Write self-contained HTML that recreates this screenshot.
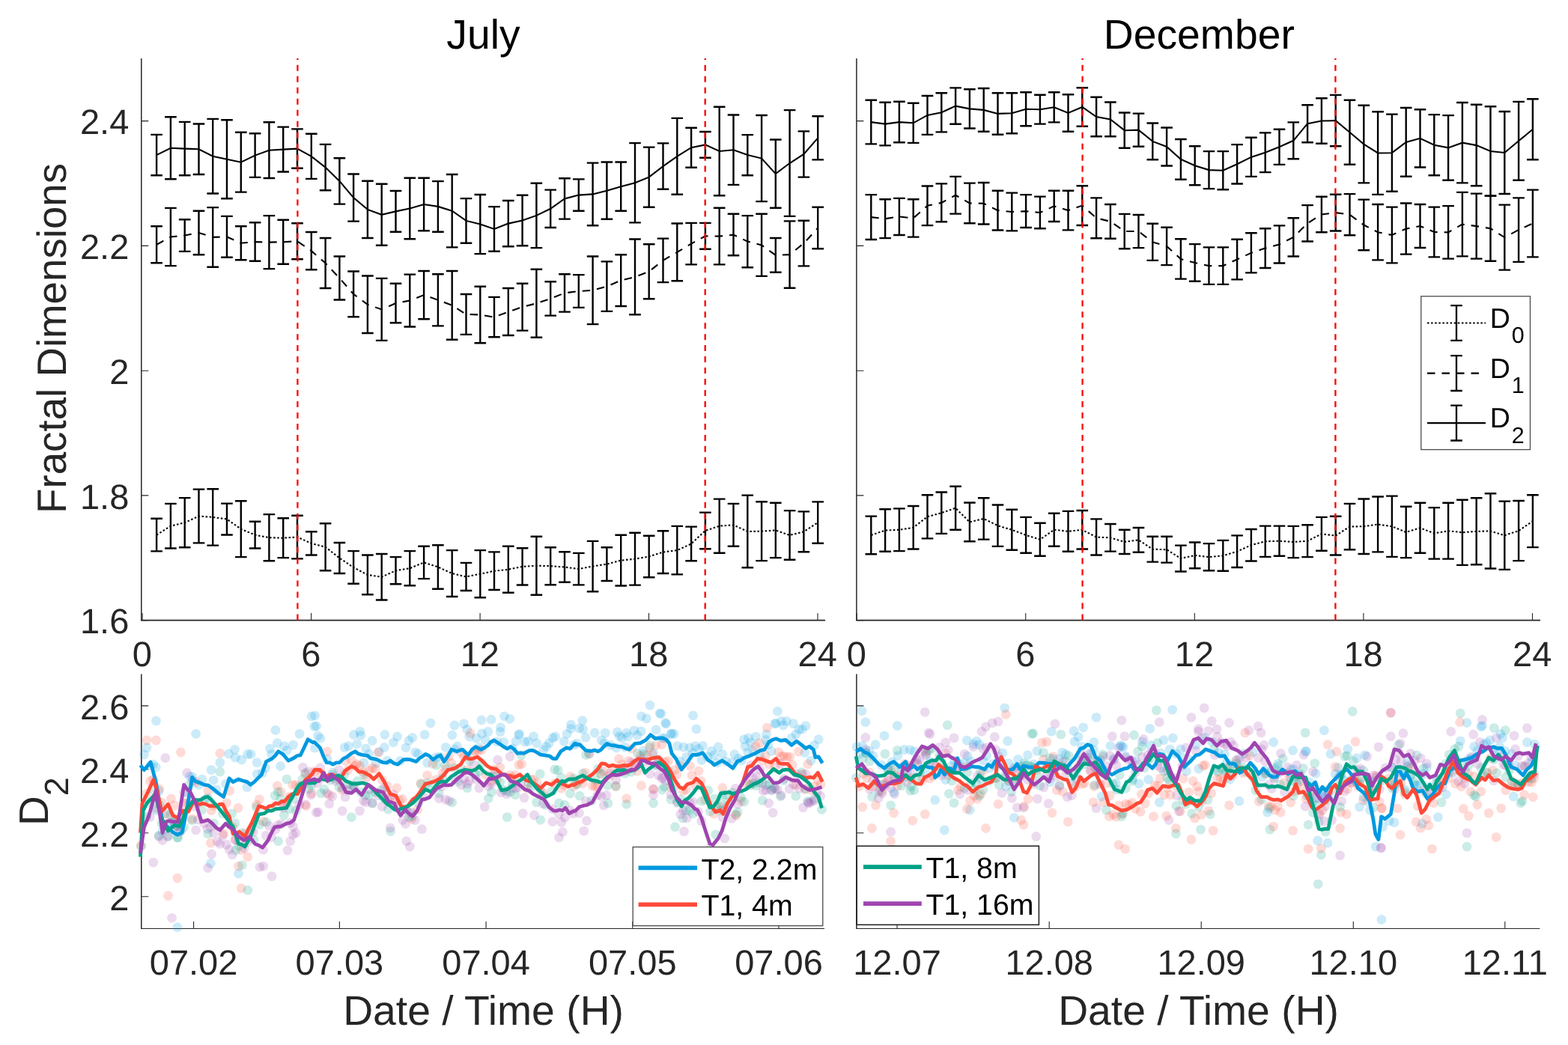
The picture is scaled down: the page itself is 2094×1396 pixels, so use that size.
<!DOCTYPE html>
<html><head><meta charset="utf-8"><title>Fractal Dimensions</title>
<style>html,body{margin:0;padding:0;background:#fff;}svg{display:block;}</style>
</head><body>
<svg width="2094" height="1396" viewBox="0 0 2094 1396" font-family="'Liberation Sans', Arial, Helvetica, sans-serif" text-rendering="geometricPrecision">
<rect width="2094" height="1396" fill="#fff"/>
<path d="M188.8 78V828.6" fill="none" stroke="#262626" stroke-width="1.5"/>
<path d="M188 828.6H1102" fill="none" stroke="#262626" stroke-width="1.6"/>
<path d="M188.8 828.6H198.3M188.8 661.9H198.3M188.8 495.2H198.3M188.8 328.4H198.3M188.8 161.6H198.3M190.1 828.6V819.1M415.6 828.6V819.1M641.1 828.6V819.1M866.5 828.6V819.1M1092 828.6V819.1" fill="none" stroke="#262626" stroke-width="1.1"/>
<path d="M1143.9 78V828.6" fill="none" stroke="#262626" stroke-width="1.5"/>
<path d="M1143.1 828.6H2057" fill="none" stroke="#262626" stroke-width="1.6"/>
<path d="M1143.9 828.6H1153.4M1143.9 661.9H1153.4M1143.9 495.2H1153.4M1143.9 328.4H1153.4M1143.9 161.6H1153.4M1144.1 828.6V819.1M1369.7 828.6V819.1M1595.3 828.6V819.1M1820.9 828.6V819.1M2046.5 828.6V819.1" fill="none" stroke="#262626" stroke-width="1.1"/>
<path d="M188.8 900.5V1240.5" fill="none" stroke="#262626" stroke-width="1.5"/>
<path d="M188 1240.5H1101" fill="none" stroke="#262626" stroke-width="1.15"/>
<path d="M188.8 1197.8H198.3M188.8 1112.8H198.3M188.8 1027.8H198.3M188.8 942.9H198.3M258.6 1240.5V1231M453.4 1240.5V1231M649.1 1240.5V1231M844.8 1240.5V1231M1040 1240.5V1231" fill="none" stroke="#262626" stroke-width="1.1"/>
<path d="M1143.9 900.5V1240.5" fill="none" stroke="#262626" stroke-width="1.5"/>
<path d="M1143.1 1240.5H2056.3" fill="none" stroke="#262626" stroke-width="1.15"/>
<path d="M1143.9 1197.8H1153.4M1143.9 1112.8H1153.4M1143.9 1027.8H1153.4M1143.9 942.9H1153.4M1198 1240.5V1231M1401.2 1240.5V1231M1604.2 1240.5V1231M1807.3 1240.5V1231M2009.8 1240.5V1231" fill="none" stroke="#262626" stroke-width="1.1"/>
<polyline points="209.1,714.6 227.9,702.7 246.7,698.2 265.5,689.5 284.2,690.9 303,693.5 321.8,706.7 340.6,714.6 359.4,718.2 378.2,718.7 397,717.5 415.8,725.9 434.6,730.7 453.4,745.5 472.1,758 490.9,767.9 509.7,770.8 528.5,762.2 547.3,759.2 566.1,751.4 584.9,757.5 603.7,766 622.5,770.5 641.3,766.7 660,762.7 678.8,760.8 697.6,756.9 716.4,755.7 735.2,756.2 754,757.5 772.8,760.1 791.6,756.5 810.4,753.6 829.2,748.6 848,746.7 866.7,743.5 885.5,737.6 904.3,735.1 923.1,726.5 941.9,708.9 960.7,702.7 979.5,701.3 998.3,710 1017.1,709.7 1035.8,708.4 1054.6,715 1073.4,710.3 1092.2,698" fill="none" stroke="#000" stroke-width="2.1" stroke-dasharray="2.5 2.6"/>
<path d="M209.1 692.8V736.4M201.3 692.8H216.9M201.3 736.4H216.9M227.9 672.9V732.5M220.1 672.9H235.7M220.1 732.5H235.7M246.7 665.1V731.2M238.9 665.1H254.5M238.9 731.2H254.5M265.5 653.6V725.4M257.7 653.6H273.3M257.7 725.4H273.3M284.2 653.2V728.6M276.4 653.2H292.1M276.4 728.6H292.1M303 672.6V714.5M295.2 672.6H310.8M295.2 714.5H310.8M321.8 669.3V744.1M314 669.3H329.6M314 744.1H329.6M340.6 696.7V732.5M332.8 696.7H348.4M332.8 732.5H348.4M359.4 687.1V749.3M351.6 687.1H367.2M351.6 749.3H367.2M378.2 692.3V745.1M370.4 692.3H386M370.4 745.1H386M397 688.7V746.4M389.2 688.7H404.8M389.2 746.4H404.8M415.8 710.2V741.5M408 710.2H423.6M408 741.5H423.6M434.6 699.2V762.2M426.8 699.2H442.4M426.8 762.2H442.4M453.4 725V766M445.6 725H461.2M445.6 766H461.2M472.1 736.1V779.8M464.3 736.1H479.9M464.3 779.8H479.9M490.9 741.5V794.2M483.1 741.5H498.7M483.1 794.2H498.7M509.7 740V801.5M501.9 740H517.5M501.9 801.5H517.5M528.5 744.1V780.2M520.7 744.1H536.3M520.7 780.2H536.3M547.3 736.1V782.2M539.5 736.1H555.1M539.5 782.2H555.1M566.1 729.7V773.1M558.3 729.7H573.9M558.3 773.1H573.9M584.9 728.3V786.7M577.1 728.3H592.7M577.1 786.7H592.7M603.7 735.1V797M595.9 735.1H611.5M595.9 797H611.5M622.5 751.9V789M614.7 751.9H630.3M614.7 789H630.3M641.3 735.1V798.3M633.5 735.1H649.1M633.5 798.3H649.1M660 737.4V788M652.2 737.4H667.8M652.2 788H667.8M678.8 729.7V791.8M671 729.7H686.6M671 791.8H686.6M697.6 732.3V781.5M689.8 732.3H705.4M689.8 781.5H705.4M716.4 716.7V794.7M708.6 716.7H724.2M708.6 794.7H724.2M735.2 731.2V781.2M727.4 731.2H743M727.4 781.2H743M754 737.3V777.7M746.2 737.3H761.8M746.2 777.7H761.8M772.8 738.9V781.4M765 738.9H780.6M765 781.4H780.6M791.6 722.9V790.2M783.8 722.9H799.4M783.8 790.2H799.4M810.4 731.2V776M802.6 731.2H818.2M802.6 776H818.2M829.2 714.8V782.5M821.4 714.8H837M821.4 782.5H837M848 711.8V781.6M840.2 711.8H855.8M840.2 781.6H855.8M866.7 715.8V771.3M858.9 715.8H874.5M858.9 771.3H874.5M885.5 709.2V766M877.7 709.2H893.3M877.7 766H893.3M904.3 702.9V767.4M896.5 702.9H912.1M896.5 767.4H912.1M923.1 703.6V749.3M915.3 703.6H930.9M915.3 749.3H930.9M941.9 684.6V733.2M934.1 684.6H949.7M934.1 733.2H949.7M960.7 666.6V738.8M952.9 666.6H968.5M952.9 738.8H968.5M979.5 672.9V729.7M971.7 672.9H987.3M971.7 729.7H987.3M998.3 661.6V758.3M990.5 661.6H1006.1M990.5 758.3H1006.1M1017.1 670.3V749.1M1009.3 670.3H1024.9M1009.3 749.1H1024.9M1035.8 671.7V745.1M1028 671.7H1043.6M1028 745.1H1043.6M1054.6 682.1V747.8M1046.8 682.1H1062.4M1046.8 747.8H1062.4M1073.4 683.4V737.3M1065.6 683.4H1081.2M1065.6 737.3H1081.2M1092.2 670.4V725.7M1084.4 670.4H1100M1084.4 725.7H1100" fill="none" stroke="#000" stroke-width="2.4"/>
<polyline points="209.1,326.8 227.9,316.5 246.7,314.5 265.5,311 284.2,316.9 303,316.4 321.8,324.8 340.6,323.1 359.4,323.6 378.2,323.2 397,322.3 415.8,335.1 434.6,351.5 453.4,371.5 472.1,392.9 490.9,406.8 509.7,413.4 528.5,405.1 547.3,401.6 566.1,394.1 584.9,400.8 603.7,407.9 622.5,419.9 641.3,420.5 660,423.6 678.8,416.5 697.6,410.2 716.4,405.2 735.2,398.9 754,391.4 772.8,389 791.6,387.8 810.4,382.6 829.2,374.6 848,369.9 866.7,362.8 885.5,347.9 904.3,336.9 923.1,325.6 941.9,315.4 960.7,315.6 979.5,313.6 998.3,322.6 1017.1,327.4 1035.8,340.9 1054.6,340.1 1073.4,325.1 1092.2,304.5" fill="none" stroke="#000" stroke-width="2.1" stroke-dasharray="10.5 9"/>
<path d="M209.1 302.3V351.2M201.3 302.3H216.9M201.3 351.2H216.9M227.9 277.9V355.1M220.1 277.9H235.7M220.1 355.1H235.7M246.7 293.2V335.9M238.9 293.2H254.5M238.9 335.9H254.5M265.5 281.8V340.2M257.7 281.8H273.3M257.7 340.2H273.3M284.2 277.1V356.7M276.4 277.1H292.1M276.4 356.7H292.1M303 288.9V343.8M295.2 288.9H310.8M295.2 343.8H310.8M321.8 302.3V347.2M314 302.3H329.6M314 347.2H329.6M340.6 297.3V348.8M332.8 297.3H348.4M332.8 348.8H348.4M359.4 288.1V359.1M351.6 288.1H367.2M351.6 359.1H367.2M378.2 293.7V352.8M370.4 293.7H386M370.4 352.8H386M397 298.3V346.3M389.2 298.3H404.8M389.2 346.3H404.8M415.8 310V360.2M408 310H423.6M408 360.2H423.6M434.6 318V385M426.8 318H442.4M426.8 385H442.4M453.4 342.5V400.5M445.6 342.5H461.2M445.6 400.5H461.2M472.1 362.5V423.2M464.3 362.5H479.9M464.3 423.2H479.9M490.9 368.5V445M483.1 368.5H498.7M483.1 445H498.7M509.7 371.9V454.9M501.9 371.9H517.5M501.9 454.9H517.5M528.5 378.8V431.3M520.7 378.8H536.3M520.7 431.3H536.3M547.3 366.6V436.5M539.5 366.6H555.1M539.5 436.5H555.1M566.1 362V426.2M558.3 362H573.9M558.3 426.2H573.9M584.9 366.2V435.4M577.1 366.2H592.7M577.1 435.4H592.7M603.7 362V453.7M595.9 362H611.5M595.9 453.7H611.5M622.5 393V446.9M614.7 393H630.3M614.7 446.9H630.3M641.3 382.7V458.3M633.5 382.7H649.1M633.5 458.3H649.1M660 396.9V450.3M652.2 396.9H667.8M652.2 450.3H667.8M678.8 385V448M671 385H686.6M671 448H686.6M697.6 378.8V441.6M689.8 378.8H705.4M689.8 441.6H705.4M716.4 359.7V450.7M708.6 359.7H724.2M708.6 450.7H724.2M735.2 376.2V421.6M727.4 376.2H743M727.4 421.6H743M754 366.2V416.6M746.2 366.2H761.8M746.2 416.6H761.8M772.8 367.1V410.9M765 367.1H780.6M765 410.9H780.6M791.6 342.5V433.1M783.8 342.5H799.4M783.8 433.1H799.4M810.4 349.4V415.9M802.6 349.4H818.2M802.6 415.9H818.2M829.2 340.3V409M821.4 340.3H837M821.4 409H837M848 319.5V420.2M840.2 319.5H855.8M840.2 420.2H855.8M866.7 326.3V399.3M858.9 326.3H874.5M858.9 399.3H874.5M885.5 318.6V377.1M877.7 318.6H893.3M877.7 377.1H893.3M904.3 298.5V375.3M896.5 298.5H912.1M896.5 375.3H912.1M923.1 297.9V353.4M915.3 297.9H930.9M915.3 353.4H930.9M941.9 297.9V332.8M934.1 297.9H949.7M934.1 332.8H949.7M960.7 277.8V353.4M952.9 277.8H968.5M952.9 353.4H968.5M979.5 285.8V341.3M971.7 285.8H987.3M971.7 341.3H987.3M998.3 288.1V357.2M990.5 288.1H1006.1M990.5 357.2H1006.1M1017.1 285.8V368.9M1009.3 285.8H1024.9M1009.3 368.9H1024.9M1035.8 318V363.7M1028 318H1043.6M1028 363.7H1043.6M1054.6 295.4V384.8M1046.8 295.4H1062.4M1046.8 384.8H1062.4M1073.4 294.8V355.4M1065.6 294.8H1081.2M1065.6 355.4H1081.2M1092.2 276.8V332.2M1084.4 276.8H1100M1084.4 332.2H1100" fill="none" stroke="#000" stroke-width="2.4"/>
<polyline points="209.1,207.1 227.9,197.8 246.7,198.6 265.5,199.2 284.2,208.7 303,212.8 321.8,216.7 340.6,207.6 359.4,200.7 378.2,199.6 397,198.6 415.8,208.8 434.6,223.6 453.4,241.9 472.1,264.1 490.9,279.9 509.7,286.8 528.5,282.4 547.3,278.5 566.1,273 584.9,275.9 603.7,281.7 622.5,294.9 641.3,299.6 660,305.9 678.8,298.6 697.6,294.5 716.4,287.9 735.2,278.8 754,265.5 772.8,260.6 791.6,259.4 810.4,254.7 829.2,249.2 848,244.2 866.7,236.7 885.5,222.1 904.3,208.9 923.1,197.2 941.9,193.4 960.7,202 979.5,200.2 998.3,207.1 1017.1,211.6 1035.8,232.2 1054.6,218 1073.4,206 1092.2,184.4" fill="none" stroke="#000" stroke-width="2.1"/>
<path d="M209.1 179.9V234.2M201.3 179.9H216.9M201.3 234.2H216.9M227.9 156.2V239.3M220.1 156.2H235.7M220.1 239.3H235.7M246.7 162.9V234.2M238.9 162.9H254.5M238.9 234.2H254.5M265.5 165.5V233M257.7 165.5H273.3M257.7 233H273.3M284.2 158.9V258.5M276.4 158.9H292.1M276.4 258.5H292.1M303 160.2V265.3M295.2 160.2H310.8M295.2 265.3H310.8M321.8 176.7V256.6M314 176.7H329.6M314 256.6H329.6M340.6 178.3V236.9M332.8 178.3H348.4M332.8 236.9H348.4M359.4 163.3V238M351.6 163.3H367.2M351.6 238H367.2M378.2 169.6V229.5M370.4 169.6H386M370.4 229.5H386M397 172.4V224.8M389.2 172.4H404.8M389.2 224.8H404.8M415.8 178.7V238.9M408 178.7H423.6M408 238.9H423.6M434.6 192.9V254.3M426.8 192.9H442.4M426.8 254.3H442.4M453.4 211.2V272.6M445.6 211.2H461.2M445.6 272.6H461.2M472.1 232.5V295.6M464.3 232.5H479.9M464.3 295.6H479.9M490.9 241.7V318M483.1 241.7H498.7M483.1 318H498.7M509.7 245.8V327.7M501.9 245.8H517.5M501.9 327.7H517.5M528.5 255V309.8M520.7 255H536.3M520.7 309.8H536.3M547.3 237.8V319.2M539.5 237.8H555.1M539.5 319.2H555.1M566.1 237.8V308.2M558.3 237.8H573.9M558.3 308.2H573.9M584.9 242.1V309.8M577.1 242.1H592.7M577.1 309.8H592.7M603.7 233V330.4M595.9 233H611.5M595.9 330.4H611.5M622.5 265.1V324.7M614.7 265.1H630.3M614.7 324.7H630.3M641.3 260V339.1M633.5 260H649.1M633.5 339.1H649.1M660 276.1V335.7M652.2 276.1H667.8M652.2 335.7H667.8M678.8 268V329.3M671 268H686.6M671 329.3H686.6M697.6 260.7V328.3M689.8 260.7H705.4M689.8 328.3H705.4M716.4 244.7V331.1M708.6 244.7H724.2M708.6 331.1H724.2M735.2 253.6V304M727.4 253.6H743M727.4 304H743M754 238.3V292.6M746.2 238.3H761.8M746.2 292.6H761.8M772.8 239.4V281.8M765 239.4H780.6M765 281.8H780.6M791.6 217.6V301.3M783.8 217.6H799.4M783.8 301.3H799.4M810.4 216.5V292.8M802.6 216.5H818.2M802.6 292.8H818.2M829.2 216.5V281.8M821.4 216.5H837M821.4 281.8H837M848 191.1V297.4M840.2 191.1H855.8M840.2 297.4H855.8M866.7 196.6V276.8M858.9 196.6H874.5M858.9 276.8H874.5M885.5 191.4V252.8M877.7 191.4H893.3M877.7 252.8H893.3M904.3 157.9V259.8M896.5 157.9H912.1M896.5 259.8H912.1M923.1 170.8V223.7M915.3 170.8H930.9M915.3 223.7H930.9M941.9 176V210.8M934.1 176H949.7M934.1 210.8H949.7M960.7 142.7V261.3M952.9 142.7H968.5M952.9 261.3H968.5M979.5 153.5V246.9M971.7 153.5H987.3M971.7 246.9H987.3M998.3 180.1V234.2M990.5 180.1H1006.1M990.5 234.2H1006.1M1017.1 154V269.1M1009.3 154H1024.9M1009.3 269.1H1024.9M1035.8 186.5V277.8M1028 186.5H1043.6M1028 277.8H1043.6M1054.6 147.1V288.9M1046.8 147.1H1062.4M1046.8 288.9H1062.4M1073.4 175.4V236.6M1065.6 175.4H1081.2M1065.6 236.6H1081.2M1092.2 155.3V213.4M1084.4 155.3H1100M1084.4 213.4H1100" fill="none" stroke="#000" stroke-width="2.4"/>
<polyline points="1163.3,714.9 1182.1,708.5 1200.9,707.8 1219.7,704.8 1238.5,690.3 1257.3,685.2 1276.1,678.7 1294.9,697.4 1313.7,692.9 1332.5,702.2 1351.3,707.8 1370.1,714.8 1388.9,720.8 1407.7,707.7 1426.5,709.8 1445.3,707.8 1464.1,717.5 1482.9,718.3 1501.7,723.9 1520.5,721.4 1539.3,733.7 1558.1,734.2 1576.9,746 1595.7,741.9 1614.5,744.2 1633.3,742.3 1652.1,736.7 1670.9,728.2 1689.7,723.2 1708.5,722.7 1727.3,724 1746.1,722.7 1764.9,713.3 1783.7,715.6 1802.5,703.5 1821.3,703.2 1840.1,700.5 1858.9,703.2 1877.7,711 1896.5,705.3 1915.3,712.4 1934.1,709.2 1952.9,711.3 1971.7,709.8 1990.5,709.4 2009.3,715.2 2028.1,709 2046.9,696.2" fill="none" stroke="#000" stroke-width="2.1" stroke-dasharray="2.5 2.6"/>
<path d="M1163.3 689.6V740.2M1155.5 689.6H1171.1M1155.5 740.2H1171.1M1182.1 680.3V736.8M1174.3 680.3H1189.9M1174.3 736.8H1189.9M1200.9 679.4V736.1M1193.1 679.4H1208.7M1193.1 736.1H1208.7M1219.7 676V733.5M1211.9 676H1227.5M1211.9 733.5H1227.5M1238.5 661.2V719.4M1230.7 661.2H1246.3M1230.7 719.4H1246.3M1257.3 657.5V712.9M1249.5 657.5H1265.1M1249.5 712.9H1265.1M1276.1 649.7V707.7M1268.3 649.7H1283.9M1268.3 707.7H1283.9M1294.9 671.5V723.2M1287.1 671.5H1302.7M1287.1 723.2H1302.7M1313.7 665.2V720.6M1305.9 665.2H1321.5M1305.9 720.6H1321.5M1332.5 674.5V729.9M1324.7 674.5H1340.3M1324.7 729.9H1340.3M1351.3 680.7V734.8M1343.5 680.7H1359.1M1343.5 734.8H1359.1M1370.1 690.9V738.7M1362.3 690.9H1377.9M1362.3 738.7H1377.9M1388.9 698.7V742.8M1381.1 698.7H1396.7M1381.1 742.8H1396.7M1407.7 685.7V729.7M1399.9 685.7H1415.5M1399.9 729.7H1415.5M1426.5 682.9V736.8M1418.7 682.9H1434.3M1418.7 736.8H1434.3M1445.3 682V733.5M1437.5 682H1453.1M1437.5 733.5H1453.1M1464.1 693.4V741.5M1456.3 693.4H1471.9M1456.3 741.5H1471.9M1482.9 700V736.6M1475.1 700H1490.7M1475.1 736.6H1490.7M1501.7 707.8V740M1493.9 707.8H1509.5M1493.9 740H1509.5M1520.5 705V737.7M1512.7 705H1528.3M1512.7 737.7H1528.3M1539.3 716.8V750.6M1531.5 716.8H1547.1M1531.5 750.6H1547.1M1558.1 716.8V751.6M1550.3 716.8H1565.9M1550.3 751.6H1565.9M1576.9 728.6V763.5M1569.1 728.6H1584.7M1569.1 763.5H1584.7M1595.7 724.5V759.3M1587.9 724.5H1603.5M1587.9 759.3H1603.5M1614.5 726.1V762.2M1606.7 726.1H1622.3M1606.7 762.2H1622.3M1633.3 721.9V762.8M1625.5 721.9H1641.1M1625.5 762.8H1641.1M1652.1 715.4V758M1644.3 715.4H1659.9M1644.3 758H1659.9M1670.9 707V749.5M1663.1 707H1678.7M1663.1 749.5H1678.7M1689.7 702.6V743.9M1681.9 702.6H1697.5M1681.9 743.9H1697.5M1708.5 702.6V742.8M1700.7 702.6H1716.3M1700.7 742.8H1716.3M1727.3 702.9V745.1M1719.5 702.9H1735.1M1719.5 745.1H1735.1M1746.1 701.3V744.1M1738.3 701.3H1753.9M1738.3 744.1H1753.9M1764.9 690.9V735.7M1757.1 690.9H1772.7M1757.1 735.7H1772.7M1783.7 689.7V741.5M1775.9 689.7H1791.5M1775.9 741.5H1791.5M1802.5 672.9V734.2M1794.7 672.9H1810.3M1794.7 734.2H1810.3M1821.3 666.5V740M1813.5 666.5H1829.1M1813.5 740H1829.1M1840.1 663.5V737.4M1832.3 663.5H1847.9M1832.3 737.4H1847.9M1858.9 662.6V743.9M1851.1 662.6H1866.7M1851.1 743.9H1866.7M1877.7 676.8V745.1M1869.9 676.8H1885.5M1869.9 745.1H1885.5M1896.5 671.8V738.8M1888.7 671.8H1904.3M1888.7 738.8H1904.3M1915.3 678.1V746.6M1907.5 678.1H1923.1M1907.5 746.6H1923.1M1934.1 671.8V746.6M1926.3 671.8H1941.9M1926.3 746.6H1941.9M1952.9 667.8V754.9M1945.1 667.8H1960.7M1945.1 754.9H1960.7M1971.7 665.3V754.2M1963.9 665.3H1979.5M1963.9 754.2H1979.5M1990.5 659.2V759.5M1982.7 659.2H1998.3M1982.7 759.5H1998.3M2009.3 669.6V760.9M2001.5 669.6H2017.1M2001.5 760.9H2017.1M2028.1 669V749.1M2020.3 669H2035.9M2020.3 749.1H2035.9M2046.9 661.3V731.1M2039.1 661.3H2054.7M2039.1 731.1H2054.7" fill="none" stroke="#000" stroke-width="2.4"/>
<polyline points="1163.3,290.1 1182.1,292.2 1200.9,289.4 1219.7,291.5 1238.5,274.8 1257.3,270.9 1276.1,260.8 1294.9,271.4 1313.7,271.8 1332.5,281.1 1351.3,283 1370.1,282.1 1388.9,284 1407.7,275.4 1426.5,281.1 1445.3,274.6 1464.1,291.3 1482.9,295.9 1501.7,309 1520.5,309.1 1539.3,323.4 1558.1,329 1576.9,346 1595.7,351 1614.5,355.1 1633.3,355.1 1652.1,346.5 1670.9,337.9 1689.7,331.6 1708.5,326.4 1727.3,316.9 1746.1,298.3 1764.9,286.4 1783.7,284.1 1802.5,286.7 1821.3,300.5 1840.1,310.2 1858.9,314 1877.7,305.6 1896.5,302 1915.3,310 1934.1,310.4 1952.9,299.6 1971.7,302.1 1990.5,305.2 2009.3,317.1 2028.1,307.1 2046.9,298.5" fill="none" stroke="#000" stroke-width="2.1" stroke-dasharray="10.5 9"/>
<path d="M1163.3 260.1V320M1155.5 260.1H1171.1M1155.5 320H1171.1M1182.1 266.3V318.1M1174.3 266.3H1189.9M1174.3 318.1H1189.9M1200.9 264.9V314M1193.1 264.9H1208.7M1193.1 314H1208.7M1219.7 266.3V316.6M1211.9 266.3H1227.5M1211.9 316.6H1227.5M1238.5 248.5V301.1M1230.7 248.5H1246.3M1230.7 301.1H1246.3M1257.3 245.4V296.3M1249.5 245.4H1265.1M1249.5 296.3H1265.1M1276.1 235.9V285.6M1268.3 235.9H1283.9M1268.3 285.6H1283.9M1294.9 244.6V298.2M1287.1 244.6H1302.7M1287.1 298.2H1302.7M1313.7 244V299.5M1305.9 244H1321.5M1305.9 299.5H1321.5M1332.5 254.7V307.5M1324.7 254.7H1340.3M1324.7 307.5H1340.3M1351.3 257.6V308.4M1343.5 257.6H1359.1M1343.5 308.4H1359.1M1370.1 260.1V304M1362.3 260.1H1377.9M1362.3 304H1377.9M1388.9 262.6V305.3M1381.1 262.6H1396.7M1381.1 305.3H1396.7M1407.7 254.8V296M1399.9 254.8H1415.5M1399.9 296H1415.5M1426.5 254.8V307.4M1418.7 254.8H1434.3M1418.7 307.4H1434.3M1445.3 248.3V301M1437.5 248.3H1453.1M1437.5 301H1453.1M1464.1 264.4V318.2M1456.3 264.4H1471.9M1456.3 318.2H1471.9M1482.9 273V318.8M1475.1 273H1490.7M1475.1 318.8H1490.7M1501.7 285.9V332.2M1493.9 285.9H1509.5M1493.9 332.2H1509.5M1520.5 287V331.1M1512.7 287H1528.3M1512.7 331.1H1528.3M1539.3 298.8V347.9M1531.5 298.8H1547.1M1531.5 347.9H1547.1M1558.1 303.8V354.1M1550.3 303.8H1565.9M1550.3 354.1H1565.9M1576.9 319.3V372.6M1569.1 319.3H1584.7M1569.1 372.6H1584.7M1595.7 326.1V375.8M1587.9 326.1H1603.5M1587.9 375.8H1603.5M1614.5 330.4V379.9M1606.7 330.4H1622.3M1606.7 379.9H1622.3M1633.3 330.4V379.9M1625.5 330.4H1641.1M1625.5 379.9H1641.1M1652.1 319.7V373.4M1644.3 319.7H1659.9M1644.3 373.4H1659.9M1670.9 311.3V364.4M1663.1 311.3H1678.7M1663.1 364.4H1678.7M1689.7 305.3V358M1681.9 305.3H1697.5M1681.9 358H1697.5M1708.5 301.4V351.5M1700.7 301.4H1716.3M1700.7 351.5H1716.3M1727.3 291.3V342.5M1719.5 291.3H1735.1M1719.5 342.5H1735.1M1746.1 274.1V322.5M1738.3 274.1H1753.9M1738.3 322.5H1753.9M1764.9 262.7V310.2M1757.1 262.7H1772.7M1757.1 310.2H1772.7M1783.7 259.7V308.5M1775.9 259.7H1791.5M1775.9 308.5H1791.5M1802.5 259.1V314.3M1794.7 259.1H1810.3M1794.7 314.3H1810.3M1821.3 266.6V334.3M1813.5 266.6H1829.1M1813.5 334.3H1829.1M1840.1 273V347.4M1832.3 273H1847.9M1832.3 347.4H1847.9M1858.9 276.6V351.4M1851.1 276.6H1866.7M1851.1 351.4H1866.7M1877.7 271.5V339.6M1869.9 271.5H1885.5M1869.9 339.6H1885.5M1896.5 273V331M1888.7 273H1904.3M1888.7 331H1904.3M1915.3 276.6V343.4M1907.5 276.6H1923.1M1907.5 343.4H1923.1M1934.1 275.1V345.6M1926.3 275.1H1941.9M1926.3 345.6H1941.9M1952.9 256.9V342.4M1945.1 256.9H1960.7M1945.1 342.4H1960.7M1971.7 258.6V345.6M1963.9 258.6H1979.5M1963.9 345.6H1979.5M1990.5 261.6V348.8M1982.7 261.6H1998.3M1982.7 348.8H1998.3M2009.3 273.6V360.6M2001.5 273.6H2017.1M2001.5 360.6H2017.1M2028.1 264.4V349.9M2020.3 264.4H2035.9M2020.3 349.9H2035.9M2046.9 253.6V343.4M2039.1 253.6H2054.7M2039.1 343.4H2054.7" fill="none" stroke="#000" stroke-width="2.4"/>
<polyline points="1163.3,163.1 1182.1,165.6 1200.9,163.1 1219.7,164.3 1238.5,153.9 1257.3,150.3 1276.1,141.6 1294.9,145.4 1313.7,146.9 1332.5,151.9 1351.3,151.2 1370.1,145.8 1388.9,146.2 1407.7,143.3 1426.5,150.9 1445.3,143 1464.1,156 1482.9,159.4 1501.7,174.2 1520.5,173.6 1539.3,188.9 1558.1,196 1576.9,212.8 1595.7,221.2 1614.5,227.1 1633.3,227.7 1652.1,219.3 1670.9,209.9 1689.7,203.8 1708.5,196.3 1727.3,187.8 1746.1,165.2 1764.9,161.5 1783.7,161.1 1802.5,176.7 1821.3,192.6 1840.1,204.5 1858.9,204.2 1877.7,189.9 1896.5,184.8 1915.3,193.7 1934.1,197.4 1952.9,190.7 1971.7,194.1 1990.5,202 2009.3,204 2028.1,188.3 2046.9,172.7" fill="none" stroke="#000" stroke-width="2.1"/>
<path d="M1163.3 133.8V192.4M1155.5 133.8H1171.1M1155.5 192.4H1171.1M1182.1 136.7V194.4M1174.3 136.7H1189.9M1174.3 194.4H1189.9M1200.9 135.8V190.3M1193.1 135.8H1208.7M1193.1 190.3H1208.7M1219.7 137.7V190.9M1211.9 137.7H1227.5M1211.9 190.9H1227.5M1238.5 128V179.9M1230.7 128H1246.3M1230.7 179.9H1246.3M1257.3 124.2V176.4M1249.5 124.2H1265.1M1249.5 176.4H1265.1M1276.1 117.4V165.7M1268.3 117.4H1283.9M1268.3 165.7H1283.9M1294.9 119.3V171.5M1287.1 119.3H1302.7M1287.1 171.5H1302.7M1313.7 118V175.8M1305.9 118H1321.5M1305.9 175.8H1321.5M1332.5 124.2V179.7M1324.7 124.2H1340.3M1324.7 179.7H1340.3M1351.3 124.2V178.3M1343.5 124.2H1359.1M1343.5 178.3H1359.1M1370.1 123.2V168.3M1362.3 123.2H1377.9M1362.3 168.3H1377.9M1388.9 126.8V165.6M1381.1 126.8H1396.7M1381.1 165.6H1396.7M1407.7 123.2V163.4M1399.9 123.2H1415.5M1399.9 163.4H1415.5M1426.5 126.2V175.7M1418.7 126.2H1434.3M1418.7 175.7H1434.3M1445.3 117.2V168.8M1437.5 117.2H1453.1M1437.5 168.8H1453.1M1464.1 129.7V182.3M1456.3 129.7H1471.9M1456.3 182.3H1471.9M1482.9 136.5V182.3M1475.1 136.5H1490.7M1475.1 182.3H1490.7M1501.7 150.5V197.8M1493.9 150.5H1509.5M1493.9 197.8H1509.5M1520.5 151.6V195.7M1512.7 151.6H1528.3M1512.7 195.7H1528.3M1539.3 164.5V213.3M1531.5 164.5H1547.1M1531.5 213.3H1547.1M1558.1 170.5V221.5M1550.3 170.5H1565.9M1550.3 221.5H1565.9M1576.9 186V239.7M1569.1 186H1584.7M1569.1 239.7H1584.7M1595.7 195.2V247.2M1587.9 195.2H1603.5M1587.9 247.2H1603.5M1614.5 202.1V252.1M1606.7 202.1H1622.3M1606.7 252.1H1622.3M1633.3 202.1V253.3M1625.5 202.1H1641.1M1625.5 253.3H1641.1M1652.1 193.1V245.5M1644.3 193.1H1659.9M1644.3 245.5H1659.9M1670.9 183.8V235.9M1663.1 183.8H1678.7M1663.1 235.9H1678.7M1689.7 177.4V230.1M1681.9 177.4H1697.5M1681.9 230.1H1697.5M1708.5 172.7V219.9M1700.7 172.7H1716.3M1700.7 219.9H1716.3M1727.3 163.4V212.2M1719.5 163.4H1735.1M1719.5 212.2H1735.1M1746.1 140.2V190.3M1738.3 140.2H1753.9M1738.3 190.3H1753.9M1764.9 131.2V191.8M1757.1 131.2H1772.7M1757.1 191.8H1772.7M1783.7 126.9V195.2M1775.9 126.9H1791.5M1775.9 195.2H1791.5M1802.5 133.7V219.7M1794.7 133.7H1810.3M1794.7 219.7H1810.3M1821.3 140.8V244.4M1813.5 140.8H1829.1M1813.5 244.4H1829.1M1840.1 149.2V259.9M1832.3 149.2H1847.9M1832.3 259.9H1847.9M1858.9 152.6V255.8M1851.1 152.6H1866.7M1851.1 255.8H1866.7M1877.7 144V235.8M1869.9 144H1885.5M1869.9 235.8H1885.5M1896.5 146.2V223.5M1888.7 146.2H1904.3M1888.7 223.5H1904.3M1915.3 153.1V234.3M1907.5 153.1H1923.1M1907.5 234.3H1923.1M1934.1 154.1V240.7M1926.3 154.1H1941.9M1926.3 240.7H1941.9M1952.9 137V244.4M1945.1 137H1960.7M1945.1 244.4H1960.7M1971.7 139.8V248.3M1963.9 139.8H1979.5M1963.9 248.3H1979.5M1990.5 142.3V261.6M1982.7 142.3H1998.3M1982.7 261.6H1998.3M2009.3 149V259M2001.5 149H2017.1M2001.5 259H2017.1M2028.1 135.9V240.7M2020.3 135.9H2035.9M2020.3 240.7H2035.9M2046.9 132.2V213.2M2039.1 132.2H2054.7M2039.1 213.2H2054.7" fill="none" stroke="#000" stroke-width="2.4"/>
<line x1="397.4" y1="828.4" x2="397.4" y2="78" stroke="#ff0000" stroke-width="2.3" stroke-dasharray="8 6.97"/>
<line x1="941.7" y1="828.4" x2="941.7" y2="78" stroke="#ff0000" stroke-width="2.3" stroke-dasharray="8 6.97"/>
<line x1="1445.6" y1="828.4" x2="1445.6" y2="78" stroke="#ff0000" stroke-width="2.3" stroke-dasharray="8 6.97"/>
<line x1="1783.4" y1="828.4" x2="1783.4" y2="78" stroke="#ff0000" stroke-width="2.3" stroke-dasharray="8 6.97"/>
<text x="172.3" y="846.4" font-size="47" text-anchor="end" fill="#262626">1.6</text>
<text x="172.3" y="679.7" font-size="47" text-anchor="end" fill="#262626">1.8</text>
<text x="172.3" y="513" font-size="47" text-anchor="end" fill="#262626">2</text>
<text x="172.3" y="346.2" font-size="47" text-anchor="end" fill="#262626">2.2</text>
<text x="172.3" y="179.4" font-size="47" text-anchor="end" fill="#262626">2.4</text>
<text x="189.8" y="889.6" font-size="47" text-anchor="middle" fill="#262626">0</text>
<text x="415.3" y="889.6" font-size="47" text-anchor="middle" fill="#262626">6</text>
<text x="640.8" y="889.6" font-size="47" text-anchor="middle" fill="#262626">12</text>
<text x="866.2" y="889.6" font-size="47" text-anchor="middle" fill="#262626">18</text>
<text x="1091.7" y="889.6" font-size="47" text-anchor="middle" fill="#262626">24</text>
<text x="1143.8" y="889.6" font-size="47" text-anchor="middle" fill="#262626">0</text>
<text x="1369.4" y="889.6" font-size="47" text-anchor="middle" fill="#262626">6</text>
<text x="1595" y="889.6" font-size="47" text-anchor="middle" fill="#262626">12</text>
<text x="1820.6" y="889.6" font-size="47" text-anchor="middle" fill="#262626">18</text>
<text x="2046.2" y="889.6" font-size="47" text-anchor="middle" fill="#262626">24</text>
<text x="645.5" y="64.8" font-size="55.3" text-anchor="middle" fill="#000">July</text>
<text x="1601.3" y="64.8" font-size="55.3" text-anchor="middle" fill="#000">December</text>
<text transform="translate(88.4 451.9) rotate(-90)" font-size="54.7" text-anchor="middle" fill="#262626">Fractal Dimensions</text>
<rect x="1897.8" y="395.8" width="145.7" height="204.8" fill="#fff" stroke="#4a4a4a" stroke-width="1.3"/>
<line x1="1906" y1="431.5" x2="1984" y2="431.5" stroke="#000" stroke-width="2.2" stroke-dasharray="2.5 2.6"/>
<path d="M1945 408.1V454.9M1937.2 408.1H1952.8M1937.2 454.9H1952.8" stroke="#000" stroke-width="2.3" fill="none"/>
<text x="1989.8" y="437.8" font-size="37.5" fill="#000">D</text>
<text x="2018.8" y="458.2" font-size="30.5" fill="#000">0</text>
<line x1="1906" y1="498.6" x2="1984" y2="498.6" stroke="#000" stroke-width="2.2" stroke-dasharray="10.5 9"/>
<path d="M1945 475.2V522M1937.2 475.2H1952.8M1937.2 522H1952.8" stroke="#000" stroke-width="2.3" fill="none"/>
<text x="1989.8" y="504.9" font-size="37.5" fill="#000">D</text>
<text x="2018.8" y="525.3" font-size="30.5" fill="#000">1</text>
<line x1="1906" y1="565.1" x2="1984" y2="565.1" stroke="#000" stroke-width="2.2"/>
<path d="M1945 541.7V588.5M1937.2 541.7H1952.8M1937.2 588.5H1952.8" stroke="#000" stroke-width="2.3" fill="none"/>
<text x="1989.8" y="571.4" font-size="37.5" fill="#000">D</text>
<text x="2018.8" y="591.8" font-size="30.5" fill="#000">2</text>
<circle cx="192.4" cy="1008" r="6.4" fill="#0099df" fill-opacity="0.2"/>
<circle cx="200.9" cy="1022.8" r="6.4" fill="#0099df" fill-opacity="0.2"/>
<circle cx="204.7" cy="1021.1" r="6.4" fill="#0099df" fill-opacity="0.2"/>
<circle cx="208.3" cy="1025" r="6.4" fill="#0099df" fill-opacity="0.2"/>
<circle cx="212.1" cy="1056.6" r="6.4" fill="#0099df" fill-opacity="0.2"/>
<circle cx="216.8" cy="1110.5" r="6.4" fill="#0099df" fill-opacity="0.2"/>
<circle cx="220.6" cy="1086.3" r="6.4" fill="#0099df" fill-opacity="0.2"/>
<circle cx="229.4" cy="1098.5" r="6.4" fill="#0099df" fill-opacity="0.2"/>
<circle cx="232.5" cy="1104" r="6.4" fill="#0099df" fill-opacity="0.2"/>
<circle cx="236.6" cy="1103.9" r="6.4" fill="#0099df" fill-opacity="0.2"/>
<circle cx="248.5" cy="1058.4" r="6.4" fill="#0099df" fill-opacity="0.2"/>
<circle cx="253.3" cy="1037.2" r="6.4" fill="#0099df" fill-opacity="0.2"/>
<circle cx="257.1" cy="1038" r="6.4" fill="#0099df" fill-opacity="0.2"/>
<circle cx="265.4" cy="1048.5" r="6.4" fill="#0099df" fill-opacity="0.2"/>
<circle cx="269.9" cy="1041.2" r="6.4" fill="#0099df" fill-opacity="0.2"/>
<circle cx="277.8" cy="1065.9" r="6.4" fill="#0099df" fill-opacity="0.2"/>
<circle cx="282.1" cy="1028.5" r="6.4" fill="#0099df" fill-opacity="0.2"/>
<circle cx="285.1" cy="1042.3" r="6.4" fill="#0099df" fill-opacity="0.2"/>
<circle cx="289" cy="1054.8" r="6.4" fill="#0099df" fill-opacity="0.2"/>
<circle cx="301.5" cy="1047" r="6.4" fill="#0099df" fill-opacity="0.2"/>
<circle cx="305.5" cy="1007" r="6.4" fill="#0099df" fill-opacity="0.2"/>
<circle cx="314.2" cy="1012.1" r="6.4" fill="#0099df" fill-opacity="0.2"/>
<circle cx="322.6" cy="1015" r="6.4" fill="#0099df" fill-opacity="0.2"/>
<circle cx="330" cy="1051.6" r="6.4" fill="#0099df" fill-opacity="0.2"/>
<circle cx="335" cy="1007.5" r="6.4" fill="#0099df" fill-opacity="0.2"/>
<circle cx="343.2" cy="1034.1" r="6.4" fill="#0099df" fill-opacity="0.2"/>
<circle cx="350.5" cy="1032.6" r="6.4" fill="#0099df" fill-opacity="0.2"/>
<circle cx="354.6" cy="1025.6" r="6.4" fill="#0099df" fill-opacity="0.2"/>
<circle cx="362.6" cy="1007.6" r="6.4" fill="#0099df" fill-opacity="0.2"/>
<circle cx="370.4" cy="992.7" r="6.4" fill="#0099df" fill-opacity="0.2"/>
<circle cx="374.6" cy="1023.5" r="6.4" fill="#0099df" fill-opacity="0.2"/>
<circle cx="379.7" cy="996.6" r="6.4" fill="#0099df" fill-opacity="0.2"/>
<circle cx="383.2" cy="1002.3" r="6.4" fill="#0099df" fill-opacity="0.2"/>
<circle cx="391.5" cy="995.1" r="6.4" fill="#0099df" fill-opacity="0.2"/>
<circle cx="420.5" cy="999.2" r="6.4" fill="#0099df" fill-opacity="0.2"/>
<circle cx="424.6" cy="982.8" r="6.4" fill="#0099df" fill-opacity="0.2"/>
<circle cx="427.9" cy="986.3" r="6.4" fill="#0099df" fill-opacity="0.2"/>
<circle cx="437" cy="1014.1" r="6.4" fill="#0099df" fill-opacity="0.2"/>
<circle cx="444" cy="1035.1" r="6.4" fill="#0099df" fill-opacity="0.2"/>
<circle cx="460.1" cy="998.6" r="6.4" fill="#0099df" fill-opacity="0.2"/>
<circle cx="465.5" cy="996.7" r="6.4" fill="#0099df" fill-opacity="0.2"/>
<circle cx="472.5" cy="981.5" r="6.4" fill="#0099df" fill-opacity="0.2"/>
<circle cx="476.8" cy="993.8" r="6.4" fill="#0099df" fill-opacity="0.2"/>
<circle cx="480.9" cy="977.1" r="6.4" fill="#0099df" fill-opacity="0.2"/>
<circle cx="485.9" cy="1019" r="6.4" fill="#0099df" fill-opacity="0.2"/>
<circle cx="488.5" cy="999.8" r="6.4" fill="#0099df" fill-opacity="0.2"/>
<circle cx="492.7" cy="1007.1" r="6.4" fill="#0099df" fill-opacity="0.2"/>
<circle cx="497.1" cy="989.5" r="6.4" fill="#0099df" fill-opacity="0.2"/>
<circle cx="501.9" cy="1019.7" r="6.4" fill="#0099df" fill-opacity="0.2"/>
<circle cx="506.2" cy="1004.3" r="6.4" fill="#0099df" fill-opacity="0.2"/>
<circle cx="513.3" cy="998.5" r="6.4" fill="#0099df" fill-opacity="0.2"/>
<circle cx="517.1" cy="1016.2" r="6.4" fill="#0099df" fill-opacity="0.2"/>
<circle cx="525.4" cy="991.8" r="6.4" fill="#0099df" fill-opacity="0.2"/>
<circle cx="534.6" cy="1016.3" r="6.4" fill="#0099df" fill-opacity="0.2"/>
<circle cx="542" cy="998.8" r="6.4" fill="#0099df" fill-opacity="0.2"/>
<circle cx="546" cy="989.4" r="6.4" fill="#0099df" fill-opacity="0.2"/>
<circle cx="550.7" cy="985.4" r="6.4" fill="#0099df" fill-opacity="0.2"/>
<circle cx="554.7" cy="1004.9" r="6.4" fill="#0099df" fill-opacity="0.2"/>
<circle cx="558.3" cy="1007.2" r="6.4" fill="#0099df" fill-opacity="0.2"/>
<circle cx="567.2" cy="981.4" r="6.4" fill="#0099df" fill-opacity="0.2"/>
<circle cx="570.6" cy="1019.1" r="6.4" fill="#0099df" fill-opacity="0.2"/>
<circle cx="582.1" cy="1011.9" r="6.4" fill="#0099df" fill-opacity="0.2"/>
<circle cx="587.1" cy="1010.9" r="6.4" fill="#0099df" fill-opacity="0.2"/>
<circle cx="595.3" cy="998.3" r="6.4" fill="#0099df" fill-opacity="0.2"/>
<circle cx="603.9" cy="982" r="6.4" fill="#0099df" fill-opacity="0.2"/>
<circle cx="607.3" cy="1001" r="6.4" fill="#0099df" fill-opacity="0.2"/>
<circle cx="610.6" cy="997" r="6.4" fill="#0099df" fill-opacity="0.2"/>
<circle cx="619.4" cy="966.9" r="6.4" fill="#0099df" fill-opacity="0.2"/>
<circle cx="623.7" cy="974.5" r="6.4" fill="#0099df" fill-opacity="0.2"/>
<circle cx="626.8" cy="984" r="6.4" fill="#0099df" fill-opacity="0.2"/>
<circle cx="636.3" cy="986.1" r="6.4" fill="#0099df" fill-opacity="0.2"/>
<circle cx="639.5" cy="998.7" r="6.4" fill="#0099df" fill-opacity="0.2"/>
<circle cx="643.6" cy="979.9" r="6.4" fill="#0099df" fill-opacity="0.2"/>
<circle cx="648.2" cy="988.7" r="6.4" fill="#0099df" fill-opacity="0.2"/>
<circle cx="651.8" cy="977.4" r="6.4" fill="#0099df" fill-opacity="0.2"/>
<circle cx="656.1" cy="961.2" r="6.4" fill="#0099df" fill-opacity="0.2"/>
<circle cx="663.7" cy="990.8" r="6.4" fill="#0099df" fill-opacity="0.2"/>
<circle cx="668.1" cy="977.6" r="6.4" fill="#0099df" fill-opacity="0.2"/>
<circle cx="672.8" cy="991.3" r="6.4" fill="#0099df" fill-opacity="0.2"/>
<circle cx="680.8" cy="960.3" r="6.4" fill="#0099df" fill-opacity="0.2"/>
<circle cx="684.4" cy="999.8" r="6.4" fill="#0099df" fill-opacity="0.2"/>
<circle cx="689" cy="990.2" r="6.4" fill="#0099df" fill-opacity="0.2"/>
<circle cx="693" cy="981.9" r="6.4" fill="#0099df" fill-opacity="0.2"/>
<circle cx="701" cy="991" r="6.4" fill="#0099df" fill-opacity="0.2"/>
<circle cx="705.3" cy="990.4" r="6.4" fill="#0099df" fill-opacity="0.2"/>
<circle cx="712.6" cy="983.6" r="6.4" fill="#0099df" fill-opacity="0.2"/>
<circle cx="716.8" cy="992.8" r="6.4" fill="#0099df" fill-opacity="0.2"/>
<circle cx="725.7" cy="1001.9" r="6.4" fill="#0099df" fill-opacity="0.2"/>
<circle cx="729.4" cy="997.3" r="6.4" fill="#0099df" fill-opacity="0.2"/>
<circle cx="733.3" cy="992.6" r="6.4" fill="#0099df" fill-opacity="0.2"/>
<circle cx="738.2" cy="985.7" r="6.4" fill="#0099df" fill-opacity="0.2"/>
<circle cx="753.3" cy="990.4" r="6.4" fill="#0099df" fill-opacity="0.2"/>
<circle cx="757.2" cy="980.3" r="6.4" fill="#0099df" fill-opacity="0.2"/>
<circle cx="762.3" cy="973.3" r="6.4" fill="#0099df" fill-opacity="0.2"/>
<circle cx="766.5" cy="995" r="6.4" fill="#0099df" fill-opacity="0.2"/>
<circle cx="770.5" cy="993.3" r="6.4" fill="#0099df" fill-opacity="0.2"/>
<circle cx="773.6" cy="972.9" r="6.4" fill="#0099df" fill-opacity="0.2"/>
<circle cx="777.8" cy="962.6" r="6.4" fill="#0099df" fill-opacity="0.2"/>
<circle cx="782.1" cy="985.2" r="6.4" fill="#0099df" fill-opacity="0.2"/>
<circle cx="786.6" cy="1006.7" r="6.4" fill="#0099df" fill-opacity="0.2"/>
<circle cx="794.2" cy="979" r="6.4" fill="#0099df" fill-opacity="0.2"/>
<circle cx="803.2" cy="988.8" r="6.4" fill="#0099df" fill-opacity="0.2"/>
<circle cx="807" cy="992.6" r="6.4" fill="#0099df" fill-opacity="0.2"/>
<circle cx="815.2" cy="995.4" r="6.4" fill="#0099df" fill-opacity="0.2"/>
<circle cx="823.1" cy="999" r="6.4" fill="#0099df" fill-opacity="0.2"/>
<circle cx="827.3" cy="983.3" r="6.4" fill="#0099df" fill-opacity="0.2"/>
<circle cx="830.4" cy="985.9" r="6.4" fill="#0099df" fill-opacity="0.2"/>
<circle cx="834.5" cy="998.1" r="6.4" fill="#0099df" fill-opacity="0.2"/>
<circle cx="838.6" cy="983.9" r="6.4" fill="#0099df" fill-opacity="0.2"/>
<circle cx="846.9" cy="975.9" r="6.4" fill="#0099df" fill-opacity="0.2"/>
<circle cx="850.9" cy="982.2" r="6.4" fill="#0099df" fill-opacity="0.2"/>
<circle cx="856.1" cy="976.9" r="6.4" fill="#0099df" fill-opacity="0.2"/>
<circle cx="859" cy="1003.1" r="6.4" fill="#0099df" fill-opacity="0.2"/>
<circle cx="863.4" cy="959.9" r="6.4" fill="#0099df" fill-opacity="0.2"/>
<circle cx="868" cy="942.1" r="6.4" fill="#0099df" fill-opacity="0.2"/>
<circle cx="872.2" cy="1006" r="6.4" fill="#0099df" fill-opacity="0.2"/>
<circle cx="876.1" cy="974.8" r="6.4" fill="#0099df" fill-opacity="0.2"/>
<circle cx="884.2" cy="985.9" r="6.4" fill="#0099df" fill-opacity="0.2"/>
<circle cx="887.8" cy="986.5" r="6.4" fill="#0099df" fill-opacity="0.2"/>
<circle cx="895.7" cy="980.5" r="6.4" fill="#0099df" fill-opacity="0.2"/>
<circle cx="900" cy="980.4" r="6.4" fill="#0099df" fill-opacity="0.2"/>
<circle cx="904.8" cy="996.6" r="6.4" fill="#0099df" fill-opacity="0.2"/>
<circle cx="908.1" cy="1017.3" r="6.4" fill="#0099df" fill-opacity="0.2"/>
<circle cx="912.9" cy="998.1" r="6.4" fill="#0099df" fill-opacity="0.2"/>
<circle cx="916.6" cy="1011.4" r="6.4" fill="#0099df" fill-opacity="0.2"/>
<circle cx="921" cy="998.9" r="6.4" fill="#0099df" fill-opacity="0.2"/>
<circle cx="924.9" cy="1006.2" r="6.4" fill="#0099df" fill-opacity="0.2"/>
<circle cx="928.6" cy="996.6" r="6.4" fill="#0099df" fill-opacity="0.2"/>
<circle cx="933.1" cy="1000.3" r="6.4" fill="#0099df" fill-opacity="0.2"/>
<circle cx="936.9" cy="1015.5" r="6.4" fill="#0099df" fill-opacity="0.2"/>
<circle cx="945.3" cy="1011.2" r="6.4" fill="#0099df" fill-opacity="0.2"/>
<circle cx="949.9" cy="1003.4" r="6.4" fill="#0099df" fill-opacity="0.2"/>
<circle cx="953.5" cy="1008.6" r="6.4" fill="#0099df" fill-opacity="0.2"/>
<circle cx="958" cy="1018.8" r="6.4" fill="#0099df" fill-opacity="0.2"/>
<circle cx="965" cy="1007.7" r="6.4" fill="#0099df" fill-opacity="0.2"/>
<circle cx="969.5" cy="1017.3" r="6.4" fill="#0099df" fill-opacity="0.2"/>
<circle cx="977.6" cy="1018.8" r="6.4" fill="#0099df" fill-opacity="0.2"/>
<circle cx="980.9" cy="1007.7" r="6.4" fill="#0099df" fill-opacity="0.2"/>
<circle cx="986.3" cy="1013.1" r="6.4" fill="#0099df" fill-opacity="0.2"/>
<circle cx="990.4" cy="1015.9" r="6.4" fill="#0099df" fill-opacity="0.2"/>
<circle cx="993.5" cy="987.9" r="6.4" fill="#0099df" fill-opacity="0.2"/>
<circle cx="998.7" cy="1004.8" r="6.4" fill="#0099df" fill-opacity="0.2"/>
<circle cx="1002.4" cy="992" r="6.4" fill="#0099df" fill-opacity="0.2"/>
<circle cx="1005.7" cy="1002.7" r="6.4" fill="#0099df" fill-opacity="0.2"/>
<circle cx="1009.5" cy="984.1" r="6.4" fill="#0099df" fill-opacity="0.2"/>
<circle cx="1014.3" cy="1008.7" r="6.4" fill="#0099df" fill-opacity="0.2"/>
<circle cx="1022.7" cy="988.5" r="6.4" fill="#0099df" fill-opacity="0.2"/>
<circle cx="1025.9" cy="994.4" r="6.4" fill="#0099df" fill-opacity="0.2"/>
<circle cx="1030.1" cy="1003.5" r="6.4" fill="#0099df" fill-opacity="0.2"/>
<circle cx="1034.6" cy="966.8" r="6.4" fill="#0099df" fill-opacity="0.2"/>
<circle cx="1038.4" cy="950.2" r="6.4" fill="#0099df" fill-opacity="0.2"/>
<circle cx="1043.5" cy="963.2" r="6.4" fill="#0099df" fill-opacity="0.2"/>
<circle cx="1046" cy="969" r="6.4" fill="#0099df" fill-opacity="0.2"/>
<circle cx="1050.5" cy="963.4" r="6.4" fill="#0099df" fill-opacity="0.2"/>
<circle cx="1059.4" cy="966.6" r="6.4" fill="#0099df" fill-opacity="0.2"/>
<circle cx="1062.9" cy="981" r="6.4" fill="#0099df" fill-opacity="0.2"/>
<circle cx="1067" cy="974.4" r="6.4" fill="#0099df" fill-opacity="0.2"/>
<circle cx="1071.1" cy="974.3" r="6.4" fill="#0099df" fill-opacity="0.2"/>
<circle cx="1074.8" cy="1005.5" r="6.4" fill="#0099df" fill-opacity="0.2"/>
<circle cx="1082.9" cy="1016.2" r="6.4" fill="#0099df" fill-opacity="0.2"/>
<circle cx="1087.4" cy="995.7" r="6.4" fill="#0099df" fill-opacity="0.2"/>
<circle cx="188.2" cy="1129.5" r="6.4" fill="#fe4a37" fill-opacity="0.2"/>
<circle cx="195.5" cy="1060.5" r="6.4" fill="#fe4a37" fill-opacity="0.2"/>
<circle cx="200.5" cy="1043.5" r="6.4" fill="#fe4a37" fill-opacity="0.2"/>
<circle cx="204.6" cy="1041.4" r="6.4" fill="#fe4a37" fill-opacity="0.2"/>
<circle cx="212.8" cy="1053.9" r="6.4" fill="#fe4a37" fill-opacity="0.2"/>
<circle cx="216.3" cy="1072.4" r="6.4" fill="#fe4a37" fill-opacity="0.2"/>
<circle cx="224.9" cy="1088.9" r="6.4" fill="#fe4a37" fill-opacity="0.2"/>
<circle cx="228.5" cy="1067" r="6.4" fill="#fe4a37" fill-opacity="0.2"/>
<circle cx="233" cy="1076" r="6.4" fill="#fe4a37" fill-opacity="0.2"/>
<circle cx="236.7" cy="1102.8" r="6.4" fill="#fe4a37" fill-opacity="0.2"/>
<circle cx="245.1" cy="1073.5" r="6.4" fill="#fe4a37" fill-opacity="0.2"/>
<circle cx="249" cy="1072.3" r="6.4" fill="#fe4a37" fill-opacity="0.2"/>
<circle cx="256.5" cy="1094.1" r="6.4" fill="#fe4a37" fill-opacity="0.2"/>
<circle cx="261.3" cy="1044.8" r="6.4" fill="#fe4a37" fill-opacity="0.2"/>
<circle cx="265.2" cy="1072.2" r="6.4" fill="#fe4a37" fill-opacity="0.2"/>
<circle cx="277.8" cy="1056.3" r="6.4" fill="#fe4a37" fill-opacity="0.2"/>
<circle cx="282.2" cy="1082.7" r="6.4" fill="#fe4a37" fill-opacity="0.2"/>
<circle cx="285.2" cy="1076.4" r="6.4" fill="#fe4a37" fill-opacity="0.2"/>
<circle cx="302.5" cy="1072.6" r="6.4" fill="#fe4a37" fill-opacity="0.2"/>
<circle cx="306.7" cy="1056.5" r="6.4" fill="#fe4a37" fill-opacity="0.2"/>
<circle cx="310.8" cy="1104.6" r="6.4" fill="#fe4a37" fill-opacity="0.2"/>
<circle cx="314.8" cy="1121.9" r="6.4" fill="#fe4a37" fill-opacity="0.2"/>
<circle cx="318" cy="1079.3" r="6.4" fill="#fe4a37" fill-opacity="0.2"/>
<circle cx="322.5" cy="1135.4" r="6.4" fill="#fe4a37" fill-opacity="0.2"/>
<circle cx="326.5" cy="1113.7" r="6.4" fill="#fe4a37" fill-opacity="0.2"/>
<circle cx="335.3" cy="1109.5" r="6.4" fill="#fe4a37" fill-opacity="0.2"/>
<circle cx="342.7" cy="1075.1" r="6.4" fill="#fe4a37" fill-opacity="0.2"/>
<circle cx="346.4" cy="1067.8" r="6.4" fill="#fe4a37" fill-opacity="0.2"/>
<circle cx="351.6" cy="1097.3" r="6.4" fill="#fe4a37" fill-opacity="0.2"/>
<circle cx="367.1" cy="1076.5" r="6.4" fill="#fe4a37" fill-opacity="0.2"/>
<circle cx="370.4" cy="1050" r="6.4" fill="#fe4a37" fill-opacity="0.2"/>
<circle cx="375.1" cy="1057.8" r="6.4" fill="#fe4a37" fill-opacity="0.2"/>
<circle cx="379.3" cy="1073.7" r="6.4" fill="#fe4a37" fill-opacity="0.2"/>
<circle cx="382.9" cy="1073.4" r="6.4" fill="#fe4a37" fill-opacity="0.2"/>
<circle cx="386.8" cy="1064.3" r="6.4" fill="#fe4a37" fill-opacity="0.2"/>
<circle cx="390.9" cy="1048.6" r="6.4" fill="#fe4a37" fill-opacity="0.2"/>
<circle cx="395" cy="1048.3" r="6.4" fill="#fe4a37" fill-opacity="0.2"/>
<circle cx="403.9" cy="1048.6" r="6.4" fill="#fe4a37" fill-opacity="0.2"/>
<circle cx="407.6" cy="1033.9" r="6.4" fill="#fe4a37" fill-opacity="0.2"/>
<circle cx="416.2" cy="1059.8" r="6.4" fill="#fe4a37" fill-opacity="0.2"/>
<circle cx="420.4" cy="1030.1" r="6.4" fill="#fe4a37" fill-opacity="0.2"/>
<circle cx="428.6" cy="1032.9" r="6.4" fill="#fe4a37" fill-opacity="0.2"/>
<circle cx="437" cy="1003.9" r="6.4" fill="#fe4a37" fill-opacity="0.2"/>
<circle cx="440" cy="1062.2" r="6.4" fill="#fe4a37" fill-opacity="0.2"/>
<circle cx="453.3" cy="1041.6" r="6.4" fill="#fe4a37" fill-opacity="0.2"/>
<circle cx="456.7" cy="1055.3" r="6.4" fill="#fe4a37" fill-opacity="0.2"/>
<circle cx="461.4" cy="1016.6" r="6.4" fill="#fe4a37" fill-opacity="0.2"/>
<circle cx="464.4" cy="1029" r="6.4" fill="#fe4a37" fill-opacity="0.2"/>
<circle cx="469.5" cy="1015.5" r="6.4" fill="#fe4a37" fill-opacity="0.2"/>
<circle cx="473.5" cy="1023.1" r="6.4" fill="#fe4a37" fill-opacity="0.2"/>
<circle cx="476.6" cy="1021.1" r="6.4" fill="#fe4a37" fill-opacity="0.2"/>
<circle cx="480.5" cy="1022.8" r="6.4" fill="#fe4a37" fill-opacity="0.2"/>
<circle cx="485.5" cy="1031.2" r="6.4" fill="#fe4a37" fill-opacity="0.2"/>
<circle cx="489.2" cy="1039" r="6.4" fill="#fe4a37" fill-opacity="0.2"/>
<circle cx="493.1" cy="1029.2" r="6.4" fill="#fe4a37" fill-opacity="0.2"/>
<circle cx="497.3" cy="1025.9" r="6.4" fill="#fe4a37" fill-opacity="0.2"/>
<circle cx="501.3" cy="1027.2" r="6.4" fill="#fe4a37" fill-opacity="0.2"/>
<circle cx="505.2" cy="1005.1" r="6.4" fill="#fe4a37" fill-opacity="0.2"/>
<circle cx="510.2" cy="1041.6" r="6.4" fill="#fe4a37" fill-opacity="0.2"/>
<circle cx="513.8" cy="1061.5" r="6.4" fill="#fe4a37" fill-opacity="0.2"/>
<circle cx="517.2" cy="1049.7" r="6.4" fill="#fe4a37" fill-opacity="0.2"/>
<circle cx="521.8" cy="1064.5" r="6.4" fill="#fe4a37" fill-opacity="0.2"/>
<circle cx="526.6" cy="1071.8" r="6.4" fill="#fe4a37" fill-opacity="0.2"/>
<circle cx="529.8" cy="1052.7" r="6.4" fill="#fe4a37" fill-opacity="0.2"/>
<circle cx="534" cy="1069.2" r="6.4" fill="#fe4a37" fill-opacity="0.2"/>
<circle cx="537.3" cy="1067.5" r="6.4" fill="#fe4a37" fill-opacity="0.2"/>
<circle cx="549.9" cy="1094.1" r="6.4" fill="#fe4a37" fill-opacity="0.2"/>
<circle cx="557.8" cy="1081.8" r="6.4" fill="#fe4a37" fill-opacity="0.2"/>
<circle cx="561.7" cy="1046.5" r="6.4" fill="#fe4a37" fill-opacity="0.2"/>
<circle cx="570.5" cy="1035.8" r="6.4" fill="#fe4a37" fill-opacity="0.2"/>
<circle cx="578" cy="1020.4" r="6.4" fill="#fe4a37" fill-opacity="0.2"/>
<circle cx="582.1" cy="1041.6" r="6.4" fill="#fe4a37" fill-opacity="0.2"/>
<circle cx="587.5" cy="1044.1" r="6.4" fill="#fe4a37" fill-opacity="0.2"/>
<circle cx="591.1" cy="1033.2" r="6.4" fill="#fe4a37" fill-opacity="0.2"/>
<circle cx="594.8" cy="1027.7" r="6.4" fill="#fe4a37" fill-opacity="0.2"/>
<circle cx="599.4" cy="1010.5" r="6.4" fill="#fe4a37" fill-opacity="0.2"/>
<circle cx="602.4" cy="1019" r="6.4" fill="#fe4a37" fill-opacity="0.2"/>
<circle cx="615.2" cy="1005.1" r="6.4" fill="#fe4a37" fill-opacity="0.2"/>
<circle cx="619.4" cy="1010.8" r="6.4" fill="#fe4a37" fill-opacity="0.2"/>
<circle cx="623.8" cy="1028.6" r="6.4" fill="#fe4a37" fill-opacity="0.2"/>
<circle cx="628.2" cy="979.5" r="6.4" fill="#fe4a37" fill-opacity="0.2"/>
<circle cx="632" cy="1007.8" r="6.4" fill="#fe4a37" fill-opacity="0.2"/>
<circle cx="634.9" cy="1002.9" r="6.4" fill="#fe4a37" fill-opacity="0.2"/>
<circle cx="639.1" cy="1002.4" r="6.4" fill="#fe4a37" fill-opacity="0.2"/>
<circle cx="643.1" cy="1002" r="6.4" fill="#fe4a37" fill-opacity="0.2"/>
<circle cx="648.4" cy="1034.9" r="6.4" fill="#fe4a37" fill-opacity="0.2"/>
<circle cx="656.1" cy="1044" r="6.4" fill="#fe4a37" fill-opacity="0.2"/>
<circle cx="659.5" cy="1027.9" r="6.4" fill="#fe4a37" fill-opacity="0.2"/>
<circle cx="664" cy="1041.8" r="6.4" fill="#fe4a37" fill-opacity="0.2"/>
<circle cx="667.9" cy="1025.1" r="6.4" fill="#fe4a37" fill-opacity="0.2"/>
<circle cx="681" cy="1035.7" r="6.4" fill="#fe4a37" fill-opacity="0.2"/>
<circle cx="683.9" cy="1038.8" r="6.4" fill="#fe4a37" fill-opacity="0.2"/>
<circle cx="688" cy="1035.3" r="6.4" fill="#fe4a37" fill-opacity="0.2"/>
<circle cx="692.8" cy="1021.6" r="6.4" fill="#fe4a37" fill-opacity="0.2"/>
<circle cx="696.6" cy="1020.7" r="6.4" fill="#fe4a37" fill-opacity="0.2"/>
<circle cx="704.2" cy="1053.3" r="6.4" fill="#fe4a37" fill-opacity="0.2"/>
<circle cx="709.4" cy="1041.6" r="6.4" fill="#fe4a37" fill-opacity="0.2"/>
<circle cx="712.4" cy="1041.5" r="6.4" fill="#fe4a37" fill-opacity="0.2"/>
<circle cx="717" cy="1045.8" r="6.4" fill="#fe4a37" fill-opacity="0.2"/>
<circle cx="725.3" cy="1059.5" r="6.4" fill="#fe4a37" fill-opacity="0.2"/>
<circle cx="740.9" cy="1046.4" r="6.4" fill="#fe4a37" fill-opacity="0.2"/>
<circle cx="750" cy="1053.1" r="6.4" fill="#fe4a37" fill-opacity="0.2"/>
<circle cx="753.1" cy="1048.7" r="6.4" fill="#fe4a37" fill-opacity="0.2"/>
<circle cx="761.5" cy="1037.5" r="6.4" fill="#fe4a37" fill-opacity="0.2"/>
<circle cx="766.2" cy="1050.3" r="6.4" fill="#fe4a37" fill-opacity="0.2"/>
<circle cx="769.7" cy="1046.9" r="6.4" fill="#fe4a37" fill-opacity="0.2"/>
<circle cx="774.3" cy="1042.4" r="6.4" fill="#fe4a37" fill-opacity="0.2"/>
<circle cx="778.1" cy="1046.7" r="6.4" fill="#fe4a37" fill-opacity="0.2"/>
<circle cx="781.6" cy="1032.1" r="6.4" fill="#fe4a37" fill-opacity="0.2"/>
<circle cx="786.9" cy="1007.3" r="6.4" fill="#fe4a37" fill-opacity="0.2"/>
<circle cx="791.1" cy="1049.7" r="6.4" fill="#fe4a37" fill-opacity="0.2"/>
<circle cx="794.8" cy="1050.8" r="6.4" fill="#fe4a37" fill-opacity="0.2"/>
<circle cx="798.1" cy="1050.1" r="6.4" fill="#fe4a37" fill-opacity="0.2"/>
<circle cx="802.2" cy="1033.8" r="6.4" fill="#fe4a37" fill-opacity="0.2"/>
<circle cx="806.4" cy="1030.3" r="6.4" fill="#fe4a37" fill-opacity="0.2"/>
<circle cx="814.1" cy="1036.3" r="6.4" fill="#fe4a37" fill-opacity="0.2"/>
<circle cx="818.4" cy="1026" r="6.4" fill="#fe4a37" fill-opacity="0.2"/>
<circle cx="822.3" cy="1050.5" r="6.4" fill="#fe4a37" fill-opacity="0.2"/>
<circle cx="826.5" cy="1013.7" r="6.4" fill="#fe4a37" fill-opacity="0.2"/>
<circle cx="830.3" cy="1021.1" r="6.4" fill="#fe4a37" fill-opacity="0.2"/>
<circle cx="834.9" cy="1029.6" r="6.4" fill="#fe4a37" fill-opacity="0.2"/>
<circle cx="839.1" cy="1016.4" r="6.4" fill="#fe4a37" fill-opacity="0.2"/>
<circle cx="843.8" cy="1000.2" r="6.4" fill="#fe4a37" fill-opacity="0.2"/>
<circle cx="846.7" cy="1021.6" r="6.4" fill="#fe4a37" fill-opacity="0.2"/>
<circle cx="851.2" cy="1030.1" r="6.4" fill="#fe4a37" fill-opacity="0.2"/>
<circle cx="854.9" cy="1009.7" r="6.4" fill="#fe4a37" fill-opacity="0.2"/>
<circle cx="863.9" cy="1008.6" r="6.4" fill="#fe4a37" fill-opacity="0.2"/>
<circle cx="867.2" cy="998.7" r="6.4" fill="#fe4a37" fill-opacity="0.2"/>
<circle cx="871.7" cy="1008.5" r="6.4" fill="#fe4a37" fill-opacity="0.2"/>
<circle cx="875.6" cy="996.2" r="6.4" fill="#fe4a37" fill-opacity="0.2"/>
<circle cx="879.5" cy="1018.1" r="6.4" fill="#fe4a37" fill-opacity="0.2"/>
<circle cx="883.9" cy="994.5" r="6.4" fill="#fe4a37" fill-opacity="0.2"/>
<circle cx="887.8" cy="1017.5" r="6.4" fill="#fe4a37" fill-opacity="0.2"/>
<circle cx="892.6" cy="1016.7" r="6.4" fill="#fe4a37" fill-opacity="0.2"/>
<circle cx="895.7" cy="1051.5" r="6.4" fill="#fe4a37" fill-opacity="0.2"/>
<circle cx="900.9" cy="1028.7" r="6.4" fill="#fe4a37" fill-opacity="0.2"/>
<circle cx="903.8" cy="1034.9" r="6.4" fill="#fe4a37" fill-opacity="0.2"/>
<circle cx="907.8" cy="1022.4" r="6.4" fill="#fe4a37" fill-opacity="0.2"/>
<circle cx="912.1" cy="1056.8" r="6.4" fill="#fe4a37" fill-opacity="0.2"/>
<circle cx="916.3" cy="1055" r="6.4" fill="#fe4a37" fill-opacity="0.2"/>
<circle cx="921.4" cy="1023.2" r="6.4" fill="#fe4a37" fill-opacity="0.2"/>
<circle cx="924" cy="1035.8" r="6.4" fill="#fe4a37" fill-opacity="0.2"/>
<circle cx="928.5" cy="1050" r="6.4" fill="#fe4a37" fill-opacity="0.2"/>
<circle cx="933" cy="1030" r="6.4" fill="#fe4a37" fill-opacity="0.2"/>
<circle cx="936.2" cy="1043.2" r="6.4" fill="#fe4a37" fill-opacity="0.2"/>
<circle cx="941.2" cy="1068.5" r="6.4" fill="#fe4a37" fill-opacity="0.2"/>
<circle cx="953.3" cy="1087.2" r="6.4" fill="#fe4a37" fill-opacity="0.2"/>
<circle cx="961.3" cy="1077.6" r="6.4" fill="#fe4a37" fill-opacity="0.2"/>
<circle cx="964.9" cy="1052.5" r="6.4" fill="#fe4a37" fill-opacity="0.2"/>
<circle cx="969.8" cy="1083.1" r="6.4" fill="#fe4a37" fill-opacity="0.2"/>
<circle cx="989.9" cy="1070" r="6.4" fill="#fe4a37" fill-opacity="0.2"/>
<circle cx="997.4" cy="1047.2" r="6.4" fill="#fe4a37" fill-opacity="0.2"/>
<circle cx="1002.6" cy="1046.9" r="6.4" fill="#fe4a37" fill-opacity="0.2"/>
<circle cx="1014.2" cy="992.7" r="6.4" fill="#fe4a37" fill-opacity="0.2"/>
<circle cx="1018.2" cy="1016.2" r="6.4" fill="#fe4a37" fill-opacity="0.2"/>
<circle cx="1022.1" cy="1009.5" r="6.4" fill="#fe4a37" fill-opacity="0.2"/>
<circle cx="1027.2" cy="1021.4" r="6.4" fill="#fe4a37" fill-opacity="0.2"/>
<circle cx="1035.2" cy="1024.3" r="6.4" fill="#fe4a37" fill-opacity="0.2"/>
<circle cx="1043.3" cy="1010.4" r="6.4" fill="#fe4a37" fill-opacity="0.2"/>
<circle cx="1046.6" cy="1010.1" r="6.4" fill="#fe4a37" fill-opacity="0.2"/>
<circle cx="1051.2" cy="1011.2" r="6.4" fill="#fe4a37" fill-opacity="0.2"/>
<circle cx="1054.9" cy="1011.1" r="6.4" fill="#fe4a37" fill-opacity="0.2"/>
<circle cx="1058.3" cy="1021.7" r="6.4" fill="#fe4a37" fill-opacity="0.2"/>
<circle cx="1063" cy="1048.8" r="6.4" fill="#fe4a37" fill-opacity="0.2"/>
<circle cx="1066.4" cy="1004" r="6.4" fill="#fe4a37" fill-opacity="0.2"/>
<circle cx="1071.5" cy="1034.2" r="6.4" fill="#fe4a37" fill-opacity="0.2"/>
<circle cx="1075.1" cy="1054.1" r="6.4" fill="#fe4a37" fill-opacity="0.2"/>
<circle cx="1078.7" cy="1020.7" r="6.4" fill="#fe4a37" fill-opacity="0.2"/>
<circle cx="1083.8" cy="1055.5" r="6.4" fill="#fe4a37" fill-opacity="0.2"/>
<circle cx="1087.6" cy="1050.6" r="6.4" fill="#fe4a37" fill-opacity="0.2"/>
<circle cx="1092.2" cy="1042" r="6.4" fill="#fe4a37" fill-opacity="0.2"/>
<circle cx="1096.1" cy="1047.9" r="6.4" fill="#fe4a37" fill-opacity="0.2"/>
<circle cx="188.7" cy="1130.2" r="6.4" fill="#00a287" fill-opacity="0.2"/>
<circle cx="195.7" cy="1091.2" r="6.4" fill="#00a287" fill-opacity="0.2"/>
<circle cx="199.8" cy="1071.8" r="6.4" fill="#00a287" fill-opacity="0.2"/>
<circle cx="205" cy="1054.4" r="6.4" fill="#00a287" fill-opacity="0.2"/>
<circle cx="208" cy="1082.6" r="6.4" fill="#00a287" fill-opacity="0.2"/>
<circle cx="213.1" cy="1075.1" r="6.4" fill="#00a287" fill-opacity="0.2"/>
<circle cx="216.1" cy="1100.4" r="6.4" fill="#00a287" fill-opacity="0.2"/>
<circle cx="224.8" cy="1117.2" r="6.4" fill="#00a287" fill-opacity="0.2"/>
<circle cx="228" cy="1088.9" r="6.4" fill="#00a287" fill-opacity="0.2"/>
<circle cx="232.9" cy="1099.1" r="6.4" fill="#00a287" fill-opacity="0.2"/>
<circle cx="237.5" cy="1118.9" r="6.4" fill="#00a287" fill-opacity="0.2"/>
<circle cx="241.5" cy="1110.3" r="6.4" fill="#00a287" fill-opacity="0.2"/>
<circle cx="245.5" cy="1105.3" r="6.4" fill="#00a287" fill-opacity="0.2"/>
<circle cx="252.7" cy="1048.6" r="6.4" fill="#00a287" fill-opacity="0.2"/>
<circle cx="256.6" cy="1095.8" r="6.4" fill="#00a287" fill-opacity="0.2"/>
<circle cx="269.4" cy="1082.4" r="6.4" fill="#00a287" fill-opacity="0.2"/>
<circle cx="273.4" cy="1068.1" r="6.4" fill="#00a287" fill-opacity="0.2"/>
<circle cx="285.5" cy="1099.8" r="6.4" fill="#00a287" fill-opacity="0.2"/>
<circle cx="297.2" cy="1086.6" r="6.4" fill="#00a287" fill-opacity="0.2"/>
<circle cx="309.6" cy="1087.1" r="6.4" fill="#00a287" fill-opacity="0.2"/>
<circle cx="313.9" cy="1099.9" r="6.4" fill="#00a287" fill-opacity="0.2"/>
<circle cx="318.7" cy="1130.3" r="6.4" fill="#00a287" fill-opacity="0.2"/>
<circle cx="322.9" cy="1112.6" r="6.4" fill="#00a287" fill-opacity="0.2"/>
<circle cx="339" cy="1121.8" r="6.4" fill="#00a287" fill-opacity="0.2"/>
<circle cx="342.4" cy="1078.4" r="6.4" fill="#00a287" fill-opacity="0.2"/>
<circle cx="346.7" cy="1101.4" r="6.4" fill="#00a287" fill-opacity="0.2"/>
<circle cx="355.5" cy="1098.2" r="6.4" fill="#00a287" fill-opacity="0.2"/>
<circle cx="367.2" cy="1062.9" r="6.4" fill="#00a287" fill-opacity="0.2"/>
<circle cx="371.3" cy="1057.7" r="6.4" fill="#00a287" fill-opacity="0.2"/>
<circle cx="374.7" cy="1067.4" r="6.4" fill="#00a287" fill-opacity="0.2"/>
<circle cx="379.2" cy="1089" r="6.4" fill="#00a287" fill-opacity="0.2"/>
<circle cx="382.9" cy="1040.9" r="6.4" fill="#00a287" fill-opacity="0.2"/>
<circle cx="387" cy="1080.7" r="6.4" fill="#00a287" fill-opacity="0.2"/>
<circle cx="391.6" cy="1067.3" r="6.4" fill="#00a287" fill-opacity="0.2"/>
<circle cx="395.3" cy="1083.1" r="6.4" fill="#00a287" fill-opacity="0.2"/>
<circle cx="400.3" cy="1050.4" r="6.4" fill="#00a287" fill-opacity="0.2"/>
<circle cx="404" cy="1041.1" r="6.4" fill="#00a287" fill-opacity="0.2"/>
<circle cx="408.1" cy="1032.5" r="6.4" fill="#00a287" fill-opacity="0.2"/>
<circle cx="412.3" cy="1054.1" r="6.4" fill="#00a287" fill-opacity="0.2"/>
<circle cx="415.7" cy="1049.1" r="6.4" fill="#00a287" fill-opacity="0.2"/>
<circle cx="428.6" cy="1059.7" r="6.4" fill="#00a287" fill-opacity="0.2"/>
<circle cx="433" cy="1054.5" r="6.4" fill="#00a287" fill-opacity="0.2"/>
<circle cx="441" cy="1042.1" r="6.4" fill="#00a287" fill-opacity="0.2"/>
<circle cx="444.3" cy="1032.2" r="6.4" fill="#00a287" fill-opacity="0.2"/>
<circle cx="447.7" cy="1040.2" r="6.4" fill="#00a287" fill-opacity="0.2"/>
<circle cx="452.9" cy="1051.4" r="6.4" fill="#00a287" fill-opacity="0.2"/>
<circle cx="460" cy="1034.5" r="6.4" fill="#00a287" fill-opacity="0.2"/>
<circle cx="464.1" cy="1047.8" r="6.4" fill="#00a287" fill-opacity="0.2"/>
<circle cx="469.1" cy="1049.7" r="6.4" fill="#00a287" fill-opacity="0.2"/>
<circle cx="472.8" cy="1049.5" r="6.4" fill="#00a287" fill-opacity="0.2"/>
<circle cx="477" cy="1043.5" r="6.4" fill="#00a287" fill-opacity="0.2"/>
<circle cx="481.7" cy="1058.4" r="6.4" fill="#00a287" fill-opacity="0.2"/>
<circle cx="485.8" cy="1034.9" r="6.4" fill="#00a287" fill-opacity="0.2"/>
<circle cx="488.4" cy="1062.8" r="6.4" fill="#00a287" fill-opacity="0.2"/>
<circle cx="492.8" cy="1062.2" r="6.4" fill="#00a287" fill-opacity="0.2"/>
<circle cx="497.3" cy="1073.2" r="6.4" fill="#00a287" fill-opacity="0.2"/>
<circle cx="501.3" cy="1058.3" r="6.4" fill="#00a287" fill-opacity="0.2"/>
<circle cx="510" cy="1055.1" r="6.4" fill="#00a287" fill-opacity="0.2"/>
<circle cx="513" cy="1066.7" r="6.4" fill="#00a287" fill-opacity="0.2"/>
<circle cx="518.4" cy="1081.1" r="6.4" fill="#00a287" fill-opacity="0.2"/>
<circle cx="521.6" cy="1110.5" r="6.4" fill="#00a287" fill-opacity="0.2"/>
<circle cx="538.2" cy="1081.8" r="6.4" fill="#00a287" fill-opacity="0.2"/>
<circle cx="542.2" cy="1080.3" r="6.4" fill="#00a287" fill-opacity="0.2"/>
<circle cx="546.3" cy="1091.4" r="6.4" fill="#00a287" fill-opacity="0.2"/>
<circle cx="550.3" cy="1090.5" r="6.4" fill="#00a287" fill-opacity="0.2"/>
<circle cx="559" cy="1073" r="6.4" fill="#00a287" fill-opacity="0.2"/>
<circle cx="562.5" cy="1047.4" r="6.4" fill="#00a287" fill-opacity="0.2"/>
<circle cx="571.2" cy="1045.8" r="6.4" fill="#00a287" fill-opacity="0.2"/>
<circle cx="575.3" cy="1050.3" r="6.4" fill="#00a287" fill-opacity="0.2"/>
<circle cx="582.8" cy="1022.2" r="6.4" fill="#00a287" fill-opacity="0.2"/>
<circle cx="586.3" cy="1059.9" r="6.4" fill="#00a287" fill-opacity="0.2"/>
<circle cx="591.2" cy="1038.9" r="6.4" fill="#00a287" fill-opacity="0.2"/>
<circle cx="594.4" cy="1021.7" r="6.4" fill="#00a287" fill-opacity="0.2"/>
<circle cx="603.7" cy="1071.9" r="6.4" fill="#00a287" fill-opacity="0.2"/>
<circle cx="606.5" cy="1025.8" r="6.4" fill="#00a287" fill-opacity="0.2"/>
<circle cx="611.7" cy="1044.2" r="6.4" fill="#00a287" fill-opacity="0.2"/>
<circle cx="615.4" cy="1026.3" r="6.4" fill="#00a287" fill-opacity="0.2"/>
<circle cx="624" cy="1052.6" r="6.4" fill="#00a287" fill-opacity="0.2"/>
<circle cx="627.3" cy="1016.4" r="6.4" fill="#00a287" fill-opacity="0.2"/>
<circle cx="634.9" cy="1034.6" r="6.4" fill="#00a287" fill-opacity="0.2"/>
<circle cx="640.4" cy="1030.3" r="6.4" fill="#00a287" fill-opacity="0.2"/>
<circle cx="643.8" cy="1019.3" r="6.4" fill="#00a287" fill-opacity="0.2"/>
<circle cx="652.4" cy="1066.5" r="6.4" fill="#00a287" fill-opacity="0.2"/>
<circle cx="656.5" cy="1058.1" r="6.4" fill="#00a287" fill-opacity="0.2"/>
<circle cx="660.8" cy="1037.1" r="6.4" fill="#00a287" fill-opacity="0.2"/>
<circle cx="667.9" cy="1044.6" r="6.4" fill="#00a287" fill-opacity="0.2"/>
<circle cx="672.2" cy="1055.1" r="6.4" fill="#00a287" fill-opacity="0.2"/>
<circle cx="676.9" cy="1056.9" r="6.4" fill="#00a287" fill-opacity="0.2"/>
<circle cx="681" cy="1058.2" r="6.4" fill="#00a287" fill-opacity="0.2"/>
<circle cx="684.2" cy="1046.6" r="6.4" fill="#00a287" fill-opacity="0.2"/>
<circle cx="688.2" cy="1061.6" r="6.4" fill="#00a287" fill-opacity="0.2"/>
<circle cx="696.1" cy="1008.9" r="6.4" fill="#00a287" fill-opacity="0.2"/>
<circle cx="705.6" cy="1046.2" r="6.4" fill="#00a287" fill-opacity="0.2"/>
<circle cx="709.4" cy="1050.9" r="6.4" fill="#00a287" fill-opacity="0.2"/>
<circle cx="716.6" cy="1071.9" r="6.4" fill="#00a287" fill-opacity="0.2"/>
<circle cx="721.3" cy="1034" r="6.4" fill="#00a287" fill-opacity="0.2"/>
<circle cx="725.2" cy="1062.7" r="6.4" fill="#00a287" fill-opacity="0.2"/>
<circle cx="728.7" cy="1075.2" r="6.4" fill="#00a287" fill-opacity="0.2"/>
<circle cx="736.8" cy="1057.1" r="6.4" fill="#00a287" fill-opacity="0.2"/>
<circle cx="740.8" cy="1028" r="6.4" fill="#00a287" fill-opacity="0.2"/>
<circle cx="745.2" cy="1028.6" r="6.4" fill="#00a287" fill-opacity="0.2"/>
<circle cx="749.1" cy="1038.4" r="6.4" fill="#00a287" fill-opacity="0.2"/>
<circle cx="754.2" cy="1075.2" r="6.4" fill="#00a287" fill-opacity="0.2"/>
<circle cx="761.5" cy="1060" r="6.4" fill="#00a287" fill-opacity="0.2"/>
<circle cx="766.1" cy="1039.9" r="6.4" fill="#00a287" fill-opacity="0.2"/>
<circle cx="770.1" cy="1048.1" r="6.4" fill="#00a287" fill-opacity="0.2"/>
<circle cx="774.1" cy="1063.2" r="6.4" fill="#00a287" fill-opacity="0.2"/>
<circle cx="778.3" cy="1033.4" r="6.4" fill="#00a287" fill-opacity="0.2"/>
<circle cx="782.5" cy="1008.5" r="6.4" fill="#00a287" fill-opacity="0.2"/>
<circle cx="790.2" cy="1069.8" r="6.4" fill="#00a287" fill-opacity="0.2"/>
<circle cx="795" cy="1041.7" r="6.4" fill="#00a287" fill-opacity="0.2"/>
<circle cx="798.5" cy="1027.2" r="6.4" fill="#00a287" fill-opacity="0.2"/>
<circle cx="802.5" cy="1033.3" r="6.4" fill="#00a287" fill-opacity="0.2"/>
<circle cx="811.5" cy="1049.3" r="6.4" fill="#00a287" fill-opacity="0.2"/>
<circle cx="822.6" cy="1050.1" r="6.4" fill="#00a287" fill-opacity="0.2"/>
<circle cx="827.7" cy="1031" r="6.4" fill="#00a287" fill-opacity="0.2"/>
<circle cx="834.8" cy="1033.2" r="6.4" fill="#00a287" fill-opacity="0.2"/>
<circle cx="843" cy="1031.3" r="6.4" fill="#00a287" fill-opacity="0.2"/>
<circle cx="851.5" cy="1006.7" r="6.4" fill="#00a287" fill-opacity="0.2"/>
<circle cx="859.9" cy="1007.3" r="6.4" fill="#00a287" fill-opacity="0.2"/>
<circle cx="868.3" cy="996" r="6.4" fill="#00a287" fill-opacity="0.2"/>
<circle cx="876.6" cy="1022.9" r="6.4" fill="#00a287" fill-opacity="0.2"/>
<circle cx="879.6" cy="1014.6" r="6.4" fill="#00a287" fill-opacity="0.2"/>
<circle cx="884.3" cy="1055" r="6.4" fill="#00a287" fill-opacity="0.2"/>
<circle cx="887.5" cy="1051" r="6.4" fill="#00a287" fill-opacity="0.2"/>
<circle cx="892.3" cy="1029.1" r="6.4" fill="#00a287" fill-opacity="0.2"/>
<circle cx="895.9" cy="1067.9" r="6.4" fill="#00a287" fill-opacity="0.2"/>
<circle cx="904.9" cy="1072.1" r="6.4" fill="#00a287" fill-opacity="0.2"/>
<circle cx="909" cy="1068.1" r="6.4" fill="#00a287" fill-opacity="0.2"/>
<circle cx="911.8" cy="1093.2" r="6.4" fill="#00a287" fill-opacity="0.2"/>
<circle cx="915.9" cy="1082.1" r="6.4" fill="#00a287" fill-opacity="0.2"/>
<circle cx="920.5" cy="1083.1" r="6.4" fill="#00a287" fill-opacity="0.2"/>
<circle cx="925.2" cy="1087" r="6.4" fill="#00a287" fill-opacity="0.2"/>
<circle cx="936.8" cy="1070.2" r="6.4" fill="#00a287" fill-opacity="0.2"/>
<circle cx="945.8" cy="1055.9" r="6.4" fill="#00a287" fill-opacity="0.2"/>
<circle cx="948.4" cy="1084" r="6.4" fill="#00a287" fill-opacity="0.2"/>
<circle cx="953.8" cy="1067.1" r="6.4" fill="#00a287" fill-opacity="0.2"/>
<circle cx="957" cy="1077.8" r="6.4" fill="#00a287" fill-opacity="0.2"/>
<circle cx="962" cy="1082.9" r="6.4" fill="#00a287" fill-opacity="0.2"/>
<circle cx="965.1" cy="1062" r="6.4" fill="#00a287" fill-opacity="0.2"/>
<circle cx="969.4" cy="1061.9" r="6.4" fill="#00a287" fill-opacity="0.2"/>
<circle cx="973" cy="1071.2" r="6.4" fill="#00a287" fill-opacity="0.2"/>
<circle cx="978" cy="1058.9" r="6.4" fill="#00a287" fill-opacity="0.2"/>
<circle cx="982.4" cy="1087.9" r="6.4" fill="#00a287" fill-opacity="0.2"/>
<circle cx="985.2" cy="1084.9" r="6.4" fill="#00a287" fill-opacity="0.2"/>
<circle cx="989.4" cy="1065.1" r="6.4" fill="#00a287" fill-opacity="0.2"/>
<circle cx="993.8" cy="1071.2" r="6.4" fill="#00a287" fill-opacity="0.2"/>
<circle cx="1001.5" cy="1049.2" r="6.4" fill="#00a287" fill-opacity="0.2"/>
<circle cx="1006.1" cy="1046.8" r="6.4" fill="#00a287" fill-opacity="0.2"/>
<circle cx="1009.7" cy="1049.6" r="6.4" fill="#00a287" fill-opacity="0.2"/>
<circle cx="1013.5" cy="1045.6" r="6.4" fill="#00a287" fill-opacity="0.2"/>
<circle cx="1018.2" cy="1069.4" r="6.4" fill="#00a287" fill-opacity="0.2"/>
<circle cx="1022.8" cy="1048.6" r="6.4" fill="#00a287" fill-opacity="0.2"/>
<circle cx="1031.3" cy="1055.4" r="6.4" fill="#00a287" fill-opacity="0.2"/>
<circle cx="1033.8" cy="1052.4" r="6.4" fill="#00a287" fill-opacity="0.2"/>
<circle cx="1042.3" cy="1063.8" r="6.4" fill="#00a287" fill-opacity="0.2"/>
<circle cx="1046.3" cy="1042.7" r="6.4" fill="#00a287" fill-opacity="0.2"/>
<circle cx="1062.8" cy="1063.4" r="6.4" fill="#00a287" fill-opacity="0.2"/>
<circle cx="1070.6" cy="1031.7" r="6.4" fill="#00a287" fill-opacity="0.2"/>
<circle cx="1075.4" cy="1053.8" r="6.4" fill="#00a287" fill-opacity="0.2"/>
<circle cx="1078.6" cy="1070.3" r="6.4" fill="#00a287" fill-opacity="0.2"/>
<circle cx="1087.4" cy="1067.3" r="6.4" fill="#00a287" fill-opacity="0.2"/>
<circle cx="200.2" cy="1091.6" r="6.4" fill="#9f45b0" fill-opacity="0.2"/>
<circle cx="208.1" cy="1079.6" r="6.4" fill="#9f45b0" fill-opacity="0.2"/>
<circle cx="212.2" cy="1117.5" r="6.4" fill="#9f45b0" fill-opacity="0.2"/>
<circle cx="217" cy="1122.5" r="6.4" fill="#9f45b0" fill-opacity="0.2"/>
<circle cx="223.9" cy="1117.2" r="6.4" fill="#9f45b0" fill-opacity="0.2"/>
<circle cx="232.3" cy="1098" r="6.4" fill="#9f45b0" fill-opacity="0.2"/>
<circle cx="236.3" cy="1103.8" r="6.4" fill="#9f45b0" fill-opacity="0.2"/>
<circle cx="240.2" cy="1111" r="6.4" fill="#9f45b0" fill-opacity="0.2"/>
<circle cx="245.7" cy="1058.5" r="6.4" fill="#9f45b0" fill-opacity="0.2"/>
<circle cx="249.7" cy="1032.5" r="6.4" fill="#9f45b0" fill-opacity="0.2"/>
<circle cx="253.6" cy="1071.8" r="6.4" fill="#9f45b0" fill-opacity="0.2"/>
<circle cx="257.2" cy="1042.8" r="6.4" fill="#9f45b0" fill-opacity="0.2"/>
<circle cx="260.8" cy="1077.4" r="6.4" fill="#9f45b0" fill-opacity="0.2"/>
<circle cx="264.6" cy="1095" r="6.4" fill="#9f45b0" fill-opacity="0.2"/>
<circle cx="272.7" cy="1099.8" r="6.4" fill="#9f45b0" fill-opacity="0.2"/>
<circle cx="276.9" cy="1107.3" r="6.4" fill="#9f45b0" fill-opacity="0.2"/>
<circle cx="281.2" cy="1105" r="6.4" fill="#9f45b0" fill-opacity="0.2"/>
<circle cx="285.3" cy="1113" r="6.4" fill="#9f45b0" fill-opacity="0.2"/>
<circle cx="290.2" cy="1124.3" r="6.4" fill="#9f45b0" fill-opacity="0.2"/>
<circle cx="293.9" cy="1127.4" r="6.4" fill="#9f45b0" fill-opacity="0.2"/>
<circle cx="297.5" cy="1115.9" r="6.4" fill="#9f45b0" fill-opacity="0.2"/>
<circle cx="302.4" cy="1128.1" r="6.4" fill="#9f45b0" fill-opacity="0.2"/>
<circle cx="310.3" cy="1141.7" r="6.4" fill="#9f45b0" fill-opacity="0.2"/>
<circle cx="314" cy="1121.6" r="6.4" fill="#9f45b0" fill-opacity="0.2"/>
<circle cx="318.9" cy="1123.4" r="6.4" fill="#9f45b0" fill-opacity="0.2"/>
<circle cx="326.2" cy="1133" r="6.4" fill="#9f45b0" fill-opacity="0.2"/>
<circle cx="329.9" cy="1124.9" r="6.4" fill="#9f45b0" fill-opacity="0.2"/>
<circle cx="338.1" cy="1111.4" r="6.4" fill="#9f45b0" fill-opacity="0.2"/>
<circle cx="351.5" cy="1135.2" r="6.4" fill="#9f45b0" fill-opacity="0.2"/>
<circle cx="355.2" cy="1116.1" r="6.4" fill="#9f45b0" fill-opacity="0.2"/>
<circle cx="359.4" cy="1103.5" r="6.4" fill="#9f45b0" fill-opacity="0.2"/>
<circle cx="362.6" cy="1118.3" r="6.4" fill="#9f45b0" fill-opacity="0.2"/>
<circle cx="367.9" cy="1108" r="6.4" fill="#9f45b0" fill-opacity="0.2"/>
<circle cx="371.2" cy="1102.4" r="6.4" fill="#9f45b0" fill-opacity="0.2"/>
<circle cx="375.7" cy="1100.6" r="6.4" fill="#9f45b0" fill-opacity="0.2"/>
<circle cx="378.6" cy="1079.1" r="6.4" fill="#9f45b0" fill-opacity="0.2"/>
<circle cx="387.6" cy="1099.3" r="6.4" fill="#9f45b0" fill-opacity="0.2"/>
<circle cx="391.7" cy="1104.3" r="6.4" fill="#9f45b0" fill-opacity="0.2"/>
<circle cx="395.1" cy="1112.7" r="6.4" fill="#9f45b0" fill-opacity="0.2"/>
<circle cx="399.7" cy="1075.2" r="6.4" fill="#9f45b0" fill-opacity="0.2"/>
<circle cx="404.4" cy="1025.1" r="6.4" fill="#9f45b0" fill-opacity="0.2"/>
<circle cx="408.1" cy="1074.6" r="6.4" fill="#9f45b0" fill-opacity="0.2"/>
<circle cx="412.3" cy="1030.9" r="6.4" fill="#9f45b0" fill-opacity="0.2"/>
<circle cx="415.2" cy="1061.9" r="6.4" fill="#9f45b0" fill-opacity="0.2"/>
<circle cx="419.9" cy="1042" r="6.4" fill="#9f45b0" fill-opacity="0.2"/>
<circle cx="424" cy="1046.3" r="6.4" fill="#9f45b0" fill-opacity="0.2"/>
<circle cx="427.7" cy="1025.7" r="6.4" fill="#9f45b0" fill-opacity="0.2"/>
<circle cx="436.6" cy="1059.9" r="6.4" fill="#9f45b0" fill-opacity="0.2"/>
<circle cx="439.8" cy="1073.8" r="6.4" fill="#9f45b0" fill-opacity="0.2"/>
<circle cx="443.8" cy="1063.6" r="6.4" fill="#9f45b0" fill-opacity="0.2"/>
<circle cx="448.5" cy="1043.5" r="6.4" fill="#9f45b0" fill-opacity="0.2"/>
<circle cx="452.5" cy="1028.3" r="6.4" fill="#9f45b0" fill-opacity="0.2"/>
<circle cx="457.3" cy="1053" r="6.4" fill="#9f45b0" fill-opacity="0.2"/>
<circle cx="461.1" cy="1064.8" r="6.4" fill="#9f45b0" fill-opacity="0.2"/>
<circle cx="464.8" cy="1056" r="6.4" fill="#9f45b0" fill-opacity="0.2"/>
<circle cx="472.2" cy="1050.5" r="6.4" fill="#9f45b0" fill-opacity="0.2"/>
<circle cx="480.4" cy="1083.1" r="6.4" fill="#9f45b0" fill-opacity="0.2"/>
<circle cx="485.4" cy="1069.6" r="6.4" fill="#9f45b0" fill-opacity="0.2"/>
<circle cx="488.5" cy="1071.9" r="6.4" fill="#9f45b0" fill-opacity="0.2"/>
<circle cx="493.8" cy="1054.5" r="6.4" fill="#9f45b0" fill-opacity="0.2"/>
<circle cx="497.3" cy="1072.7" r="6.4" fill="#9f45b0" fill-opacity="0.2"/>
<circle cx="505" cy="1062.7" r="6.4" fill="#9f45b0" fill-opacity="0.2"/>
<circle cx="510.2" cy="1077.4" r="6.4" fill="#9f45b0" fill-opacity="0.2"/>
<circle cx="513.2" cy="1052.2" r="6.4" fill="#9f45b0" fill-opacity="0.2"/>
<circle cx="518" cy="1069.6" r="6.4" fill="#9f45b0" fill-opacity="0.2"/>
<circle cx="521.2" cy="1106" r="6.4" fill="#9f45b0" fill-opacity="0.2"/>
<circle cx="525.4" cy="1061.4" r="6.4" fill="#9f45b0" fill-opacity="0.2"/>
<circle cx="530.5" cy="1076.3" r="6.4" fill="#9f45b0" fill-opacity="0.2"/>
<circle cx="537.9" cy="1095.5" r="6.4" fill="#9f45b0" fill-opacity="0.2"/>
<circle cx="541.6" cy="1100.5" r="6.4" fill="#9f45b0" fill-opacity="0.2"/>
<circle cx="546.5" cy="1086.1" r="6.4" fill="#9f45b0" fill-opacity="0.2"/>
<circle cx="549.9" cy="1085.4" r="6.4" fill="#9f45b0" fill-opacity="0.2"/>
<circle cx="554.3" cy="1095.6" r="6.4" fill="#9f45b0" fill-opacity="0.2"/>
<circle cx="565.8" cy="1064.8" r="6.4" fill="#9f45b0" fill-opacity="0.2"/>
<circle cx="586.2" cy="1066.5" r="6.4" fill="#9f45b0" fill-opacity="0.2"/>
<circle cx="590.2" cy="1050.7" r="6.4" fill="#9f45b0" fill-opacity="0.2"/>
<circle cx="595.1" cy="1068.2" r="6.4" fill="#9f45b0" fill-opacity="0.2"/>
<circle cx="599.8" cy="1070" r="6.4" fill="#9f45b0" fill-opacity="0.2"/>
<circle cx="607.5" cy="1040.9" r="6.4" fill="#9f45b0" fill-opacity="0.2"/>
<circle cx="616" cy="1048.5" r="6.4" fill="#9f45b0" fill-opacity="0.2"/>
<circle cx="619.8" cy="1040.3" r="6.4" fill="#9f45b0" fill-opacity="0.2"/>
<circle cx="623.8" cy="1047.1" r="6.4" fill="#9f45b0" fill-opacity="0.2"/>
<circle cx="627" cy="1043.1" r="6.4" fill="#9f45b0" fill-opacity="0.2"/>
<circle cx="632.1" cy="1020.8" r="6.4" fill="#9f45b0" fill-opacity="0.2"/>
<circle cx="636" cy="1041" r="6.4" fill="#9f45b0" fill-opacity="0.2"/>
<circle cx="639.9" cy="1052.8" r="6.4" fill="#9f45b0" fill-opacity="0.2"/>
<circle cx="647.2" cy="1077.9" r="6.4" fill="#9f45b0" fill-opacity="0.2"/>
<circle cx="652.2" cy="1050.3" r="6.4" fill="#9f45b0" fill-opacity="0.2"/>
<circle cx="656" cy="1047.2" r="6.4" fill="#9f45b0" fill-opacity="0.2"/>
<circle cx="660.6" cy="1033.8" r="6.4" fill="#9f45b0" fill-opacity="0.2"/>
<circle cx="664.7" cy="1015.2" r="6.4" fill="#9f45b0" fill-opacity="0.2"/>
<circle cx="668.9" cy="1058.7" r="6.4" fill="#9f45b0" fill-opacity="0.2"/>
<circle cx="676.7" cy="1060.9" r="6.4" fill="#9f45b0" fill-opacity="0.2"/>
<circle cx="681.1" cy="1010.8" r="6.4" fill="#9f45b0" fill-opacity="0.2"/>
<circle cx="683.8" cy="1052.3" r="6.4" fill="#9f45b0" fill-opacity="0.2"/>
<circle cx="688.1" cy="1053.3" r="6.4" fill="#9f45b0" fill-opacity="0.2"/>
<circle cx="692.2" cy="1051.8" r="6.4" fill="#9f45b0" fill-opacity="0.2"/>
<circle cx="696" cy="1045" r="6.4" fill="#9f45b0" fill-opacity="0.2"/>
<circle cx="700.2" cy="1065.6" r="6.4" fill="#9f45b0" fill-opacity="0.2"/>
<circle cx="713.4" cy="1089" r="6.4" fill="#9f45b0" fill-opacity="0.2"/>
<circle cx="721.2" cy="1053.9" r="6.4" fill="#9f45b0" fill-opacity="0.2"/>
<circle cx="725.2" cy="1073.6" r="6.4" fill="#9f45b0" fill-opacity="0.2"/>
<circle cx="738.1" cy="1081" r="6.4" fill="#9f45b0" fill-opacity="0.2"/>
<circle cx="746.2" cy="1087.5" r="6.4" fill="#9f45b0" fill-opacity="0.2"/>
<circle cx="749.8" cy="1098.5" r="6.4" fill="#9f45b0" fill-opacity="0.2"/>
<circle cx="754.4" cy="1091.9" r="6.4" fill="#9f45b0" fill-opacity="0.2"/>
<circle cx="761.4" cy="1082.7" r="6.4" fill="#9f45b0" fill-opacity="0.2"/>
<circle cx="765.4" cy="1086.8" r="6.4" fill="#9f45b0" fill-opacity="0.2"/>
<circle cx="773.4" cy="1086.3" r="6.4" fill="#9f45b0" fill-opacity="0.2"/>
<circle cx="782.5" cy="1070.3" r="6.4" fill="#9f45b0" fill-opacity="0.2"/>
<circle cx="797.8" cy="1062.2" r="6.4" fill="#9f45b0" fill-opacity="0.2"/>
<circle cx="803" cy="1063.7" r="6.4" fill="#9f45b0" fill-opacity="0.2"/>
<circle cx="806.2" cy="1075.9" r="6.4" fill="#9f45b0" fill-opacity="0.2"/>
<circle cx="809.9" cy="1062.4" r="6.4" fill="#9f45b0" fill-opacity="0.2"/>
<circle cx="814.3" cy="1033.5" r="6.4" fill="#9f45b0" fill-opacity="0.2"/>
<circle cx="822.7" cy="1041.9" r="6.4" fill="#9f45b0" fill-opacity="0.2"/>
<circle cx="826.8" cy="1031.6" r="6.4" fill="#9f45b0" fill-opacity="0.2"/>
<circle cx="831.1" cy="1029.5" r="6.4" fill="#9f45b0" fill-opacity="0.2"/>
<circle cx="835.6" cy="1026.5" r="6.4" fill="#9f45b0" fill-opacity="0.2"/>
<circle cx="843.4" cy="1018" r="6.4" fill="#9f45b0" fill-opacity="0.2"/>
<circle cx="846.7" cy="1020.2" r="6.4" fill="#9f45b0" fill-opacity="0.2"/>
<circle cx="855.3" cy="1014.3" r="6.4" fill="#9f45b0" fill-opacity="0.2"/>
<circle cx="863.1" cy="1017.6" r="6.4" fill="#9f45b0" fill-opacity="0.2"/>
<circle cx="868" cy="1033.6" r="6.4" fill="#9f45b0" fill-opacity="0.2"/>
<circle cx="872.5" cy="1054" r="6.4" fill="#9f45b0" fill-opacity="0.2"/>
<circle cx="875.8" cy="1021.2" r="6.4" fill="#9f45b0" fill-opacity="0.2"/>
<circle cx="879.4" cy="1035.7" r="6.4" fill="#9f45b0" fill-opacity="0.2"/>
<circle cx="883.7" cy="1039.4" r="6.4" fill="#9f45b0" fill-opacity="0.2"/>
<circle cx="888.7" cy="1043.3" r="6.4" fill="#9f45b0" fill-opacity="0.2"/>
<circle cx="896" cy="1061.5" r="6.4" fill="#9f45b0" fill-opacity="0.2"/>
<circle cx="899.7" cy="1051.7" r="6.4" fill="#9f45b0" fill-opacity="0.2"/>
<circle cx="904.3" cy="1071.4" r="6.4" fill="#9f45b0" fill-opacity="0.2"/>
<circle cx="908.7" cy="1087.7" r="6.4" fill="#9f45b0" fill-opacity="0.2"/>
<circle cx="912.1" cy="1082.2" r="6.4" fill="#9f45b0" fill-opacity="0.2"/>
<circle cx="917.1" cy="1093" r="6.4" fill="#9f45b0" fill-opacity="0.2"/>
<circle cx="921.1" cy="1072.1" r="6.4" fill="#9f45b0" fill-opacity="0.2"/>
<circle cx="925.3" cy="1071.1" r="6.4" fill="#9f45b0" fill-opacity="0.2"/>
<circle cx="932.4" cy="1084.4" r="6.4" fill="#9f45b0" fill-opacity="0.2"/>
<circle cx="936.8" cy="1096.7" r="6.4" fill="#9f45b0" fill-opacity="0.2"/>
<circle cx="945.6" cy="1142.4" r="6.4" fill="#9f45b0" fill-opacity="0.2"/>
<circle cx="949" cy="1131.7" r="6.4" fill="#9f45b0" fill-opacity="0.2"/>
<circle cx="957.7" cy="1139.9" r="6.4" fill="#9f45b0" fill-opacity="0.2"/>
<circle cx="960.7" cy="1139.3" r="6.4" fill="#9f45b0" fill-opacity="0.2"/>
<circle cx="964.9" cy="1091.8" r="6.4" fill="#9f45b0" fill-opacity="0.2"/>
<circle cx="969.1" cy="1079.8" r="6.4" fill="#9f45b0" fill-opacity="0.2"/>
<circle cx="977.2" cy="1093.4" r="6.4" fill="#9f45b0" fill-opacity="0.2"/>
<circle cx="982.1" cy="1053.4" r="6.4" fill="#9f45b0" fill-opacity="0.2"/>
<circle cx="985.3" cy="1074.3" r="6.4" fill="#9f45b0" fill-opacity="0.2"/>
<circle cx="1002.8" cy="1022.2" r="6.4" fill="#9f45b0" fill-opacity="0.2"/>
<circle cx="1005.4" cy="1039.1" r="6.4" fill="#9f45b0" fill-opacity="0.2"/>
<circle cx="1009.8" cy="1037.3" r="6.4" fill="#9f45b0" fill-opacity="0.2"/>
<circle cx="1014.7" cy="1028" r="6.4" fill="#9f45b0" fill-opacity="0.2"/>
<circle cx="1018" cy="1045.7" r="6.4" fill="#9f45b0" fill-opacity="0.2"/>
<circle cx="1022.9" cy="1055.5" r="6.4" fill="#9f45b0" fill-opacity="0.2"/>
<circle cx="1026.6" cy="1073" r="6.4" fill="#9f45b0" fill-opacity="0.2"/>
<circle cx="1029.9" cy="1055.4" r="6.4" fill="#9f45b0" fill-opacity="0.2"/>
<circle cx="1035.1" cy="1053.9" r="6.4" fill="#9f45b0" fill-opacity="0.2"/>
<circle cx="1038.4" cy="1054.7" r="6.4" fill="#9f45b0" fill-opacity="0.2"/>
<circle cx="1042.3" cy="1020.4" r="6.4" fill="#9f45b0" fill-opacity="0.2"/>
<circle cx="1047.5" cy="1040.3" r="6.4" fill="#9f45b0" fill-opacity="0.2"/>
<circle cx="1054.3" cy="1053.9" r="6.4" fill="#9f45b0" fill-opacity="0.2"/>
<circle cx="1059.4" cy="1047.7" r="6.4" fill="#9f45b0" fill-opacity="0.2"/>
<circle cx="1063.6" cy="1033.7" r="6.4" fill="#9f45b0" fill-opacity="0.2"/>
<circle cx="1067.4" cy="1053.4" r="6.4" fill="#9f45b0" fill-opacity="0.2"/>
<circle cx="1075.8" cy="1034.1" r="6.4" fill="#9f45b0" fill-opacity="0.2"/>
<circle cx="1079.2" cy="1072.3" r="6.4" fill="#9f45b0" fill-opacity="0.2"/>
<circle cx="1083.1" cy="1071.1" r="6.4" fill="#9f45b0" fill-opacity="0.2"/>
<circle cx="1087.5" cy="1069.6" r="6.4" fill="#9f45b0" fill-opacity="0.2"/>
<circle cx="1091" cy="1059.1" r="6.4" fill="#9f45b0" fill-opacity="0.2"/>
<circle cx="1095.6" cy="1063.4" r="6.4" fill="#9f45b0" fill-opacity="0.2"/>
<circle cx="208.5" cy="963" r="6.4" fill="#0099df" fill-opacity="0.2"/>
<circle cx="261.6" cy="980.3" r="6.4" fill="#0099df" fill-opacity="0.2"/>
<circle cx="196.1" cy="989" r="6.4" fill="#fe4a37" fill-opacity="0.2"/>
<circle cx="208.5" cy="989" r="6.4" fill="#fe4a37" fill-opacity="0.2"/>
<circle cx="196" cy="998.9" r="6.4" fill="#0099df" fill-opacity="0.2"/>
<circle cx="241.4" cy="1005" r="6.4" fill="#fe4a37" fill-opacity="0.2"/>
<circle cx="220.8" cy="1012.5" r="6.4" fill="#9f45b0" fill-opacity="0.2"/>
<circle cx="293.8" cy="1006.3" r="6.4" fill="#fe4a37" fill-opacity="0.2"/>
<circle cx="313.5" cy="1001.3" r="6.4" fill="#0099df" fill-opacity="0.2"/>
<circle cx="330.8" cy="1007.5" r="6.4" fill="#0099df" fill-opacity="0.2"/>
<circle cx="293.8" cy="1018.6" r="6.4" fill="#0099df" fill-opacity="0.2"/>
<circle cx="293.8" cy="1031" r="6.4" fill="#00a287" fill-opacity="0.2"/>
<circle cx="343.2" cy="1018.6" r="6.4" fill="#0099df" fill-opacity="0.2"/>
<circle cx="360.5" cy="1000.1" r="6.4" fill="#0099df" fill-opacity="0.2"/>
<circle cx="367.9" cy="975.4" r="6.4" fill="#0099df" fill-opacity="0.2"/>
<circle cx="416.1" cy="956.9" r="6.4" fill="#0099df" fill-opacity="0.2"/>
<circle cx="419.8" cy="970.4" r="6.4" fill="#0099df" fill-opacity="0.2"/>
<circle cx="400" cy="980.3" r="6.4" fill="#0099df" fill-opacity="0.2"/>
<circle cx="204.8" cy="1152.1" r="6.4" fill="#9f45b0" fill-opacity="0.2"/>
<circle cx="236.9" cy="1173.1" r="6.4" fill="#fe4a37" fill-opacity="0.2"/>
<circle cx="224.5" cy="1196.6" r="6.4" fill="#fe4a37" fill-opacity="0.2"/>
<circle cx="229.5" cy="1226.3" r="6.4" fill="#9f45b0" fill-opacity="0.2"/>
<circle cx="236.9" cy="1238.6" r="6.4" fill="#0099df" fill-opacity="0.2"/>
<circle cx="212.2" cy="1116.3" r="6.4" fill="#00a287" fill-opacity="0.2"/>
<circle cx="236.9" cy="1118.7" r="6.4" fill="#00a287" fill-opacity="0.2"/>
<circle cx="261.6" cy="1108.9" r="6.4" fill="#9f45b0" fill-opacity="0.2"/>
<circle cx="277.7" cy="1113.8" r="6.4" fill="#00a287" fill-opacity="0.2"/>
<circle cx="281.4" cy="1126.2" r="6.4" fill="#fe4a37" fill-opacity="0.2"/>
<circle cx="282.6" cy="1141" r="6.4" fill="#9f45b0" fill-opacity="0.2"/>
<circle cx="281.4" cy="1153.4" r="6.4" fill="#0099df" fill-opacity="0.2"/>
<circle cx="277.7" cy="1159.5" r="6.4" fill="#9f45b0" fill-opacity="0.2"/>
<circle cx="298.7" cy="1113.8" r="6.4" fill="#fe4a37" fill-opacity="0.2"/>
<circle cx="306.1" cy="1134.8" r="6.4" fill="#9f45b0" fill-opacity="0.2"/>
<circle cx="314.8" cy="1136" r="6.4" fill="#00a287" fill-opacity="0.2"/>
<circle cx="330.8" cy="1144.7" r="6.4" fill="#fe4a37" fill-opacity="0.2"/>
<circle cx="318.5" cy="1157.1" r="6.4" fill="#fe4a37" fill-opacity="0.2"/>
<circle cx="323.4" cy="1155.8" r="6.4" fill="#00a287" fill-opacity="0.2"/>
<circle cx="318.5" cy="1167" r="6.4" fill="#0099df" fill-opacity="0.2"/>
<circle cx="322.2" cy="1186.7" r="6.4" fill="#fe4a37" fill-opacity="0.2"/>
<circle cx="330.8" cy="1189.2" r="6.4" fill="#00a287" fill-opacity="0.2"/>
<circle cx="346.9" cy="1158.3" r="6.4" fill="#9f45b0" fill-opacity="0.2"/>
<circle cx="351.8" cy="1157.1" r="6.4" fill="#9f45b0" fill-opacity="0.2"/>
<circle cx="363" cy="1170.6" r="6.4" fill="#9f45b0" fill-opacity="0.2"/>
<circle cx="384" cy="1136" r="6.4" fill="#9f45b0" fill-opacity="0.2"/>
<circle cx="387.7" cy="1123.7" r="6.4" fill="#9f45b0" fill-opacity="0.2"/>
<circle cx="391.4" cy="1115" r="6.4" fill="#9f45b0" fill-opacity="0.2"/>
<circle cx="371.6" cy="1123.7" r="6.4" fill="#00a287" fill-opacity="0.2"/>
<circle cx="408.7" cy="1076.7" r="6.4" fill="#fe4a37" fill-opacity="0.2"/>
<circle cx="422.3" cy="1085.4" r="6.4" fill="#9f45b0" fill-opacity="0.2"/>
<circle cx="563.4" cy="1107.6" r="6.4" fill="#9f45b0" fill-opacity="0.2"/>
<circle cx="542.8" cy="1123.7" r="6.4" fill="#9f45b0" fill-opacity="0.2"/>
<circle cx="547.3" cy="1131.1" r="6.4" fill="#9f45b0" fill-opacity="0.2"/>
<circle cx="424.9" cy="1084.9" r="6.4" fill="#9f45b0" fill-opacity="0.2"/>
<circle cx="457.1" cy="1083.4" r="6.4" fill="#9f45b0" fill-opacity="0.2"/>
<circle cx="469.4" cy="1091.6" r="6.4" fill="#00a287" fill-opacity="0.2"/>
<circle cx="420.5" cy="956" r="6.4" fill="#0099df" fill-opacity="0.2"/>
<circle cx="422.5" cy="970" r="6.4" fill="#0099df" fill-opacity="0.2"/>
<circle cx="575" cy="966" r="6.4" fill="#0099df" fill-opacity="0.2"/>
<circle cx="607" cy="969" r="6.4" fill="#0099df" fill-opacity="0.2"/>
<circle cx="643" cy="962" r="6.4" fill="#0099df" fill-opacity="0.2"/>
<circle cx="481.8" cy="982.3" r="6.4" fill="#0099df" fill-opacity="0.2"/>
<circle cx="513.9" cy="981.5" r="6.4" fill="#0099df" fill-opacity="0.2"/>
<circle cx="530.5" cy="984" r="6.4" fill="#0099df" fill-opacity="0.2"/>
<circle cx="673.5" cy="956.8" r="6.4" fill="#0099df" fill-opacity="0.2"/>
<circle cx="668.6" cy="971.7" r="6.4" fill="#0099df" fill-opacity="0.2"/>
<circle cx="762.5" cy="968" r="6.4" fill="#0099df" fill-opacity="0.2"/>
<circle cx="778.6" cy="974.2" r="6.4" fill="#0099df" fill-opacity="0.2"/>
<circle cx="856.4" cy="956.8" r="6.4" fill="#0099df" fill-opacity="0.2"/>
<circle cx="881.2" cy="953.1" r="6.4" fill="#0099df" fill-opacity="0.2"/>
<circle cx="888.6" cy="965.5" r="6.4" fill="#0099df" fill-opacity="0.2"/>
<circle cx="693.3" cy="980.3" r="6.4" fill="#0099df" fill-opacity="0.2"/>
<circle cx="741.5" cy="984" r="6.4" fill="#0099df" fill-opacity="0.2"/>
<circle cx="808.2" cy="979.1" r="6.4" fill="#0099df" fill-opacity="0.2"/>
<circle cx="824.3" cy="977.9" r="6.4" fill="#0099df" fill-opacity="0.2"/>
<circle cx="836.7" cy="979.1" r="6.4" fill="#0099df" fill-opacity="0.2"/>
<circle cx="677.2" cy="1091.6" r="6.4" fill="#00a287" fill-opacity="0.2"/>
<circle cx="721.7" cy="1095.3" r="6.4" fill="#00a287" fill-opacity="0.2"/>
<circle cx="812" cy="1073" r="6.4" fill="#00a287" fill-opacity="0.2"/>
<circle cx="836.7" cy="1074.3" r="6.4" fill="#00a287" fill-opacity="0.2"/>
<circle cx="872.5" cy="1073" r="6.4" fill="#00a287" fill-opacity="0.2"/>
<circle cx="746.5" cy="1073" r="6.4" fill="#00a287" fill-opacity="0.2"/>
<circle cx="698.3" cy="1086.6" r="6.4" fill="#9f45b0" fill-opacity="0.2"/>
<circle cx="737.8" cy="1097.7" r="6.4" fill="#9f45b0" fill-opacity="0.2"/>
<circle cx="751.4" cy="1111.3" r="6.4" fill="#9f45b0" fill-opacity="0.2"/>
<circle cx="746.5" cy="1118.7" r="6.4" fill="#9f45b0" fill-opacity="0.2"/>
<circle cx="783.5" cy="1096.5" r="6.4" fill="#9f45b0" fill-opacity="0.2"/>
<circle cx="779.8" cy="1110.1" r="6.4" fill="#9f45b0" fill-opacity="0.2"/>
<circle cx="872.5" cy="1061.9" r="6.4" fill="#9f45b0" fill-opacity="0.2"/>
<circle cx="836.7" cy="1066.8" r="6.4" fill="#fe4a37" fill-opacity="0.2"/>
<circle cx="856.4" cy="1049.5" r="6.4" fill="#fe4a37" fill-opacity="0.2"/>
<circle cx="872.5" cy="1054.5" r="6.4" fill="#fe4a37" fill-opacity="0.2"/>
<circle cx="882.6" cy="953.3" r="6.4" fill="#0099df" fill-opacity="0.2"/>
<circle cx="889.5" cy="967" r="6.4" fill="#0099df" fill-opacity="0.2"/>
<circle cx="897.2" cy="979.9" r="6.4" fill="#0099df" fill-opacity="0.2"/>
<circle cx="925.6" cy="955.9" r="6.4" fill="#0099df" fill-opacity="0.2"/>
<circle cx="929.9" cy="973.9" r="6.4" fill="#0099df" fill-opacity="0.2"/>
<circle cx="938.4" cy="996.3" r="6.4" fill="#0099df" fill-opacity="0.2"/>
<circle cx="959.1" cy="998" r="6.4" fill="#0099df" fill-opacity="0.2"/>
<circle cx="999.5" cy="985.9" r="6.4" fill="#0099df" fill-opacity="0.2"/>
<circle cx="995.2" cy="997.1" r="6.4" fill="#0099df" fill-opacity="0.2"/>
<circle cx="1036.4" cy="966.2" r="6.4" fill="#0099df" fill-opacity="0.2"/>
<circle cx="1076" cy="969.6" r="6.4" fill="#0099df" fill-opacity="0.2"/>
<circle cx="1093.2" cy="987.7" r="6.4" fill="#0099df" fill-opacity="0.2"/>
<circle cx="1057.1" cy="985.9" r="6.4" fill="#0099df" fill-opacity="0.2"/>
<circle cx="1023.5" cy="980.8" r="6.4" fill="#0099df" fill-opacity="0.2"/>
<circle cx="1024.4" cy="972.2" r="6.4" fill="#fe4a37" fill-opacity="0.2"/>
<circle cx="1008.9" cy="997.1" r="6.4" fill="#fe4a37" fill-opacity="0.2"/>
<circle cx="983.1" cy="1089.1" r="6.4" fill="#fe4a37" fill-opacity="0.2"/>
<circle cx="1039.9" cy="1004.9" r="6.4" fill="#fe4a37" fill-opacity="0.2"/>
<circle cx="1032.1" cy="1085.7" r="6.4" fill="#9f45b0" fill-opacity="0.2"/>
<circle cx="1072.5" cy="1078.8" r="6.4" fill="#9f45b0" fill-opacity="0.2"/>
<circle cx="1080.3" cy="1072.8" r="6.4" fill="#9f45b0" fill-opacity="0.2"/>
<circle cx="1019.2" cy="1056.4" r="6.4" fill="#9f45b0" fill-opacity="0.2"/>
<circle cx="1043.3" cy="1062.4" r="6.4" fill="#9f45b0" fill-opacity="0.2"/>
<circle cx="913.5" cy="1110.6" r="6.4" fill="#9f45b0" fill-opacity="0.2"/>
<circle cx="967.7" cy="1120" r="6.4" fill="#9f45b0" fill-opacity="0.2"/>
<circle cx="885.2" cy="1039.2" r="6.4" fill="#9f45b0" fill-opacity="0.2"/>
<circle cx="901.5" cy="1104.6" r="6.4" fill="#00a287" fill-opacity="0.2"/>
<circle cx="955.6" cy="1114.9" r="6.4" fill="#00a287" fill-opacity="0.2"/>
<circle cx="1097.5" cy="1081.4" r="6.4" fill="#00a287" fill-opacity="0.2"/>
<circle cx="1027" cy="1047.8" r="6.4" fill="#00a287" fill-opacity="0.2"/>
<circle cx="962.5" cy="1073.6" r="6.4" fill="#00a287" fill-opacity="0.2"/>
<circle cx="1144" cy="997.7" r="6.4" fill="#0099df" fill-opacity="0.2"/>
<circle cx="1147.6" cy="1007.4" r="6.4" fill="#0099df" fill-opacity="0.2"/>
<circle cx="1151.8" cy="996.3" r="6.4" fill="#0099df" fill-opacity="0.2"/>
<circle cx="1156.4" cy="1005.5" r="6.4" fill="#0099df" fill-opacity="0.2"/>
<circle cx="1160.9" cy="1002.9" r="6.4" fill="#0099df" fill-opacity="0.2"/>
<circle cx="1165.9" cy="1009.9" r="6.4" fill="#0099df" fill-opacity="0.2"/>
<circle cx="1169.2" cy="994.7" r="6.4" fill="#0099df" fill-opacity="0.2"/>
<circle cx="1177.3" cy="1021.9" r="6.4" fill="#0099df" fill-opacity="0.2"/>
<circle cx="1186.1" cy="1027.8" r="6.4" fill="#0099df" fill-opacity="0.2"/>
<circle cx="1191.3" cy="1018" r="6.4" fill="#0099df" fill-opacity="0.2"/>
<circle cx="1194.1" cy="1039.4" r="6.4" fill="#0099df" fill-opacity="0.2"/>
<circle cx="1198.9" cy="1009.6" r="6.4" fill="#0099df" fill-opacity="0.2"/>
<circle cx="1203.8" cy="1025.7" r="6.4" fill="#0099df" fill-opacity="0.2"/>
<circle cx="1207.4" cy="1001.5" r="6.4" fill="#0099df" fill-opacity="0.2"/>
<circle cx="1211.2" cy="1032.1" r="6.4" fill="#0099df" fill-opacity="0.2"/>
<circle cx="1215.2" cy="1001.6" r="6.4" fill="#0099df" fill-opacity="0.2"/>
<circle cx="1220.7" cy="1003.7" r="6.4" fill="#0099df" fill-opacity="0.2"/>
<circle cx="1225" cy="1019.6" r="6.4" fill="#0099df" fill-opacity="0.2"/>
<circle cx="1236.5" cy="1033.1" r="6.4" fill="#0099df" fill-opacity="0.2"/>
<circle cx="1241.7" cy="1017.7" r="6.4" fill="#0099df" fill-opacity="0.2"/>
<circle cx="1254.7" cy="1031.9" r="6.4" fill="#0099df" fill-opacity="0.2"/>
<circle cx="1262.7" cy="1041.8" r="6.4" fill="#0099df" fill-opacity="0.2"/>
<circle cx="1265.9" cy="1030.9" r="6.4" fill="#0099df" fill-opacity="0.2"/>
<circle cx="1271.1" cy="1023.4" r="6.4" fill="#0099df" fill-opacity="0.2"/>
<circle cx="1274.6" cy="1016.5" r="6.4" fill="#0099df" fill-opacity="0.2"/>
<circle cx="1287.6" cy="1018.8" r="6.4" fill="#0099df" fill-opacity="0.2"/>
<circle cx="1292" cy="1009.8" r="6.4" fill="#0099df" fill-opacity="0.2"/>
<circle cx="1296.4" cy="1016.9" r="6.4" fill="#0099df" fill-opacity="0.2"/>
<circle cx="1300.2" cy="994.1" r="6.4" fill="#0099df" fill-opacity="0.2"/>
<circle cx="1304" cy="990.1" r="6.4" fill="#0099df" fill-opacity="0.2"/>
<circle cx="1309.5" cy="1040.5" r="6.4" fill="#0099df" fill-opacity="0.2"/>
<circle cx="1312.9" cy="1016" r="6.4" fill="#0099df" fill-opacity="0.2"/>
<circle cx="1317.5" cy="1009.6" r="6.4" fill="#0099df" fill-opacity="0.2"/>
<circle cx="1321.2" cy="1026.2" r="6.4" fill="#0099df" fill-opacity="0.2"/>
<circle cx="1325.2" cy="1020.6" r="6.4" fill="#0099df" fill-opacity="0.2"/>
<circle cx="1330.4" cy="1024.1" r="6.4" fill="#0099df" fill-opacity="0.2"/>
<circle cx="1334.6" cy="1019.1" r="6.4" fill="#0099df" fill-opacity="0.2"/>
<circle cx="1339" cy="1005.8" r="6.4" fill="#0099df" fill-opacity="0.2"/>
<circle cx="1343.5" cy="1050.5" r="6.4" fill="#0099df" fill-opacity="0.2"/>
<circle cx="1347" cy="1019.6" r="6.4" fill="#0099df" fill-opacity="0.2"/>
<circle cx="1355.3" cy="1024.7" r="6.4" fill="#0099df" fill-opacity="0.2"/>
<circle cx="1359.6" cy="1014.3" r="6.4" fill="#0099df" fill-opacity="0.2"/>
<circle cx="1368.6" cy="1022.7" r="6.4" fill="#0099df" fill-opacity="0.2"/>
<circle cx="1372.5" cy="1008.7" r="6.4" fill="#0099df" fill-opacity="0.2"/>
<circle cx="1380.3" cy="1021" r="6.4" fill="#0099df" fill-opacity="0.2"/>
<circle cx="1385.1" cy="1003.4" r="6.4" fill="#0099df" fill-opacity="0.2"/>
<circle cx="1398.6" cy="1020.2" r="6.4" fill="#0099df" fill-opacity="0.2"/>
<circle cx="1402.6" cy="1044.7" r="6.4" fill="#0099df" fill-opacity="0.2"/>
<circle cx="1406.2" cy="1013.6" r="6.4" fill="#0099df" fill-opacity="0.2"/>
<circle cx="1414.2" cy="1014" r="6.4" fill="#0099df" fill-opacity="0.2"/>
<circle cx="1418.8" cy="1005.1" r="6.4" fill="#0099df" fill-opacity="0.2"/>
<circle cx="1423.2" cy="1007.7" r="6.4" fill="#0099df" fill-opacity="0.2"/>
<circle cx="1427.1" cy="1027.5" r="6.4" fill="#0099df" fill-opacity="0.2"/>
<circle cx="1432" cy="1046.9" r="6.4" fill="#0099df" fill-opacity="0.2"/>
<circle cx="1435.1" cy="990.7" r="6.4" fill="#0099df" fill-opacity="0.2"/>
<circle cx="1440.1" cy="984.4" r="6.4" fill="#0099df" fill-opacity="0.2"/>
<circle cx="1445" cy="997.4" r="6.4" fill="#0099df" fill-opacity="0.2"/>
<circle cx="1457.1" cy="1006.1" r="6.4" fill="#0099df" fill-opacity="0.2"/>
<circle cx="1460.7" cy="1001.9" r="6.4" fill="#0099df" fill-opacity="0.2"/>
<circle cx="1466" cy="1022.2" r="6.4" fill="#0099df" fill-opacity="0.2"/>
<circle cx="1469.1" cy="1028.7" r="6.4" fill="#0099df" fill-opacity="0.2"/>
<circle cx="1473.5" cy="1028.7" r="6.4" fill="#0099df" fill-opacity="0.2"/>
<circle cx="1482.9" cy="996.3" r="6.4" fill="#0099df" fill-opacity="0.2"/>
<circle cx="1487.4" cy="1013.5" r="6.4" fill="#0099df" fill-opacity="0.2"/>
<circle cx="1490.4" cy="1046.2" r="6.4" fill="#0099df" fill-opacity="0.2"/>
<circle cx="1495.9" cy="995.9" r="6.4" fill="#0099df" fill-opacity="0.2"/>
<circle cx="1499.9" cy="998.1" r="6.4" fill="#0099df" fill-opacity="0.2"/>
<circle cx="1503.1" cy="1010.1" r="6.4" fill="#0099df" fill-opacity="0.2"/>
<circle cx="1512.6" cy="1040.7" r="6.4" fill="#0099df" fill-opacity="0.2"/>
<circle cx="1516.2" cy="1016.2" r="6.4" fill="#0099df" fill-opacity="0.2"/>
<circle cx="1521.1" cy="1046.9" r="6.4" fill="#0099df" fill-opacity="0.2"/>
<circle cx="1525.5" cy="990.9" r="6.4" fill="#0099df" fill-opacity="0.2"/>
<circle cx="1533.6" cy="1041.3" r="6.4" fill="#0099df" fill-opacity="0.2"/>
<circle cx="1536.6" cy="995.5" r="6.4" fill="#0099df" fill-opacity="0.2"/>
<circle cx="1550.6" cy="1006.2" r="6.4" fill="#0099df" fill-opacity="0.2"/>
<circle cx="1554" cy="988.7" r="6.4" fill="#0099df" fill-opacity="0.2"/>
<circle cx="1562.3" cy="1001.1" r="6.4" fill="#0099df" fill-opacity="0.2"/>
<circle cx="1566.3" cy="985.8" r="6.4" fill="#0099df" fill-opacity="0.2"/>
<circle cx="1570.8" cy="1006.9" r="6.4" fill="#0099df" fill-opacity="0.2"/>
<circle cx="1579.9" cy="1013" r="6.4" fill="#0099df" fill-opacity="0.2"/>
<circle cx="1584.4" cy="1030.3" r="6.4" fill="#0099df" fill-opacity="0.2"/>
<circle cx="1587.5" cy="1014.5" r="6.4" fill="#0099df" fill-opacity="0.2"/>
<circle cx="1597.2" cy="995.1" r="6.4" fill="#0099df" fill-opacity="0.2"/>
<circle cx="1600.8" cy="1027" r="6.4" fill="#0099df" fill-opacity="0.2"/>
<circle cx="1608.8" cy="985.3" r="6.4" fill="#0099df" fill-opacity="0.2"/>
<circle cx="1618.3" cy="990.8" r="6.4" fill="#0099df" fill-opacity="0.2"/>
<circle cx="1622.6" cy="1028.3" r="6.4" fill="#0099df" fill-opacity="0.2"/>
<circle cx="1626.9" cy="1005.4" r="6.4" fill="#0099df" fill-opacity="0.2"/>
<circle cx="1635.3" cy="1007.4" r="6.4" fill="#0099df" fill-opacity="0.2"/>
<circle cx="1638.2" cy="1018.4" r="6.4" fill="#0099df" fill-opacity="0.2"/>
<circle cx="1642.6" cy="1041" r="6.4" fill="#0099df" fill-opacity="0.2"/>
<circle cx="1651.4" cy="1015.5" r="6.4" fill="#0099df" fill-opacity="0.2"/>
<circle cx="1660.8" cy="1006.9" r="6.4" fill="#0099df" fill-opacity="0.2"/>
<circle cx="1673" cy="1004.8" r="6.4" fill="#0099df" fill-opacity="0.2"/>
<circle cx="1685.4" cy="1037.6" r="6.4" fill="#0099df" fill-opacity="0.2"/>
<circle cx="1689.1" cy="1029.1" r="6.4" fill="#0099df" fill-opacity="0.2"/>
<circle cx="1697.8" cy="1030" r="6.4" fill="#0099df" fill-opacity="0.2"/>
<circle cx="1702.9" cy="1027" r="6.4" fill="#0099df" fill-opacity="0.2"/>
<circle cx="1706.8" cy="1020.4" r="6.4" fill="#0099df" fill-opacity="0.2"/>
<circle cx="1724.1" cy="1027.7" r="6.4" fill="#0099df" fill-opacity="0.2"/>
<circle cx="1727.5" cy="1027.6" r="6.4" fill="#0099df" fill-opacity="0.2"/>
<circle cx="1731.2" cy="1037.5" r="6.4" fill="#0099df" fill-opacity="0.2"/>
<circle cx="1735.6" cy="1041.5" r="6.4" fill="#0099df" fill-opacity="0.2"/>
<circle cx="1744.4" cy="1003.4" r="6.4" fill="#0099df" fill-opacity="0.2"/>
<circle cx="1748.8" cy="1045.1" r="6.4" fill="#0099df" fill-opacity="0.2"/>
<circle cx="1752.5" cy="1072.2" r="6.4" fill="#0099df" fill-opacity="0.2"/>
<circle cx="1757.1" cy="1033.2" r="6.4" fill="#0099df" fill-opacity="0.2"/>
<circle cx="1761.2" cy="1066.6" r="6.4" fill="#0099df" fill-opacity="0.2"/>
<circle cx="1765.4" cy="1059.8" r="6.4" fill="#0099df" fill-opacity="0.2"/>
<circle cx="1769.7" cy="1060.2" r="6.4" fill="#0099df" fill-opacity="0.2"/>
<circle cx="1774" cy="1060.6" r="6.4" fill="#0099df" fill-opacity="0.2"/>
<circle cx="1783.3" cy="1034" r="6.4" fill="#0099df" fill-opacity="0.2"/>
<circle cx="1787" cy="1025.3" r="6.4" fill="#0099df" fill-opacity="0.2"/>
<circle cx="1791.1" cy="1036.2" r="6.4" fill="#0099df" fill-opacity="0.2"/>
<circle cx="1795.2" cy="1043" r="6.4" fill="#0099df" fill-opacity="0.2"/>
<circle cx="1799.8" cy="1000.5" r="6.4" fill="#0099df" fill-opacity="0.2"/>
<circle cx="1803.6" cy="1042.1" r="6.4" fill="#0099df" fill-opacity="0.2"/>
<circle cx="1811.9" cy="1012.6" r="6.4" fill="#0099df" fill-opacity="0.2"/>
<circle cx="1815.8" cy="1047" r="6.4" fill="#0099df" fill-opacity="0.2"/>
<circle cx="1821.1" cy="1064.6" r="6.4" fill="#0099df" fill-opacity="0.2"/>
<circle cx="1825.7" cy="1070.6" r="6.4" fill="#0099df" fill-opacity="0.2"/>
<circle cx="1829.5" cy="1082.3" r="6.4" fill="#0099df" fill-opacity="0.2"/>
<circle cx="1833.6" cy="1053.8" r="6.4" fill="#0099df" fill-opacity="0.2"/>
<circle cx="1837.1" cy="1131.1" r="6.4" fill="#0099df" fill-opacity="0.2"/>
<circle cx="1846.3" cy="1104.7" r="6.4" fill="#0099df" fill-opacity="0.2"/>
<circle cx="1855.1" cy="1096.6" r="6.4" fill="#0099df" fill-opacity="0.2"/>
<circle cx="1858.9" cy="1025.5" r="6.4" fill="#0099df" fill-opacity="0.2"/>
<circle cx="1862.4" cy="1047.2" r="6.4" fill="#0099df" fill-opacity="0.2"/>
<circle cx="1871.2" cy="1032.4" r="6.4" fill="#0099df" fill-opacity="0.2"/>
<circle cx="1876.5" cy="1055.1" r="6.4" fill="#0099df" fill-opacity="0.2"/>
<circle cx="1879.8" cy="1018.2" r="6.4" fill="#0099df" fill-opacity="0.2"/>
<circle cx="1884.3" cy="1034.6" r="6.4" fill="#0099df" fill-opacity="0.2"/>
<circle cx="1888.7" cy="1048.1" r="6.4" fill="#0099df" fill-opacity="0.2"/>
<circle cx="1892" cy="1049.1" r="6.4" fill="#0099df" fill-opacity="0.2"/>
<circle cx="1896.5" cy="1048.5" r="6.4" fill="#0099df" fill-opacity="0.2"/>
<circle cx="1900.7" cy="1034" r="6.4" fill="#0099df" fill-opacity="0.2"/>
<circle cx="1905.4" cy="1025.2" r="6.4" fill="#0099df" fill-opacity="0.2"/>
<circle cx="1910.4" cy="1050.7" r="6.4" fill="#0099df" fill-opacity="0.2"/>
<circle cx="1918.3" cy="1039.8" r="6.4" fill="#0099df" fill-opacity="0.2"/>
<circle cx="1922.2" cy="1053" r="6.4" fill="#0099df" fill-opacity="0.2"/>
<circle cx="1931.1" cy="1061.1" r="6.4" fill="#0099df" fill-opacity="0.2"/>
<circle cx="1934.5" cy="1032.2" r="6.4" fill="#0099df" fill-opacity="0.2"/>
<circle cx="1939.7" cy="1032.7" r="6.4" fill="#0099df" fill-opacity="0.2"/>
<circle cx="1943.5" cy="1020.5" r="6.4" fill="#0099df" fill-opacity="0.2"/>
<circle cx="1956.5" cy="1029.6" r="6.4" fill="#0099df" fill-opacity="0.2"/>
<circle cx="1960.6" cy="1014.5" r="6.4" fill="#0099df" fill-opacity="0.2"/>
<circle cx="1964.8" cy="1012.9" r="6.4" fill="#0099df" fill-opacity="0.2"/>
<circle cx="1968.7" cy="997.5" r="6.4" fill="#0099df" fill-opacity="0.2"/>
<circle cx="1972.7" cy="1002.7" r="6.4" fill="#0099df" fill-opacity="0.2"/>
<circle cx="1977.9" cy="970.8" r="6.4" fill="#0099df" fill-opacity="0.2"/>
<circle cx="1981.4" cy="994.5" r="6.4" fill="#0099df" fill-opacity="0.2"/>
<circle cx="1985.1" cy="992.5" r="6.4" fill="#0099df" fill-opacity="0.2"/>
<circle cx="1989.8" cy="988.8" r="6.4" fill="#0099df" fill-opacity="0.2"/>
<circle cx="1994.2" cy="1001.5" r="6.4" fill="#0099df" fill-opacity="0.2"/>
<circle cx="1999.2" cy="1005.1" r="6.4" fill="#0099df" fill-opacity="0.2"/>
<circle cx="2002.6" cy="997.2" r="6.4" fill="#0099df" fill-opacity="0.2"/>
<circle cx="2006.6" cy="985.6" r="6.4" fill="#0099df" fill-opacity="0.2"/>
<circle cx="2010.4" cy="1003.5" r="6.4" fill="#0099df" fill-opacity="0.2"/>
<circle cx="2019" cy="1007" r="6.4" fill="#0099df" fill-opacity="0.2"/>
<circle cx="2023.2" cy="1022.4" r="6.4" fill="#0099df" fill-opacity="0.2"/>
<circle cx="2027.5" cy="1050.6" r="6.4" fill="#0099df" fill-opacity="0.2"/>
<circle cx="2035.8" cy="1023.9" r="6.4" fill="#0099df" fill-opacity="0.2"/>
<circle cx="2045.6" cy="1016.8" r="6.4" fill="#0099df" fill-opacity="0.2"/>
<circle cx="2049.4" cy="994.1" r="6.4" fill="#0099df" fill-opacity="0.2"/>
<circle cx="1147.6" cy="1050.5" r="6.4" fill="#fe4a37" fill-opacity="0.2"/>
<circle cx="1153" cy="1033.7" r="6.4" fill="#fe4a37" fill-opacity="0.2"/>
<circle cx="1157.3" cy="1039.1" r="6.4" fill="#fe4a37" fill-opacity="0.2"/>
<circle cx="1161" cy="1031.9" r="6.4" fill="#fe4a37" fill-opacity="0.2"/>
<circle cx="1165.6" cy="1051.1" r="6.4" fill="#fe4a37" fill-opacity="0.2"/>
<circle cx="1169.5" cy="1075.7" r="6.4" fill="#fe4a37" fill-opacity="0.2"/>
<circle cx="1177.5" cy="1057.2" r="6.4" fill="#fe4a37" fill-opacity="0.2"/>
<circle cx="1182" cy="1046" r="6.4" fill="#fe4a37" fill-opacity="0.2"/>
<circle cx="1185.8" cy="1043.2" r="6.4" fill="#fe4a37" fill-opacity="0.2"/>
<circle cx="1189.8" cy="1029.4" r="6.4" fill="#fe4a37" fill-opacity="0.2"/>
<circle cx="1194.7" cy="1035.8" r="6.4" fill="#fe4a37" fill-opacity="0.2"/>
<circle cx="1198.2" cy="1049.9" r="6.4" fill="#fe4a37" fill-opacity="0.2"/>
<circle cx="1203.5" cy="1035.7" r="6.4" fill="#fe4a37" fill-opacity="0.2"/>
<circle cx="1208.1" cy="1020.5" r="6.4" fill="#fe4a37" fill-opacity="0.2"/>
<circle cx="1211.3" cy="1022.1" r="6.4" fill="#fe4a37" fill-opacity="0.2"/>
<circle cx="1216.6" cy="1040.1" r="6.4" fill="#fe4a37" fill-opacity="0.2"/>
<circle cx="1224.8" cy="1020.9" r="6.4" fill="#fe4a37" fill-opacity="0.2"/>
<circle cx="1232.1" cy="1041.5" r="6.4" fill="#fe4a37" fill-opacity="0.2"/>
<circle cx="1237" cy="1004.5" r="6.4" fill="#fe4a37" fill-opacity="0.2"/>
<circle cx="1241.2" cy="1039.9" r="6.4" fill="#fe4a37" fill-opacity="0.2"/>
<circle cx="1245.9" cy="1036.7" r="6.4" fill="#fe4a37" fill-opacity="0.2"/>
<circle cx="1249.6" cy="1024" r="6.4" fill="#fe4a37" fill-opacity="0.2"/>
<circle cx="1262.7" cy="1006.7" r="6.4" fill="#fe4a37" fill-opacity="0.2"/>
<circle cx="1266.1" cy="1035.7" r="6.4" fill="#fe4a37" fill-opacity="0.2"/>
<circle cx="1271.4" cy="1029.1" r="6.4" fill="#fe4a37" fill-opacity="0.2"/>
<circle cx="1279.5" cy="1055.5" r="6.4" fill="#fe4a37" fill-opacity="0.2"/>
<circle cx="1282.9" cy="1050.8" r="6.4" fill="#fe4a37" fill-opacity="0.2"/>
<circle cx="1287.9" cy="1025" r="6.4" fill="#fe4a37" fill-opacity="0.2"/>
<circle cx="1295.6" cy="1069.9" r="6.4" fill="#fe4a37" fill-opacity="0.2"/>
<circle cx="1301" cy="1063.1" r="6.4" fill="#fe4a37" fill-opacity="0.2"/>
<circle cx="1305.3" cy="1067.1" r="6.4" fill="#fe4a37" fill-opacity="0.2"/>
<circle cx="1309.8" cy="1060.6" r="6.4" fill="#fe4a37" fill-opacity="0.2"/>
<circle cx="1312.9" cy="1030" r="6.4" fill="#fe4a37" fill-opacity="0.2"/>
<circle cx="1330.1" cy="1039.7" r="6.4" fill="#fe4a37" fill-opacity="0.2"/>
<circle cx="1346.8" cy="1042.4" r="6.4" fill="#fe4a37" fill-opacity="0.2"/>
<circle cx="1351.2" cy="1029.9" r="6.4" fill="#fe4a37" fill-opacity="0.2"/>
<circle cx="1360.5" cy="1038.5" r="6.4" fill="#fe4a37" fill-opacity="0.2"/>
<circle cx="1363.2" cy="1026.6" r="6.4" fill="#fe4a37" fill-opacity="0.2"/>
<circle cx="1367.5" cy="1077.2" r="6.4" fill="#fe4a37" fill-opacity="0.2"/>
<circle cx="1373.1" cy="1067.2" r="6.4" fill="#fe4a37" fill-opacity="0.2"/>
<circle cx="1381.5" cy="1026.7" r="6.4" fill="#fe4a37" fill-opacity="0.2"/>
<circle cx="1384.9" cy="1028.4" r="6.4" fill="#fe4a37" fill-opacity="0.2"/>
<circle cx="1393.7" cy="1014.4" r="6.4" fill="#fe4a37" fill-opacity="0.2"/>
<circle cx="1397.9" cy="991" r="6.4" fill="#fe4a37" fill-opacity="0.2"/>
<circle cx="1402.2" cy="1026.1" r="6.4" fill="#fe4a37" fill-opacity="0.2"/>
<circle cx="1406.7" cy="1010.6" r="6.4" fill="#fe4a37" fill-opacity="0.2"/>
<circle cx="1411.2" cy="1055.7" r="6.4" fill="#fe4a37" fill-opacity="0.2"/>
<circle cx="1415.1" cy="1023.2" r="6.4" fill="#fe4a37" fill-opacity="0.2"/>
<circle cx="1419.4" cy="1057.8" r="6.4" fill="#fe4a37" fill-opacity="0.2"/>
<circle cx="1435.7" cy="1051.5" r="6.4" fill="#fe4a37" fill-opacity="0.2"/>
<circle cx="1440.4" cy="1022.7" r="6.4" fill="#fe4a37" fill-opacity="0.2"/>
<circle cx="1445.1" cy="1047.4" r="6.4" fill="#fe4a37" fill-opacity="0.2"/>
<circle cx="1448" cy="1046.3" r="6.4" fill="#fe4a37" fill-opacity="0.2"/>
<circle cx="1456.5" cy="1030.3" r="6.4" fill="#fe4a37" fill-opacity="0.2"/>
<circle cx="1461" cy="1050.4" r="6.4" fill="#fe4a37" fill-opacity="0.2"/>
<circle cx="1464.8" cy="1015.9" r="6.4" fill="#fe4a37" fill-opacity="0.2"/>
<circle cx="1473.5" cy="1071.5" r="6.4" fill="#fe4a37" fill-opacity="0.2"/>
<circle cx="1477.4" cy="1046.1" r="6.4" fill="#fe4a37" fill-opacity="0.2"/>
<circle cx="1482.2" cy="1062.8" r="6.4" fill="#fe4a37" fill-opacity="0.2"/>
<circle cx="1486.9" cy="1088.3" r="6.4" fill="#fe4a37" fill-opacity="0.2"/>
<circle cx="1490.6" cy="1091.1" r="6.4" fill="#fe4a37" fill-opacity="0.2"/>
<circle cx="1494.6" cy="1075.9" r="6.4" fill="#fe4a37" fill-opacity="0.2"/>
<circle cx="1498.5" cy="1087.4" r="6.4" fill="#fe4a37" fill-opacity="0.2"/>
<circle cx="1503.5" cy="1074" r="6.4" fill="#fe4a37" fill-opacity="0.2"/>
<circle cx="1507.6" cy="1075.2" r="6.4" fill="#fe4a37" fill-opacity="0.2"/>
<circle cx="1511.9" cy="1072.4" r="6.4" fill="#fe4a37" fill-opacity="0.2"/>
<circle cx="1516.3" cy="1080.5" r="6.4" fill="#fe4a37" fill-opacity="0.2"/>
<circle cx="1524.3" cy="1061" r="6.4" fill="#fe4a37" fill-opacity="0.2"/>
<circle cx="1529.2" cy="1073.4" r="6.4" fill="#fe4a37" fill-opacity="0.2"/>
<circle cx="1533.9" cy="1060" r="6.4" fill="#fe4a37" fill-opacity="0.2"/>
<circle cx="1542.2" cy="1048.8" r="6.4" fill="#fe4a37" fill-opacity="0.2"/>
<circle cx="1546.6" cy="1049.9" r="6.4" fill="#fe4a37" fill-opacity="0.2"/>
<circle cx="1549.3" cy="1039.9" r="6.4" fill="#fe4a37" fill-opacity="0.2"/>
<circle cx="1554.6" cy="1062.1" r="6.4" fill="#fe4a37" fill-opacity="0.2"/>
<circle cx="1559.3" cy="1052.1" r="6.4" fill="#fe4a37" fill-opacity="0.2"/>
<circle cx="1562.9" cy="1061.9" r="6.4" fill="#fe4a37" fill-opacity="0.2"/>
<circle cx="1571.3" cy="1050.9" r="6.4" fill="#fe4a37" fill-opacity="0.2"/>
<circle cx="1576.2" cy="1083.8" r="6.4" fill="#fe4a37" fill-opacity="0.2"/>
<circle cx="1580.2" cy="1040.2" r="6.4" fill="#fe4a37" fill-opacity="0.2"/>
<circle cx="1587.8" cy="1058.3" r="6.4" fill="#fe4a37" fill-opacity="0.2"/>
<circle cx="1593.2" cy="1043.4" r="6.4" fill="#fe4a37" fill-opacity="0.2"/>
<circle cx="1600.8" cy="1057.7" r="6.4" fill="#fe4a37" fill-opacity="0.2"/>
<circle cx="1604.7" cy="1070.4" r="6.4" fill="#fe4a37" fill-opacity="0.2"/>
<circle cx="1609.2" cy="1022" r="6.4" fill="#fe4a37" fill-opacity="0.2"/>
<circle cx="1614" cy="1083.1" r="6.4" fill="#fe4a37" fill-opacity="0.2"/>
<circle cx="1617.7" cy="1059.6" r="6.4" fill="#fe4a37" fill-opacity="0.2"/>
<circle cx="1625.6" cy="1040.7" r="6.4" fill="#fe4a37" fill-opacity="0.2"/>
<circle cx="1629.9" cy="1039.2" r="6.4" fill="#fe4a37" fill-opacity="0.2"/>
<circle cx="1634.5" cy="1041.4" r="6.4" fill="#fe4a37" fill-opacity="0.2"/>
<circle cx="1639.2" cy="1025.2" r="6.4" fill="#fe4a37" fill-opacity="0.2"/>
<circle cx="1646.6" cy="1035.7" r="6.4" fill="#fe4a37" fill-opacity="0.2"/>
<circle cx="1650.9" cy="1016" r="6.4" fill="#fe4a37" fill-opacity="0.2"/>
<circle cx="1656" cy="1027.2" r="6.4" fill="#fe4a37" fill-opacity="0.2"/>
<circle cx="1659.8" cy="1032.6" r="6.4" fill="#fe4a37" fill-opacity="0.2"/>
<circle cx="1668.8" cy="1009.1" r="6.4" fill="#fe4a37" fill-opacity="0.2"/>
<circle cx="1673.1" cy="1035.4" r="6.4" fill="#fe4a37" fill-opacity="0.2"/>
<circle cx="1681.2" cy="1070.6" r="6.4" fill="#fe4a37" fill-opacity="0.2"/>
<circle cx="1689.8" cy="1033.3" r="6.4" fill="#fe4a37" fill-opacity="0.2"/>
<circle cx="1694.4" cy="1076.8" r="6.4" fill="#fe4a37" fill-opacity="0.2"/>
<circle cx="1697.8" cy="1077.8" r="6.4" fill="#fe4a37" fill-opacity="0.2"/>
<circle cx="1702.6" cy="1082.1" r="6.4" fill="#fe4a37" fill-opacity="0.2"/>
<circle cx="1706.5" cy="1076.9" r="6.4" fill="#fe4a37" fill-opacity="0.2"/>
<circle cx="1710.2" cy="1085.3" r="6.4" fill="#fe4a37" fill-opacity="0.2"/>
<circle cx="1715" cy="1045.4" r="6.4" fill="#fe4a37" fill-opacity="0.2"/>
<circle cx="1719.3" cy="1033" r="6.4" fill="#fe4a37" fill-opacity="0.2"/>
<circle cx="1723.6" cy="1072.1" r="6.4" fill="#fe4a37" fill-opacity="0.2"/>
<circle cx="1727.3" cy="1057.4" r="6.4" fill="#fe4a37" fill-opacity="0.2"/>
<circle cx="1736.4" cy="1043.8" r="6.4" fill="#fe4a37" fill-opacity="0.2"/>
<circle cx="1740.9" cy="1053" r="6.4" fill="#fe4a37" fill-opacity="0.2"/>
<circle cx="1744" cy="1066.8" r="6.4" fill="#fe4a37" fill-opacity="0.2"/>
<circle cx="1752.6" cy="1054.9" r="6.4" fill="#fe4a37" fill-opacity="0.2"/>
<circle cx="1761.4" cy="1086.2" r="6.4" fill="#fe4a37" fill-opacity="0.2"/>
<circle cx="1766.3" cy="1082.1" r="6.4" fill="#fe4a37" fill-opacity="0.2"/>
<circle cx="1777.9" cy="1055.5" r="6.4" fill="#fe4a37" fill-opacity="0.2"/>
<circle cx="1783.1" cy="1024.5" r="6.4" fill="#fe4a37" fill-opacity="0.2"/>
<circle cx="1790.6" cy="1085.2" r="6.4" fill="#fe4a37" fill-opacity="0.2"/>
<circle cx="1799.7" cy="1054.2" r="6.4" fill="#fe4a37" fill-opacity="0.2"/>
<circle cx="1804" cy="1045.7" r="6.4" fill="#fe4a37" fill-opacity="0.2"/>
<circle cx="1808.5" cy="1037.8" r="6.4" fill="#fe4a37" fill-opacity="0.2"/>
<circle cx="1812.7" cy="1049.1" r="6.4" fill="#fe4a37" fill-opacity="0.2"/>
<circle cx="1815.8" cy="1043.8" r="6.4" fill="#fe4a37" fill-opacity="0.2"/>
<circle cx="1820.5" cy="1069" r="6.4" fill="#fe4a37" fill-opacity="0.2"/>
<circle cx="1832.7" cy="1054.8" r="6.4" fill="#fe4a37" fill-opacity="0.2"/>
<circle cx="1837.4" cy="1036" r="6.4" fill="#fe4a37" fill-opacity="0.2"/>
<circle cx="1842.2" cy="1071" r="6.4" fill="#fe4a37" fill-opacity="0.2"/>
<circle cx="1854.3" cy="1039.8" r="6.4" fill="#fe4a37" fill-opacity="0.2"/>
<circle cx="1858.8" cy="1043.3" r="6.4" fill="#fe4a37" fill-opacity="0.2"/>
<circle cx="1862.9" cy="1053.9" r="6.4" fill="#fe4a37" fill-opacity="0.2"/>
<circle cx="1867.9" cy="1040.7" r="6.4" fill="#fe4a37" fill-opacity="0.2"/>
<circle cx="1871.2" cy="1045.9" r="6.4" fill="#fe4a37" fill-opacity="0.2"/>
<circle cx="1876.1" cy="1061" r="6.4" fill="#fe4a37" fill-opacity="0.2"/>
<circle cx="1883.7" cy="1025.6" r="6.4" fill="#fe4a37" fill-opacity="0.2"/>
<circle cx="1893.2" cy="1076.7" r="6.4" fill="#fe4a37" fill-opacity="0.2"/>
<circle cx="1897.2" cy="1106.2" r="6.4" fill="#fe4a37" fill-opacity="0.2"/>
<circle cx="1901.4" cy="1056.1" r="6.4" fill="#fe4a37" fill-opacity="0.2"/>
<circle cx="1904.7" cy="1094.3" r="6.4" fill="#fe4a37" fill-opacity="0.2"/>
<circle cx="1910.1" cy="1066" r="6.4" fill="#fe4a37" fill-opacity="0.2"/>
<circle cx="1914.4" cy="1072.8" r="6.4" fill="#fe4a37" fill-opacity="0.2"/>
<circle cx="1917.6" cy="1055.9" r="6.4" fill="#fe4a37" fill-opacity="0.2"/>
<circle cx="1921.7" cy="1042.7" r="6.4" fill="#fe4a37" fill-opacity="0.2"/>
<circle cx="1926.8" cy="1043.3" r="6.4" fill="#fe4a37" fill-opacity="0.2"/>
<circle cx="1930.2" cy="1029.5" r="6.4" fill="#fe4a37" fill-opacity="0.2"/>
<circle cx="1934.6" cy="1039.8" r="6.4" fill="#fe4a37" fill-opacity="0.2"/>
<circle cx="1939.7" cy="1030.1" r="6.4" fill="#fe4a37" fill-opacity="0.2"/>
<circle cx="1943.5" cy="1046.9" r="6.4" fill="#fe4a37" fill-opacity="0.2"/>
<circle cx="1951.4" cy="1050.8" r="6.4" fill="#fe4a37" fill-opacity="0.2"/>
<circle cx="1955.8" cy="1039.8" r="6.4" fill="#fe4a37" fill-opacity="0.2"/>
<circle cx="1960.7" cy="1034" r="6.4" fill="#fe4a37" fill-opacity="0.2"/>
<circle cx="1964" cy="1057.4" r="6.4" fill="#fe4a37" fill-opacity="0.2"/>
<circle cx="1968.1" cy="1037.1" r="6.4" fill="#fe4a37" fill-opacity="0.2"/>
<circle cx="1973" cy="1075" r="6.4" fill="#fe4a37" fill-opacity="0.2"/>
<circle cx="1977.8" cy="1057.4" r="6.4" fill="#fe4a37" fill-opacity="0.2"/>
<circle cx="1986" cy="1032.9" r="6.4" fill="#fe4a37" fill-opacity="0.2"/>
<circle cx="1990.4" cy="1012.7" r="6.4" fill="#fe4a37" fill-opacity="0.2"/>
<circle cx="1993.5" cy="1029" r="6.4" fill="#fe4a37" fill-opacity="0.2"/>
<circle cx="2010.9" cy="1055.6" r="6.4" fill="#fe4a37" fill-opacity="0.2"/>
<circle cx="2019.1" cy="1043.5" r="6.4" fill="#fe4a37" fill-opacity="0.2"/>
<circle cx="2023.1" cy="1048.9" r="6.4" fill="#fe4a37" fill-opacity="0.2"/>
<circle cx="2027.8" cy="1047.6" r="6.4" fill="#fe4a37" fill-opacity="0.2"/>
<circle cx="2032.6" cy="1046" r="6.4" fill="#fe4a37" fill-opacity="0.2"/>
<circle cx="2036.5" cy="1023.6" r="6.4" fill="#fe4a37" fill-opacity="0.2"/>
<circle cx="2041.3" cy="1044.7" r="6.4" fill="#fe4a37" fill-opacity="0.2"/>
<circle cx="2045.5" cy="1045.1" r="6.4" fill="#fe4a37" fill-opacity="0.2"/>
<circle cx="2048.6" cy="1039.4" r="6.4" fill="#fe4a37" fill-opacity="0.2"/>
<circle cx="1143.3" cy="1039.1" r="6.4" fill="#00a287" fill-opacity="0.2"/>
<circle cx="1152.3" cy="1012.9" r="6.4" fill="#00a287" fill-opacity="0.2"/>
<circle cx="1156.5" cy="1006.2" r="6.4" fill="#00a287" fill-opacity="0.2"/>
<circle cx="1161.3" cy="1017.1" r="6.4" fill="#00a287" fill-opacity="0.2"/>
<circle cx="1164.7" cy="1064.4" r="6.4" fill="#00a287" fill-opacity="0.2"/>
<circle cx="1169.9" cy="1045.3" r="6.4" fill="#00a287" fill-opacity="0.2"/>
<circle cx="1174" cy="1057.6" r="6.4" fill="#00a287" fill-opacity="0.2"/>
<circle cx="1178.5" cy="1047.8" r="6.4" fill="#00a287" fill-opacity="0.2"/>
<circle cx="1181.9" cy="1007.1" r="6.4" fill="#00a287" fill-opacity="0.2"/>
<circle cx="1185.8" cy="1028.2" r="6.4" fill="#00a287" fill-opacity="0.2"/>
<circle cx="1194.1" cy="1027.4" r="6.4" fill="#00a287" fill-opacity="0.2"/>
<circle cx="1203.8" cy="1049.6" r="6.4" fill="#00a287" fill-opacity="0.2"/>
<circle cx="1208.2" cy="1038.2" r="6.4" fill="#00a287" fill-opacity="0.2"/>
<circle cx="1216.6" cy="1050.5" r="6.4" fill="#00a287" fill-opacity="0.2"/>
<circle cx="1220.7" cy="1055.5" r="6.4" fill="#00a287" fill-opacity="0.2"/>
<circle cx="1225.1" cy="1044.2" r="6.4" fill="#00a287" fill-opacity="0.2"/>
<circle cx="1228.4" cy="1032.4" r="6.4" fill="#00a287" fill-opacity="0.2"/>
<circle cx="1236.8" cy="1006.6" r="6.4" fill="#00a287" fill-opacity="0.2"/>
<circle cx="1240.6" cy="1002.4" r="6.4" fill="#00a287" fill-opacity="0.2"/>
<circle cx="1245.1" cy="999.7" r="6.4" fill="#00a287" fill-opacity="0.2"/>
<circle cx="1254.7" cy="1009.5" r="6.4" fill="#00a287" fill-opacity="0.2"/>
<circle cx="1257.6" cy="1018.1" r="6.4" fill="#00a287" fill-opacity="0.2"/>
<circle cx="1263.1" cy="1029.6" r="6.4" fill="#00a287" fill-opacity="0.2"/>
<circle cx="1267.4" cy="1060.3" r="6.4" fill="#00a287" fill-opacity="0.2"/>
<circle cx="1271.4" cy="1043.2" r="6.4" fill="#00a287" fill-opacity="0.2"/>
<circle cx="1279.3" cy="1019.5" r="6.4" fill="#00a287" fill-opacity="0.2"/>
<circle cx="1288.1" cy="1052.8" r="6.4" fill="#00a287" fill-opacity="0.2"/>
<circle cx="1292" cy="1031.8" r="6.4" fill="#00a287" fill-opacity="0.2"/>
<circle cx="1296.5" cy="1045.9" r="6.4" fill="#00a287" fill-opacity="0.2"/>
<circle cx="1300.9" cy="1054.8" r="6.4" fill="#00a287" fill-opacity="0.2"/>
<circle cx="1304.4" cy="1047.8" r="6.4" fill="#00a287" fill-opacity="0.2"/>
<circle cx="1309.4" cy="1030.6" r="6.4" fill="#00a287" fill-opacity="0.2"/>
<circle cx="1313" cy="1054.9" r="6.4" fill="#00a287" fill-opacity="0.2"/>
<circle cx="1321.6" cy="1042.9" r="6.4" fill="#00a287" fill-opacity="0.2"/>
<circle cx="1326.6" cy="1039.7" r="6.4" fill="#00a287" fill-opacity="0.2"/>
<circle cx="1330.7" cy="1038.7" r="6.4" fill="#00a287" fill-opacity="0.2"/>
<circle cx="1334.2" cy="1048.6" r="6.4" fill="#00a287" fill-opacity="0.2"/>
<circle cx="1342.5" cy="1035.2" r="6.4" fill="#00a287" fill-opacity="0.2"/>
<circle cx="1347.1" cy="1043.8" r="6.4" fill="#00a287" fill-opacity="0.2"/>
<circle cx="1350.6" cy="1057.7" r="6.4" fill="#00a287" fill-opacity="0.2"/>
<circle cx="1355.6" cy="1043.7" r="6.4" fill="#00a287" fill-opacity="0.2"/>
<circle cx="1364.4" cy="1024" r="6.4" fill="#00a287" fill-opacity="0.2"/>
<circle cx="1367.6" cy="1019.4" r="6.4" fill="#00a287" fill-opacity="0.2"/>
<circle cx="1372.4" cy="1022.1" r="6.4" fill="#00a287" fill-opacity="0.2"/>
<circle cx="1377.1" cy="1024.2" r="6.4" fill="#00a287" fill-opacity="0.2"/>
<circle cx="1380.7" cy="1025.4" r="6.4" fill="#00a287" fill-opacity="0.2"/>
<circle cx="1385.2" cy="1036.1" r="6.4" fill="#00a287" fill-opacity="0.2"/>
<circle cx="1388.8" cy="1049.7" r="6.4" fill="#00a287" fill-opacity="0.2"/>
<circle cx="1393.4" cy="1005.4" r="6.4" fill="#00a287" fill-opacity="0.2"/>
<circle cx="1398.4" cy="1023.9" r="6.4" fill="#00a287" fill-opacity="0.2"/>
<circle cx="1402" cy="1012.7" r="6.4" fill="#00a287" fill-opacity="0.2"/>
<circle cx="1414.9" cy="1048.8" r="6.4" fill="#00a287" fill-opacity="0.2"/>
<circle cx="1418.2" cy="1023.8" r="6.4" fill="#00a287" fill-opacity="0.2"/>
<circle cx="1422.7" cy="1016.5" r="6.4" fill="#00a287" fill-opacity="0.2"/>
<circle cx="1427" cy="1009.6" r="6.4" fill="#00a287" fill-opacity="0.2"/>
<circle cx="1436.4" cy="1033.3" r="6.4" fill="#00a287" fill-opacity="0.2"/>
<circle cx="1440.3" cy="1025.8" r="6.4" fill="#00a287" fill-opacity="0.2"/>
<circle cx="1443.8" cy="1015.7" r="6.4" fill="#00a287" fill-opacity="0.2"/>
<circle cx="1448" cy="1021" r="6.4" fill="#00a287" fill-opacity="0.2"/>
<circle cx="1452.7" cy="1011.9" r="6.4" fill="#00a287" fill-opacity="0.2"/>
<circle cx="1456.6" cy="1017.5" r="6.4" fill="#00a287" fill-opacity="0.2"/>
<circle cx="1462" cy="1048.6" r="6.4" fill="#00a287" fill-opacity="0.2"/>
<circle cx="1465.1" cy="1030.9" r="6.4" fill="#00a287" fill-opacity="0.2"/>
<circle cx="1469.8" cy="1014.9" r="6.4" fill="#00a287" fill-opacity="0.2"/>
<circle cx="1486.6" cy="1047.5" r="6.4" fill="#00a287" fill-opacity="0.2"/>
<circle cx="1491.5" cy="1054.9" r="6.4" fill="#00a287" fill-opacity="0.2"/>
<circle cx="1495.1" cy="1035.2" r="6.4" fill="#00a287" fill-opacity="0.2"/>
<circle cx="1499.8" cy="1086.3" r="6.4" fill="#00a287" fill-opacity="0.2"/>
<circle cx="1503.5" cy="1053" r="6.4" fill="#00a287" fill-opacity="0.2"/>
<circle cx="1512.2" cy="1043.4" r="6.4" fill="#00a287" fill-opacity="0.2"/>
<circle cx="1519.7" cy="1003.8" r="6.4" fill="#00a287" fill-opacity="0.2"/>
<circle cx="1525.3" cy="997" r="6.4" fill="#00a287" fill-opacity="0.2"/>
<circle cx="1528.1" cy="1025.9" r="6.4" fill="#00a287" fill-opacity="0.2"/>
<circle cx="1532.4" cy="1016.8" r="6.4" fill="#00a287" fill-opacity="0.2"/>
<circle cx="1537.3" cy="1012.1" r="6.4" fill="#00a287" fill-opacity="0.2"/>
<circle cx="1545.9" cy="992.3" r="6.4" fill="#00a287" fill-opacity="0.2"/>
<circle cx="1550.1" cy="1014.5" r="6.4" fill="#00a287" fill-opacity="0.2"/>
<circle cx="1554.3" cy="1030.2" r="6.4" fill="#00a287" fill-opacity="0.2"/>
<circle cx="1558.9" cy="1039.4" r="6.4" fill="#00a287" fill-opacity="0.2"/>
<circle cx="1562" cy="1042.2" r="6.4" fill="#00a287" fill-opacity="0.2"/>
<circle cx="1570.9" cy="1076.5" r="6.4" fill="#00a287" fill-opacity="0.2"/>
<circle cx="1579.5" cy="1068.5" r="6.4" fill="#00a287" fill-opacity="0.2"/>
<circle cx="1583.7" cy="1074.2" r="6.4" fill="#00a287" fill-opacity="0.2"/>
<circle cx="1588.9" cy="1069.5" r="6.4" fill="#00a287" fill-opacity="0.2"/>
<circle cx="1591.7" cy="1086.9" r="6.4" fill="#00a287" fill-opacity="0.2"/>
<circle cx="1600.7" cy="1077.5" r="6.4" fill="#00a287" fill-opacity="0.2"/>
<circle cx="1613" cy="1068.5" r="6.4" fill="#00a287" fill-opacity="0.2"/>
<circle cx="1621.4" cy="1000.7" r="6.4" fill="#00a287" fill-opacity="0.2"/>
<circle cx="1626.6" cy="1031.1" r="6.4" fill="#00a287" fill-opacity="0.2"/>
<circle cx="1630.9" cy="1026.4" r="6.4" fill="#00a287" fill-opacity="0.2"/>
<circle cx="1634.2" cy="1028.7" r="6.4" fill="#00a287" fill-opacity="0.2"/>
<circle cx="1638.3" cy="1031" r="6.4" fill="#00a287" fill-opacity="0.2"/>
<circle cx="1643.7" cy="1022.3" r="6.4" fill="#00a287" fill-opacity="0.2"/>
<circle cx="1647.7" cy="1024" r="6.4" fill="#00a287" fill-opacity="0.2"/>
<circle cx="1651.3" cy="1019.8" r="6.4" fill="#00a287" fill-opacity="0.2"/>
<circle cx="1659.5" cy="1024.7" r="6.4" fill="#00a287" fill-opacity="0.2"/>
<circle cx="1663.7" cy="1031" r="6.4" fill="#00a287" fill-opacity="0.2"/>
<circle cx="1673.5" cy="1039" r="6.4" fill="#00a287" fill-opacity="0.2"/>
<circle cx="1676.9" cy="1056" r="6.4" fill="#00a287" fill-opacity="0.2"/>
<circle cx="1684.7" cy="1068.2" r="6.4" fill="#00a287" fill-opacity="0.2"/>
<circle cx="1690.3" cy="1033.2" r="6.4" fill="#00a287" fill-opacity="0.2"/>
<circle cx="1694.6" cy="1080" r="6.4" fill="#00a287" fill-opacity="0.2"/>
<circle cx="1701.6" cy="1038.7" r="6.4" fill="#00a287" fill-opacity="0.2"/>
<circle cx="1706.1" cy="1023.6" r="6.4" fill="#00a287" fill-opacity="0.2"/>
<circle cx="1710.2" cy="1048" r="6.4" fill="#00a287" fill-opacity="0.2"/>
<circle cx="1723.8" cy="1043.2" r="6.4" fill="#00a287" fill-opacity="0.2"/>
<circle cx="1727.3" cy="1063.1" r="6.4" fill="#00a287" fill-opacity="0.2"/>
<circle cx="1731.9" cy="1047.3" r="6.4" fill="#00a287" fill-opacity="0.2"/>
<circle cx="1736.6" cy="1033.8" r="6.4" fill="#00a287" fill-opacity="0.2"/>
<circle cx="1740.3" cy="1026.3" r="6.4" fill="#00a287" fill-opacity="0.2"/>
<circle cx="1745.4" cy="1062.7" r="6.4" fill="#00a287" fill-opacity="0.2"/>
<circle cx="1748.8" cy="1063.1" r="6.4" fill="#00a287" fill-opacity="0.2"/>
<circle cx="1753.3" cy="1085.5" r="6.4" fill="#00a287" fill-opacity="0.2"/>
<circle cx="1757.7" cy="1076" r="6.4" fill="#00a287" fill-opacity="0.2"/>
<circle cx="1761.6" cy="1097.7" r="6.4" fill="#00a287" fill-opacity="0.2"/>
<circle cx="1770.2" cy="1111.1" r="6.4" fill="#00a287" fill-opacity="0.2"/>
<circle cx="1775" cy="1068.1" r="6.4" fill="#00a287" fill-opacity="0.2"/>
<circle cx="1787.1" cy="1050.5" r="6.4" fill="#00a287" fill-opacity="0.2"/>
<circle cx="1790.7" cy="1034.3" r="6.4" fill="#00a287" fill-opacity="0.2"/>
<circle cx="1796" cy="1010.4" r="6.4" fill="#00a287" fill-opacity="0.2"/>
<circle cx="1799.2" cy="1009.6" r="6.4" fill="#00a287" fill-opacity="0.2"/>
<circle cx="1807.4" cy="1016.7" r="6.4" fill="#00a287" fill-opacity="0.2"/>
<circle cx="1811.8" cy="1045.3" r="6.4" fill="#00a287" fill-opacity="0.2"/>
<circle cx="1817.2" cy="1039.8" r="6.4" fill="#00a287" fill-opacity="0.2"/>
<circle cx="1820.6" cy="1029.1" r="6.4" fill="#00a287" fill-opacity="0.2"/>
<circle cx="1829.2" cy="1042.6" r="6.4" fill="#00a287" fill-opacity="0.2"/>
<circle cx="1834.2" cy="1079" r="6.4" fill="#00a287" fill-opacity="0.2"/>
<circle cx="1846.2" cy="1042.5" r="6.4" fill="#00a287" fill-opacity="0.2"/>
<circle cx="1859.5" cy="1052.9" r="6.4" fill="#00a287" fill-opacity="0.2"/>
<circle cx="1862.6" cy="1048.9" r="6.4" fill="#00a287" fill-opacity="0.2"/>
<circle cx="1867.9" cy="995.1" r="6.4" fill="#00a287" fill-opacity="0.2"/>
<circle cx="1871.5" cy="1031" r="6.4" fill="#00a287" fill-opacity="0.2"/>
<circle cx="1876" cy="1057.9" r="6.4" fill="#00a287" fill-opacity="0.2"/>
<circle cx="1880.5" cy="1024.1" r="6.4" fill="#00a287" fill-opacity="0.2"/>
<circle cx="1883.5" cy="1037.4" r="6.4" fill="#00a287" fill-opacity="0.2"/>
<circle cx="1888.5" cy="1044.3" r="6.4" fill="#00a287" fill-opacity="0.2"/>
<circle cx="1892" cy="1008.9" r="6.4" fill="#00a287" fill-opacity="0.2"/>
<circle cx="1901.1" cy="1026.3" r="6.4" fill="#00a287" fill-opacity="0.2"/>
<circle cx="1904.8" cy="1060.4" r="6.4" fill="#00a287" fill-opacity="0.2"/>
<circle cx="1918.9" cy="1046" r="6.4" fill="#00a287" fill-opacity="0.2"/>
<circle cx="1930" cy="1020.4" r="6.4" fill="#00a287" fill-opacity="0.2"/>
<circle cx="1935.2" cy="1008.1" r="6.4" fill="#00a287" fill-opacity="0.2"/>
<circle cx="1939.2" cy="1012.3" r="6.4" fill="#00a287" fill-opacity="0.2"/>
<circle cx="1942.7" cy="1000.7" r="6.4" fill="#00a287" fill-opacity="0.2"/>
<circle cx="1948" cy="997.2" r="6.4" fill="#00a287" fill-opacity="0.2"/>
<circle cx="1951.3" cy="1021.1" r="6.4" fill="#00a287" fill-opacity="0.2"/>
<circle cx="1961.2" cy="1022.6" r="6.4" fill="#00a287" fill-opacity="0.2"/>
<circle cx="1968.5" cy="1062.2" r="6.4" fill="#00a287" fill-opacity="0.2"/>
<circle cx="1978" cy="1025.3" r="6.4" fill="#00a287" fill-opacity="0.2"/>
<circle cx="1981.7" cy="1036.8" r="6.4" fill="#00a287" fill-opacity="0.2"/>
<circle cx="1986" cy="1031.8" r="6.4" fill="#00a287" fill-opacity="0.2"/>
<circle cx="1995" cy="1014.6" r="6.4" fill="#00a287" fill-opacity="0.2"/>
<circle cx="1998.7" cy="1032.6" r="6.4" fill="#00a287" fill-opacity="0.2"/>
<circle cx="2010.8" cy="1038.4" r="6.4" fill="#00a287" fill-opacity="0.2"/>
<circle cx="2015.3" cy="1029.3" r="6.4" fill="#00a287" fill-opacity="0.2"/>
<circle cx="2019.3" cy="1048.3" r="6.4" fill="#00a287" fill-opacity="0.2"/>
<circle cx="2033" cy="1070.3" r="6.4" fill="#00a287" fill-opacity="0.2"/>
<circle cx="2040.3" cy="1039.5" r="6.4" fill="#00a287" fill-opacity="0.2"/>
<circle cx="2044.7" cy="1040.3" r="6.4" fill="#00a287" fill-opacity="0.2"/>
<circle cx="1152.1" cy="1026.7" r="6.4" fill="#9f45b0" fill-opacity="0.2"/>
<circle cx="1156" cy="1001.4" r="6.4" fill="#9f45b0" fill-opacity="0.2"/>
<circle cx="1161.2" cy="1054" r="6.4" fill="#9f45b0" fill-opacity="0.2"/>
<circle cx="1165.5" cy="1043.5" r="6.4" fill="#9f45b0" fill-opacity="0.2"/>
<circle cx="1174.2" cy="1055.4" r="6.4" fill="#9f45b0" fill-opacity="0.2"/>
<circle cx="1178" cy="1059.8" r="6.4" fill="#9f45b0" fill-opacity="0.2"/>
<circle cx="1182.2" cy="1049.4" r="6.4" fill="#9f45b0" fill-opacity="0.2"/>
<circle cx="1185.9" cy="1039.1" r="6.4" fill="#9f45b0" fill-opacity="0.2"/>
<circle cx="1189.7" cy="1052.5" r="6.4" fill="#9f45b0" fill-opacity="0.2"/>
<circle cx="1194.5" cy="1060.8" r="6.4" fill="#9f45b0" fill-opacity="0.2"/>
<circle cx="1199.5" cy="1037.8" r="6.4" fill="#9f45b0" fill-opacity="0.2"/>
<circle cx="1207.2" cy="1025.1" r="6.4" fill="#9f45b0" fill-opacity="0.2"/>
<circle cx="1211.5" cy="1044.9" r="6.4" fill="#9f45b0" fill-opacity="0.2"/>
<circle cx="1215.5" cy="1031.8" r="6.4" fill="#9f45b0" fill-opacity="0.2"/>
<circle cx="1223.9" cy="1014.5" r="6.4" fill="#9f45b0" fill-opacity="0.2"/>
<circle cx="1228" cy="1014.5" r="6.4" fill="#9f45b0" fill-opacity="0.2"/>
<circle cx="1233" cy="1003.3" r="6.4" fill="#9f45b0" fill-opacity="0.2"/>
<circle cx="1236.4" cy="1008.9" r="6.4" fill="#9f45b0" fill-opacity="0.2"/>
<circle cx="1242" cy="980.6" r="6.4" fill="#9f45b0" fill-opacity="0.2"/>
<circle cx="1245.7" cy="1020.4" r="6.4" fill="#9f45b0" fill-opacity="0.2"/>
<circle cx="1254.4" cy="998.3" r="6.4" fill="#9f45b0" fill-opacity="0.2"/>
<circle cx="1257.5" cy="1035.6" r="6.4" fill="#9f45b0" fill-opacity="0.2"/>
<circle cx="1262.8" cy="991.8" r="6.4" fill="#9f45b0" fill-opacity="0.2"/>
<circle cx="1266.3" cy="1002.1" r="6.4" fill="#9f45b0" fill-opacity="0.2"/>
<circle cx="1275.6" cy="1027.9" r="6.4" fill="#9f45b0" fill-opacity="0.2"/>
<circle cx="1280.1" cy="1024.3" r="6.4" fill="#9f45b0" fill-opacity="0.2"/>
<circle cx="1288.1" cy="1007.3" r="6.4" fill="#9f45b0" fill-opacity="0.2"/>
<circle cx="1291.8" cy="1055.2" r="6.4" fill="#9f45b0" fill-opacity="0.2"/>
<circle cx="1299.8" cy="997.7" r="6.4" fill="#9f45b0" fill-opacity="0.2"/>
<circle cx="1305.2" cy="1036.9" r="6.4" fill="#9f45b0" fill-opacity="0.2"/>
<circle cx="1312.4" cy="999.9" r="6.4" fill="#9f45b0" fill-opacity="0.2"/>
<circle cx="1317.4" cy="998.6" r="6.4" fill="#9f45b0" fill-opacity="0.2"/>
<circle cx="1325.2" cy="965.8" r="6.4" fill="#9f45b0" fill-opacity="0.2"/>
<circle cx="1329.8" cy="1001.6" r="6.4" fill="#9f45b0" fill-opacity="0.2"/>
<circle cx="1333.8" cy="1010.7" r="6.4" fill="#9f45b0" fill-opacity="0.2"/>
<circle cx="1338" cy="1059.4" r="6.4" fill="#9f45b0" fill-opacity="0.2"/>
<circle cx="1342.2" cy="1038.8" r="6.4" fill="#9f45b0" fill-opacity="0.2"/>
<circle cx="1351.4" cy="1066.3" r="6.4" fill="#9f45b0" fill-opacity="0.2"/>
<circle cx="1356" cy="1026.9" r="6.4" fill="#9f45b0" fill-opacity="0.2"/>
<circle cx="1359.2" cy="1043.8" r="6.4" fill="#9f45b0" fill-opacity="0.2"/>
<circle cx="1364" cy="1036.3" r="6.4" fill="#9f45b0" fill-opacity="0.2"/>
<circle cx="1372.3" cy="1041.5" r="6.4" fill="#9f45b0" fill-opacity="0.2"/>
<circle cx="1380.4" cy="1047.5" r="6.4" fill="#9f45b0" fill-opacity="0.2"/>
<circle cx="1385.4" cy="1067.1" r="6.4" fill="#9f45b0" fill-opacity="0.2"/>
<circle cx="1393.9" cy="1051.7" r="6.4" fill="#9f45b0" fill-opacity="0.2"/>
<circle cx="1397.5" cy="1035.8" r="6.4" fill="#9f45b0" fill-opacity="0.2"/>
<circle cx="1401.6" cy="1040" r="6.4" fill="#9f45b0" fill-opacity="0.2"/>
<circle cx="1407" cy="1031.8" r="6.4" fill="#9f45b0" fill-opacity="0.2"/>
<circle cx="1410.5" cy="1037.2" r="6.4" fill="#9f45b0" fill-opacity="0.2"/>
<circle cx="1415" cy="1050.3" r="6.4" fill="#9f45b0" fill-opacity="0.2"/>
<circle cx="1418.9" cy="1017.3" r="6.4" fill="#9f45b0" fill-opacity="0.2"/>
<circle cx="1423.5" cy="1033.7" r="6.4" fill="#9f45b0" fill-opacity="0.2"/>
<circle cx="1431.3" cy="1062.6" r="6.4" fill="#9f45b0" fill-opacity="0.2"/>
<circle cx="1435.8" cy="1039.8" r="6.4" fill="#9f45b0" fill-opacity="0.2"/>
<circle cx="1443.6" cy="1007.7" r="6.4" fill="#9f45b0" fill-opacity="0.2"/>
<circle cx="1449" cy="1011.9" r="6.4" fill="#9f45b0" fill-opacity="0.2"/>
<circle cx="1453.4" cy="1007.9" r="6.4" fill="#9f45b0" fill-opacity="0.2"/>
<circle cx="1456.2" cy="1029" r="6.4" fill="#9f45b0" fill-opacity="0.2"/>
<circle cx="1461.5" cy="1024.9" r="6.4" fill="#9f45b0" fill-opacity="0.2"/>
<circle cx="1465.7" cy="1019.6" r="6.4" fill="#9f45b0" fill-opacity="0.2"/>
<circle cx="1469.1" cy="1047.7" r="6.4" fill="#9f45b0" fill-opacity="0.2"/>
<circle cx="1473.2" cy="1010.7" r="6.4" fill="#9f45b0" fill-opacity="0.2"/>
<circle cx="1477.6" cy="1023.3" r="6.4" fill="#9f45b0" fill-opacity="0.2"/>
<circle cx="1482" cy="1009.4" r="6.4" fill="#9f45b0" fill-opacity="0.2"/>
<circle cx="1487.4" cy="1015.1" r="6.4" fill="#9f45b0" fill-opacity="0.2"/>
<circle cx="1491.1" cy="1022.7" r="6.4" fill="#9f45b0" fill-opacity="0.2"/>
<circle cx="1494.3" cy="998.9" r="6.4" fill="#9f45b0" fill-opacity="0.2"/>
<circle cx="1503" cy="1012" r="6.4" fill="#9f45b0" fill-opacity="0.2"/>
<circle cx="1507.7" cy="1015.4" r="6.4" fill="#9f45b0" fill-opacity="0.2"/>
<circle cx="1512" cy="1017" r="6.4" fill="#9f45b0" fill-opacity="0.2"/>
<circle cx="1516.2" cy="1031.7" r="6.4" fill="#9f45b0" fill-opacity="0.2"/>
<circle cx="1520" cy="1021.8" r="6.4" fill="#9f45b0" fill-opacity="0.2"/>
<circle cx="1525.3" cy="1011.4" r="6.4" fill="#9f45b0" fill-opacity="0.2"/>
<circle cx="1533.1" cy="1008.4" r="6.4" fill="#9f45b0" fill-opacity="0.2"/>
<circle cx="1537.7" cy="1004.6" r="6.4" fill="#9f45b0" fill-opacity="0.2"/>
<circle cx="1541.8" cy="1004.9" r="6.4" fill="#9f45b0" fill-opacity="0.2"/>
<circle cx="1545.7" cy="1022.7" r="6.4" fill="#9f45b0" fill-opacity="0.2"/>
<circle cx="1550.2" cy="1025.9" r="6.4" fill="#9f45b0" fill-opacity="0.2"/>
<circle cx="1558.6" cy="1029.9" r="6.4" fill="#9f45b0" fill-opacity="0.2"/>
<circle cx="1567.5" cy="1039.4" r="6.4" fill="#9f45b0" fill-opacity="0.2"/>
<circle cx="1571.7" cy="1062.6" r="6.4" fill="#9f45b0" fill-opacity="0.2"/>
<circle cx="1579" cy="1023" r="6.4" fill="#9f45b0" fill-opacity="0.2"/>
<circle cx="1583.7" cy="999" r="6.4" fill="#9f45b0" fill-opacity="0.2"/>
<circle cx="1596.8" cy="1002.7" r="6.4" fill="#9f45b0" fill-opacity="0.2"/>
<circle cx="1600.5" cy="974" r="6.4" fill="#9f45b0" fill-opacity="0.2"/>
<circle cx="1605.1" cy="985.7" r="6.4" fill="#9f45b0" fill-opacity="0.2"/>
<circle cx="1613.6" cy="976.4" r="6.4" fill="#9f45b0" fill-opacity="0.2"/>
<circle cx="1618.3" cy="963.4" r="6.4" fill="#9f45b0" fill-opacity="0.2"/>
<circle cx="1622.3" cy="1008.6" r="6.4" fill="#9f45b0" fill-opacity="0.2"/>
<circle cx="1625.7" cy="984.1" r="6.4" fill="#9f45b0" fill-opacity="0.2"/>
<circle cx="1630.4" cy="992" r="6.4" fill="#9f45b0" fill-opacity="0.2"/>
<circle cx="1635.3" cy="993.9" r="6.4" fill="#9f45b0" fill-opacity="0.2"/>
<circle cx="1639" cy="996.3" r="6.4" fill="#9f45b0" fill-opacity="0.2"/>
<circle cx="1643.7" cy="991.2" r="6.4" fill="#9f45b0" fill-opacity="0.2"/>
<circle cx="1647.3" cy="996" r="6.4" fill="#9f45b0" fill-opacity="0.2"/>
<circle cx="1655.3" cy="1013.1" r="6.4" fill="#9f45b0" fill-opacity="0.2"/>
<circle cx="1663.6" cy="1012.3" r="6.4" fill="#9f45b0" fill-opacity="0.2"/>
<circle cx="1667.8" cy="975.7" r="6.4" fill="#9f45b0" fill-opacity="0.2"/>
<circle cx="1680.7" cy="1012.4" r="6.4" fill="#9f45b0" fill-opacity="0.2"/>
<circle cx="1685.1" cy="1000.9" r="6.4" fill="#9f45b0" fill-opacity="0.2"/>
<circle cx="1689.2" cy="1016.8" r="6.4" fill="#9f45b0" fill-opacity="0.2"/>
<circle cx="1694.1" cy="1048.5" r="6.4" fill="#9f45b0" fill-opacity="0.2"/>
<circle cx="1698.3" cy="1053.5" r="6.4" fill="#9f45b0" fill-opacity="0.2"/>
<circle cx="1701.8" cy="1040.1" r="6.4" fill="#9f45b0" fill-opacity="0.2"/>
<circle cx="1707.1" cy="1033.6" r="6.4" fill="#9f45b0" fill-opacity="0.2"/>
<circle cx="1710.5" cy="1006.5" r="6.4" fill="#9f45b0" fill-opacity="0.2"/>
<circle cx="1715.5" cy="1058.2" r="6.4" fill="#9f45b0" fill-opacity="0.2"/>
<circle cx="1719.5" cy="1024.8" r="6.4" fill="#9f45b0" fill-opacity="0.2"/>
<circle cx="1723.5" cy="1038.4" r="6.4" fill="#9f45b0" fill-opacity="0.2"/>
<circle cx="1731.7" cy="1022.2" r="6.4" fill="#9f45b0" fill-opacity="0.2"/>
<circle cx="1741.1" cy="1008.3" r="6.4" fill="#9f45b0" fill-opacity="0.2"/>
<circle cx="1749.1" cy="1064.4" r="6.4" fill="#9f45b0" fill-opacity="0.2"/>
<circle cx="1753.5" cy="1031" r="6.4" fill="#9f45b0" fill-opacity="0.2"/>
<circle cx="1757.8" cy="1065.9" r="6.4" fill="#9f45b0" fill-opacity="0.2"/>
<circle cx="1762.2" cy="1088.2" r="6.4" fill="#9f45b0" fill-opacity="0.2"/>
<circle cx="1765.1" cy="1064.9" r="6.4" fill="#9f45b0" fill-opacity="0.2"/>
<circle cx="1769.7" cy="1077.3" r="6.4" fill="#9f45b0" fill-opacity="0.2"/>
<circle cx="1773.8" cy="1058.1" r="6.4" fill="#9f45b0" fill-opacity="0.2"/>
<circle cx="1778.6" cy="1095.6" r="6.4" fill="#9f45b0" fill-opacity="0.2"/>
<circle cx="1787.7" cy="1038.4" r="6.4" fill="#9f45b0" fill-opacity="0.2"/>
<circle cx="1791.6" cy="1070.3" r="6.4" fill="#9f45b0" fill-opacity="0.2"/>
<circle cx="1795.6" cy="1057" r="6.4" fill="#9f45b0" fill-opacity="0.2"/>
<circle cx="1804.7" cy="1045.3" r="6.4" fill="#9f45b0" fill-opacity="0.2"/>
<circle cx="1812.2" cy="1028.8" r="6.4" fill="#9f45b0" fill-opacity="0.2"/>
<circle cx="1816.6" cy="1026.7" r="6.4" fill="#9f45b0" fill-opacity="0.2"/>
<circle cx="1825.6" cy="1010.5" r="6.4" fill="#9f45b0" fill-opacity="0.2"/>
<circle cx="1828.5" cy="1054.9" r="6.4" fill="#9f45b0" fill-opacity="0.2"/>
<circle cx="1834.2" cy="1036.1" r="6.4" fill="#9f45b0" fill-opacity="0.2"/>
<circle cx="1838.2" cy="1038.2" r="6.4" fill="#9f45b0" fill-opacity="0.2"/>
<circle cx="1842.3" cy="1054.3" r="6.4" fill="#9f45b0" fill-opacity="0.2"/>
<circle cx="1850" cy="1025.8" r="6.4" fill="#9f45b0" fill-opacity="0.2"/>
<circle cx="1858.2" cy="1025.4" r="6.4" fill="#9f45b0" fill-opacity="0.2"/>
<circle cx="1863.6" cy="1015.4" r="6.4" fill="#9f45b0" fill-opacity="0.2"/>
<circle cx="1868" cy="1005.9" r="6.4" fill="#9f45b0" fill-opacity="0.2"/>
<circle cx="1870.9" cy="1017.4" r="6.4" fill="#9f45b0" fill-opacity="0.2"/>
<circle cx="1880.7" cy="1022.4" r="6.4" fill="#9f45b0" fill-opacity="0.2"/>
<circle cx="1883.8" cy="1006.6" r="6.4" fill="#9f45b0" fill-opacity="0.2"/>
<circle cx="1889.1" cy="1015.9" r="6.4" fill="#9f45b0" fill-opacity="0.2"/>
<circle cx="1897.3" cy="1012.9" r="6.4" fill="#9f45b0" fill-opacity="0.2"/>
<circle cx="1905.5" cy="1020.2" r="6.4" fill="#9f45b0" fill-opacity="0.2"/>
<circle cx="1909.9" cy="1059.8" r="6.4" fill="#9f45b0" fill-opacity="0.2"/>
<circle cx="1926.6" cy="1051.6" r="6.4" fill="#9f45b0" fill-opacity="0.2"/>
<circle cx="1943.5" cy="1018.9" r="6.4" fill="#9f45b0" fill-opacity="0.2"/>
<circle cx="1947.3" cy="1043.5" r="6.4" fill="#9f45b0" fill-opacity="0.2"/>
<circle cx="1951.3" cy="1031.1" r="6.4" fill="#9f45b0" fill-opacity="0.2"/>
<circle cx="1955.9" cy="1046.7" r="6.4" fill="#9f45b0" fill-opacity="0.2"/>
<circle cx="1964.9" cy="1011.2" r="6.4" fill="#9f45b0" fill-opacity="0.2"/>
<circle cx="1968.5" cy="1013.5" r="6.4" fill="#9f45b0" fill-opacity="0.2"/>
<circle cx="1972.9" cy="1020.4" r="6.4" fill="#9f45b0" fill-opacity="0.2"/>
<circle cx="1976.6" cy="991.4" r="6.4" fill="#9f45b0" fill-opacity="0.2"/>
<circle cx="1994.8" cy="1042.9" r="6.4" fill="#9f45b0" fill-opacity="0.2"/>
<circle cx="1998.3" cy="985.8" r="6.4" fill="#9f45b0" fill-opacity="0.2"/>
<circle cx="2003.2" cy="1011.4" r="6.4" fill="#9f45b0" fill-opacity="0.2"/>
<circle cx="2007.7" cy="1021.5" r="6.4" fill="#9f45b0" fill-opacity="0.2"/>
<circle cx="2010.4" cy="1021.9" r="6.4" fill="#9f45b0" fill-opacity="0.2"/>
<circle cx="2014.9" cy="1022.1" r="6.4" fill="#9f45b0" fill-opacity="0.2"/>
<circle cx="2023.5" cy="1000.7" r="6.4" fill="#9f45b0" fill-opacity="0.2"/>
<circle cx="2027.4" cy="1009.9" r="6.4" fill="#9f45b0" fill-opacity="0.2"/>
<circle cx="2032.3" cy="1022.8" r="6.4" fill="#9f45b0" fill-opacity="0.2"/>
<circle cx="2041" cy="1019.7" r="6.4" fill="#9f45b0" fill-opacity="0.2"/>
<circle cx="2044.6" cy="1010.6" r="6.4" fill="#9f45b0" fill-opacity="0.2"/>
<circle cx="2048.9" cy="1034.2" r="6.4" fill="#9f45b0" fill-opacity="0.2"/>
<circle cx="1151" cy="949.7" r="6.4" fill="#0099df" fill-opacity="0.2"/>
<circle cx="1155.8" cy="964.7" r="6.4" fill="#0099df" fill-opacity="0.2"/>
<circle cx="1198.3" cy="969.4" r="6.4" fill="#0099df" fill-opacity="0.2"/>
<circle cx="1181" cy="982.8" r="6.4" fill="#0099df" fill-opacity="0.2"/>
<circle cx="1291.3" cy="989.1" r="6.4" fill="#0099df" fill-opacity="0.2"/>
<circle cx="1307.8" cy="994.6" r="6.4" fill="#0099df" fill-opacity="0.2"/>
<circle cx="1345.6" cy="989.9" r="6.4" fill="#0099df" fill-opacity="0.2"/>
<circle cx="1341.7" cy="945.8" r="6.4" fill="#0099df" fill-opacity="0.2"/>
<circle cx="1248.7" cy="1068.7" r="6.4" fill="#0099df" fill-opacity="0.2"/>
<circle cx="1193.6" cy="1058.4" r="6.4" fill="#0099df" fill-opacity="0.2"/>
<circle cx="1261.3" cy="1108.9" r="6.4" fill="#0099df" fill-opacity="0.2"/>
<circle cx="1295.2" cy="1082.1" r="6.4" fill="#0099df" fill-opacity="0.2"/>
<circle cx="1354.3" cy="1092.3" r="6.4" fill="#0099df" fill-opacity="0.2"/>
<circle cx="1155.8" cy="985.2" r="6.4" fill="#9f45b0" fill-opacity="0.2"/>
<circle cx="1235.3" cy="951.3" r="6.4" fill="#9f45b0" fill-opacity="0.2"/>
<circle cx="1240.1" cy="978.9" r="6.4" fill="#9f45b0" fill-opacity="0.2"/>
<circle cx="1333" cy="963.9" r="6.4" fill="#9f45b0" fill-opacity="0.2"/>
<circle cx="1311" cy="977.3" r="6.4" fill="#9f45b0" fill-opacity="0.2"/>
<circle cx="1316.5" cy="971" r="6.4" fill="#9f45b0" fill-opacity="0.2"/>
<circle cx="1274" cy="985.9" r="6.4" fill="#9f45b0" fill-opacity="0.2"/>
<circle cx="1328.3" cy="984.4" r="6.4" fill="#9f45b0" fill-opacity="0.2"/>
<circle cx="1189.6" cy="1111.2" r="6.4" fill="#9f45b0" fill-opacity="0.2"/>
<circle cx="1358.3" cy="1078.9" r="6.4" fill="#9f45b0" fill-opacity="0.2"/>
<circle cx="1366.9" cy="1078.9" r="6.4" fill="#9f45b0" fill-opacity="0.2"/>
<circle cx="1281.8" cy="1060.8" r="6.4" fill="#9f45b0" fill-opacity="0.2"/>
<circle cx="1173.1" cy="1066.3" r="6.4" fill="#9f45b0" fill-opacity="0.2"/>
<circle cx="1265.3" cy="968.6" r="6.4" fill="#00a287" fill-opacity="0.2"/>
<circle cx="1198.3" cy="1002.5" r="6.4" fill="#00a287" fill-opacity="0.2"/>
<circle cx="1378" cy="980.4" r="6.4" fill="#00a287" fill-opacity="0.2"/>
<circle cx="1189.6" cy="1075.8" r="6.4" fill="#00a287" fill-opacity="0.2"/>
<circle cx="1274" cy="1072.6" r="6.4" fill="#00a287" fill-opacity="0.2"/>
<circle cx="1215.6" cy="1056.1" r="6.4" fill="#00a287" fill-opacity="0.2"/>
<circle cx="1307.8" cy="1063.2" r="6.4" fill="#00a287" fill-opacity="0.2"/>
<circle cx="1343.3" cy="954.4" r="6.4" fill="#fe4a37" fill-opacity="0.2"/>
<circle cx="1151.8" cy="1078.1" r="6.4" fill="#fe4a37" fill-opacity="0.2"/>
<circle cx="1193.6" cy="1086" r="6.4" fill="#fe4a37" fill-opacity="0.2"/>
<circle cx="1164.4" cy="1106.5" r="6.4" fill="#fe4a37" fill-opacity="0.2"/>
<circle cx="1218.8" cy="1096.2" r="6.4" fill="#fe4a37" fill-opacity="0.2"/>
<circle cx="1235.3" cy="1087.6" r="6.4" fill="#fe4a37" fill-opacity="0.2"/>
<circle cx="1291.3" cy="1080.5" r="6.4" fill="#fe4a37" fill-opacity="0.2"/>
<circle cx="1316.5" cy="1106.5" r="6.4" fill="#fe4a37" fill-opacity="0.2"/>
<circle cx="1333" cy="1074.2" r="6.4" fill="#fe4a37" fill-opacity="0.2"/>
<circle cx="1363.8" cy="1095.5" r="6.4" fill="#fe4a37" fill-opacity="0.2"/>
<circle cx="1366.9" cy="1101.8" r="6.4" fill="#fe4a37" fill-opacity="0.2"/>
<circle cx="1189.6" cy="1123.8" r="6.4" fill="#fe4a37" fill-opacity="0.2"/>
<circle cx="1379.7" cy="979.6" r="6.4" fill="#00a287" fill-opacity="0.2"/>
<circle cx="1544.4" cy="948.9" r="6.4" fill="#00a287" fill-opacity="0.2"/>
<circle cx="1514.5" cy="982" r="6.4" fill="#00a287" fill-opacity="0.2"/>
<circle cx="1416.8" cy="981.2" r="6.4" fill="#00a287" fill-opacity="0.2"/>
<circle cx="1472.7" cy="1008" r="6.4" fill="#00a287" fill-opacity="0.2"/>
<circle cx="1603.5" cy="1108.1" r="6.4" fill="#00a287" fill-opacity="0.2"/>
<circle cx="1570.4" cy="1113.6" r="6.4" fill="#00a287" fill-opacity="0.2"/>
<circle cx="1497.9" cy="1090.7" r="6.4" fill="#00a287" fill-opacity="0.2"/>
<circle cx="1477.4" cy="1082.1" r="6.4" fill="#00a287" fill-opacity="0.2"/>
<circle cx="1464" cy="958.4" r="6.4" fill="#0099df" fill-opacity="0.2"/>
<circle cx="1565.7" cy="948.1" r="6.4" fill="#0099df" fill-opacity="0.2"/>
<circle cx="1404.2" cy="977.3" r="6.4" fill="#0099df" fill-opacity="0.2"/>
<circle cx="1434.1" cy="976.5" r="6.4" fill="#0099df" fill-opacity="0.2"/>
<circle cx="1446.7" cy="971.8" r="6.4" fill="#0099df" fill-opacity="0.2"/>
<circle cx="1535.7" cy="973.3" r="6.4" fill="#0099df" fill-opacity="0.2"/>
<circle cx="1497.9" cy="997" r="6.4" fill="#0099df" fill-opacity="0.2"/>
<circle cx="1460.9" cy="991.5" r="6.4" fill="#0099df" fill-opacity="0.2"/>
<circle cx="1576.7" cy="1000.9" r="6.4" fill="#0099df" fill-opacity="0.2"/>
<circle cx="1471.1" cy="1064" r="6.4" fill="#0099df" fill-opacity="0.2"/>
<circle cx="1548.3" cy="1071.8" r="6.4" fill="#0099df" fill-opacity="0.2"/>
<circle cx="1408.9" cy="967" r="6.4" fill="#9f45b0" fill-opacity="0.2"/>
<circle cx="1497.9" cy="962.3" r="6.4" fill="#9f45b0" fill-opacity="0.2"/>
<circle cx="1548.3" cy="964.7" r="6.4" fill="#9f45b0" fill-opacity="0.2"/>
<circle cx="1590.9" cy="958.4" r="6.4" fill="#9f45b0" fill-opacity="0.2"/>
<circle cx="1608.2" cy="945.8" r="6.4" fill="#9f45b0" fill-opacity="0.2"/>
<circle cx="1485.3" cy="983.6" r="6.4" fill="#9f45b0" fill-opacity="0.2"/>
<circle cx="1501.9" cy="983.6" r="6.4" fill="#9f45b0" fill-opacity="0.2"/>
<circle cx="1527.1" cy="987.5" r="6.4" fill="#9f45b0" fill-opacity="0.2"/>
<circle cx="1600.3" cy="977.3" r="6.4" fill="#9f45b0" fill-opacity="0.2"/>
<circle cx="1400.2" cy="1073.4" r="6.4" fill="#9f45b0" fill-opacity="0.2"/>
<circle cx="1464" cy="1079.7" r="6.4" fill="#9f45b0" fill-opacity="0.2"/>
<circle cx="1574.3" cy="1083.6" r="6.4" fill="#9f45b0" fill-opacity="0.2"/>
<circle cx="1561" cy="1095.5" r="6.4" fill="#9f45b0" fill-opacity="0.2"/>
<circle cx="1383.7" cy="1117.5" r="6.4" fill="#9f45b0" fill-opacity="0.2"/>
<circle cx="1425.4" cy="1064.7" r="6.4" fill="#9f45b0" fill-opacity="0.2"/>
<circle cx="1391.5" cy="992.2" r="6.4" fill="#fe4a37" fill-opacity="0.2"/>
<circle cx="1405" cy="1086" r="6.4" fill="#fe4a37" fill-opacity="0.2"/>
<circle cx="1426.2" cy="1097.8" r="6.4" fill="#fe4a37" fill-opacity="0.2"/>
<circle cx="1460.1" cy="1071.8" r="6.4" fill="#fe4a37" fill-opacity="0.2"/>
<circle cx="1481.4" cy="1090.7" r="6.4" fill="#fe4a37" fill-opacity="0.2"/>
<circle cx="1494" cy="1128.6" r="6.4" fill="#fe4a37" fill-opacity="0.2"/>
<circle cx="1502.6" cy="1134.1" r="6.4" fill="#fe4a37" fill-opacity="0.2"/>
<circle cx="1523.1" cy="1084.4" r="6.4" fill="#fe4a37" fill-opacity="0.2"/>
<circle cx="1540.5" cy="1090.7" r="6.4" fill="#fe4a37" fill-opacity="0.2"/>
<circle cx="1557.8" cy="1090" r="6.4" fill="#fe4a37" fill-opacity="0.2"/>
<circle cx="1570.4" cy="1106.5" r="6.4" fill="#fe4a37" fill-opacity="0.2"/>
<circle cx="1590.9" cy="1121.5" r="6.4" fill="#fe4a37" fill-opacity="0.2"/>
<circle cx="1595.6" cy="1093.1" r="6.4" fill="#fe4a37" fill-opacity="0.2"/>
<circle cx="1604.3" cy="1088.4" r="6.4" fill="#fe4a37" fill-opacity="0.2"/>
<circle cx="1598.8" cy="1050.6" r="6.4" fill="#fe4a37" fill-opacity="0.2"/>
<circle cx="1606.6" cy="1023" r="6.4" fill="#fe4a37" fill-opacity="0.2"/>
<circle cx="1806.2" cy="950.5" r="6.4" fill="#00a287" fill-opacity="0.2"/>
<circle cx="1743.2" cy="978.9" r="6.4" fill="#00a287" fill-opacity="0.2"/>
<circle cx="1713.2" cy="1013.5" r="6.4" fill="#00a287" fill-opacity="0.2"/>
<circle cx="1616.3" cy="1087.6" r="6.4" fill="#00a287" fill-opacity="0.2"/>
<circle cx="1695.9" cy="1108.1" r="6.4" fill="#00a287" fill-opacity="0.2"/>
<circle cx="1747.1" cy="1101.8" r="6.4" fill="#00a287" fill-opacity="0.2"/>
<circle cx="1764.4" cy="1142" r="6.4" fill="#00a287" fill-opacity="0.2"/>
<circle cx="1755.8" cy="1019.8" r="6.4" fill="#00a287" fill-opacity="0.2"/>
<circle cx="1789.6" cy="1078.1" r="6.4" fill="#00a287" fill-opacity="0.2"/>
<circle cx="1768.4" cy="975.7" r="6.4" fill="#0099df" fill-opacity="0.2"/>
<circle cx="1700.6" cy="991.5" r="6.4" fill="#0099df" fill-opacity="0.2"/>
<circle cx="1726.6" cy="1002.5" r="6.4" fill="#0099df" fill-opacity="0.2"/>
<circle cx="1743.2" cy="1004.1" r="6.4" fill="#0099df" fill-opacity="0.2"/>
<circle cx="1777" cy="1007.2" r="6.4" fill="#0099df" fill-opacity="0.2"/>
<circle cx="1822.7" cy="1008.8" r="6.4" fill="#0099df" fill-opacity="0.2"/>
<circle cx="1654.9" cy="1070.2" r="6.4" fill="#0099df" fill-opacity="0.2"/>
<circle cx="1692.7" cy="1085.2" r="6.4" fill="#0099df" fill-opacity="0.2"/>
<circle cx="1815.6" cy="1078.1" r="6.4" fill="#0099df" fill-opacity="0.2"/>
<circle cx="1759.7" cy="1123" r="6.4" fill="#0099df" fill-opacity="0.2"/>
<circle cx="1773.1" cy="1126.2" r="6.4" fill="#0099df" fill-opacity="0.2"/>
<circle cx="1845" cy="1228.5" r="6.4" fill="#0099df" fill-opacity="0.2"/>
<circle cx="1760.2" cy="1181.1" r="6.4" fill="#00a287" fill-opacity="0.2"/>
<circle cx="1641.5" cy="965.5" r="6.4" fill="#9f45b0" fill-opacity="0.2"/>
<circle cx="1680.1" cy="970.2" r="6.4" fill="#9f45b0" fill-opacity="0.2"/>
<circle cx="1684.1" cy="978.9" r="6.4" fill="#9f45b0" fill-opacity="0.2"/>
<circle cx="1688" cy="995.4" r="6.4" fill="#9f45b0" fill-opacity="0.2"/>
<circle cx="1625" cy="974.1" r="6.4" fill="#9f45b0" fill-opacity="0.2"/>
<circle cx="1840.9" cy="997.8" r="6.4" fill="#9f45b0" fill-opacity="0.2"/>
<circle cx="1743.2" cy="1077.3" r="6.4" fill="#9f45b0" fill-opacity="0.2"/>
<circle cx="1768.4" cy="1097" r="6.4" fill="#9f45b0" fill-opacity="0.2"/>
<circle cx="1789.6" cy="1142.7" r="6.4" fill="#9f45b0" fill-opacity="0.2"/>
<circle cx="1844" cy="1132.5" r="6.4" fill="#9f45b0" fill-opacity="0.2"/>
<circle cx="1662.8" cy="978.9" r="6.4" fill="#fe4a37" fill-opacity="0.2"/>
<circle cx="1773.1" cy="994.6" r="6.4" fill="#fe4a37" fill-opacity="0.2"/>
<circle cx="1810.1" cy="990.7" r="6.4" fill="#fe4a37" fill-opacity="0.2"/>
<circle cx="1784.9" cy="1004.1" r="6.4" fill="#fe4a37" fill-opacity="0.2"/>
<circle cx="1620.2" cy="1109.6" r="6.4" fill="#fe4a37" fill-opacity="0.2"/>
<circle cx="1700.6" cy="1104.1" r="6.4" fill="#fe4a37" fill-opacity="0.2"/>
<circle cx="1726.6" cy="1109.6" r="6.4" fill="#fe4a37" fill-opacity="0.2"/>
<circle cx="1798.3" cy="1087.6" r="6.4" fill="#fe4a37" fill-opacity="0.2"/>
<circle cx="1789.6" cy="1106.5" r="6.4" fill="#fe4a37" fill-opacity="0.2"/>
<circle cx="1747.1" cy="1134.1" r="6.4" fill="#fe4a37" fill-opacity="0.2"/>
<circle cx="1764.4" cy="1133.3" r="6.4" fill="#fe4a37" fill-opacity="0.2"/>
<circle cx="1641.5" cy="1075.8" r="6.4" fill="#fe4a37" fill-opacity="0.2"/>
<circle cx="1844.8" cy="1079.7" r="6.4" fill="#fe4a37" fill-opacity="0.2"/>
<circle cx="1857.3" cy="952.1" r="6.4" fill="#9f45b0" fill-opacity="0.2"/>
<circle cx="1857.3" cy="952.1" r="6.4" fill="#fe4a37" fill-opacity="0.2"/>
<circle cx="1950.3" cy="952.9" r="6.4" fill="#00a287" fill-opacity="0.2"/>
<circle cx="2010.3" cy="975.7" r="6.4" fill="#00a287" fill-opacity="0.2"/>
<circle cx="1995.3" cy="972.6" r="6.4" fill="#00a287" fill-opacity="0.2"/>
<circle cx="2030.7" cy="1072.7" r="6.4" fill="#00a287" fill-opacity="0.2"/>
<circle cx="1959" cy="1131" r="6.4" fill="#00a287" fill-opacity="0.2"/>
<circle cx="1925.1" cy="1071.9" r="6.4" fill="#00a287" fill-opacity="0.2"/>
<circle cx="1970.8" cy="1064" r="6.4" fill="#00a287" fill-opacity="0.2"/>
<circle cx="1959" cy="965.5" r="6.4" fill="#0099df" fill-opacity="0.2"/>
<circle cx="1979.5" cy="969.4" r="6.4" fill="#0099df" fill-opacity="0.2"/>
<circle cx="1950.3" cy="989.9" r="6.4" fill="#0099df" fill-opacity="0.2"/>
<circle cx="2004" cy="980.4" r="6.4" fill="#0099df" fill-opacity="0.2"/>
<circle cx="2039.4" cy="991.5" r="6.4" fill="#0099df" fill-opacity="0.2"/>
<circle cx="1920.4" cy="1091.6" r="6.4" fill="#0099df" fill-opacity="0.2"/>
<circle cx="1862.1" cy="1098.7" r="6.4" fill="#0099df" fill-opacity="0.2"/>
<circle cx="1899.1" cy="1100.3" r="6.4" fill="#0099df" fill-opacity="0.2"/>
<circle cx="2021.3" cy="1064" r="6.4" fill="#0099df" fill-opacity="0.2"/>
<circle cx="1979.5" cy="961.5" r="6.4" fill="#9f45b0" fill-opacity="0.2"/>
<circle cx="2039.4" cy="972.6" r="6.4" fill="#9f45b0" fill-opacity="0.2"/>
<circle cx="2022.1" cy="982.8" r="6.4" fill="#9f45b0" fill-opacity="0.2"/>
<circle cx="1857.3" cy="983.6" r="6.4" fill="#9f45b0" fill-opacity="0.2"/>
<circle cx="1873.9" cy="979.7" r="6.4" fill="#9f45b0" fill-opacity="0.2"/>
<circle cx="1870" cy="993.1" r="6.4" fill="#9f45b0" fill-opacity="0.2"/>
<circle cx="1937.7" cy="977.3" r="6.4" fill="#9f45b0" fill-opacity="0.2"/>
<circle cx="1967.7" cy="981.2" r="6.4" fill="#9f45b0" fill-opacity="0.2"/>
<circle cx="1959" cy="1112.9" r="6.4" fill="#9f45b0" fill-opacity="0.2"/>
<circle cx="1844.7" cy="1132.6" r="6.4" fill="#9f45b0" fill-opacity="0.2"/>
<circle cx="1949.6" cy="964.7" r="6.4" fill="#fe4a37" fill-opacity="0.2"/>
<circle cx="1870" cy="1115.2" r="6.4" fill="#fe4a37" fill-opacity="0.2"/>
<circle cx="1912.5" cy="1134.1" r="6.4" fill="#fe4a37" fill-opacity="0.2"/>
<circle cx="1998.1" cy="1118.4" r="6.4" fill="#fe4a37" fill-opacity="0.2"/>
<circle cx="1988.2" cy="1086.1" r="6.4" fill="#fe4a37" fill-opacity="0.2"/>
<circle cx="2004.7" cy="1079.8" r="6.4" fill="#fe4a37" fill-opacity="0.2"/>
<circle cx="1891.2" cy="1097.9" r="6.4" fill="#fe4a37" fill-opacity="0.2"/>
<circle cx="1907.8" cy="1102.6" r="6.4" fill="#fe4a37" fill-opacity="0.2"/>
<circle cx="1845.5" cy="1079.8" r="6.4" fill="#fe4a37" fill-opacity="0.2"/>
<circle cx="1866" cy="1079.8" r="6.4" fill="#fe4a37" fill-opacity="0.2"/>
<circle cx="1954.3" cy="1080.5" r="6.4" fill="#fe4a37" fill-opacity="0.2"/>
<circle cx="1961.4" cy="1090" r="6.4" fill="#fe4a37" fill-opacity="0.2"/>
<circle cx="2047.3" cy="1064.8" r="6.4" fill="#fe4a37" fill-opacity="0.2"/>
<circle cx="2035.5" cy="1061.6" r="6.4" fill="#fe4a37" fill-opacity="0.2"/>
<polyline points="187.5,1022.3 192.4,1028.5 196.8,1023.4 201.1,1018.1 208.5,1045.8 212.8,1071 217.1,1097.7 221.4,1102.2 225.8,1107.1 231.4,1112.2 236.9,1115 243.1,1112.1 249.3,1082.9 256.7,1038.4 260.4,1043.4 266.6,1045.8 272.7,1048.3 278.3,1049.2 283.9,1053.2 291.3,1059.4 298.7,1064.4 306.1,1039.7 311.1,1044.6 318.5,1040.9 325.9,1043.4 330.2,1044.6 334.5,1048.3 338.9,1045.1 343.2,1040.9 349.4,1034.7 355.5,1017.4 363,1013.7 367.3,1009.8 371.6,1003.8 377.8,1007.5 385.2,1016.2 392.6,1012.5 397,1009.5 401.3,1008.8 406.2,998.5 411.2,987.7 417.3,991.5 420,991.5 427.4,998.9 431.8,1010 436.1,1018.6 440.4,1018.9 444.7,1021.1 449,1018.8 453.4,1018.6 458.4,1013.6 463.3,1011.2 468.9,1006.6 474.4,1003.8 478.5,1007 482.6,1008.1 486.7,1008.8 490.8,1009.4 495,1013.1 499.1,1013.7 503.2,1014.6 507.4,1016.7 511.5,1018.6 516.4,1018.8 521.3,1016.2 526.2,1019.7 531.2,1021.1 538.6,1014.9 543.5,1014.4 548.5,1014.9 555.9,1017.4 560,1013.1 564.2,1010.4 568.3,1007.5 573.2,1009.6 578.2,1014.9 583.2,1011.1 588.1,1008.8 593,1017.4 598,1010.3 602.9,1001.3 610.3,1003.8 617.7,1001.3 625.2,1008.8 630.1,1001.6 635,997.6 642.5,1001.3 647.4,998.6 652.3,995.2 655,991.5 659.9,989 667.4,993.9 672.3,997.3 677.2,1000.1 682.2,997.6 686.5,1000.7 690.8,1006.3 695.1,1005.9 699.5,1006.3 706.9,1002.6 711.8,1002.3 716.8,1005 721.8,1008.1 726.7,1008.8 734.1,1010 738.4,1013.4 742.7,1013.7 748.9,1003.8 756.3,998.9 761.3,1000.1 767.5,993.4 774.9,995.2 782.3,1002.6 789.7,1003.3 794,1002.1 798.4,1003.8 802.5,1001.6 806.6,997.1 810.7,993.4 815.7,995.4 820.6,995.9 825.5,997.2 830.5,997.6 835.5,999.7 840.4,1001.3 847.8,993.4 855.2,992.7 862.6,988.5 868.8,981.6 875,986.5 880,986 885.2,986 889.5,987.9 893.8,992.8 897.2,1006.6 903.2,1014.3 910.1,1028.1 917.8,1018.6 924.7,1008.3 931.6,1008.3 938.4,1005.7 945.3,1015.2 949.6,1017.7 953.9,1022 959,1019.1 964.2,1016 971.1,1020.3 978.8,1026.3 984.9,1016.9 989.2,1015.6 993.5,1012.6 1000.3,1010 1008.1,1006.6 1015.8,1002.3 1021,1001.4 1027,991.1 1031.7,988.2 1036.4,986.8 1042.4,989.4 1049.3,988.5 1057.1,995.4 1063.9,990.2 1070.8,995.4 1076,999.7 1081.1,997.1 1086.3,1001.4 1088.9,1011.7 1093.2,1010.9 1098.3,1019.5" fill="none" stroke="#0099df" stroke-width="4.8" stroke-linejoin="round"/>
<polyline points="187.5,1112.6 190,1073 197.4,1058.2 204.8,1042.1 209.7,1055.7 215.9,1084.1 220.2,1079.3 224.5,1074.3 230.7,1089.1 236.9,1092.8 244.3,1082.9 251.7,1084.1 257.9,1071.8 262.2,1073.3 266.6,1074.3 270.9,1073.4 275.2,1074.4 279.6,1076.7 283.9,1076.7 288.4,1077 293,1074.5 297.5,1074.3 301.8,1083.6 306.1,1090.3 311.1,1113.8 315.4,1113.3 319.7,1111.3 327.1,1117.5 331.5,1107.9 335.8,1100.2 340.8,1088.6 345.7,1076.7 350.6,1078.1 355.5,1080.4 359.6,1076.9 363.8,1076.4 367.9,1073 372,1073.7 376.2,1070.5 380.3,1070.5 385.2,1064.3 390.2,1060.7 397.6,1060.7 402.6,1051.7 407.5,1042.1 412.4,1038.5 417.3,1033.5 420,1028.5 427.4,1028.5 434.8,1037.2 439.8,1035.2 444.7,1034.7 449.6,1038.4 454.6,1040.9 460.8,1029.8 465.1,1026.8 469.4,1023.6 474.4,1025.9 479.3,1031 484.2,1031.1 489.2,1033.5 494.1,1036.2 499.1,1040.9 506.5,1033.5 513.9,1045.8 521.3,1060.7 528.8,1063.1 536.2,1078 543.6,1078 551,1068.1 556,1064.7 560.9,1058.2 568.3,1047.1 573.2,1045.9 578.2,1044.6 583.2,1042.4 588.1,1039.7 593,1034.9 598,1028.5 603,1027.4 607.9,1026.1 615.3,1021.1 621.4,1011.2 625.8,1013.8 630.1,1013.7 637.5,1011.2 643.7,1016.2 651.1,1023.6 655,1026.1 662.4,1027.3 669.8,1033.5 674.8,1035.7 679.7,1035.9 687.1,1038.4 694.5,1034.7 702,1042.1 706.9,1043.6 711.8,1045.8 716.8,1049 721.7,1053.2 729.2,1045.8 736.6,1048.3 744,1042.1 749,1046.6 753.9,1048.3 758.8,1050.8 762.9,1048.6 767.1,1048.6 771.2,1045.8 777.4,1043.8 783.5,1039.7 787.9,1036.7 792.2,1033.5 797.8,1028.1 803.3,1019.9 808.2,1020.5 813.2,1023.6 818.2,1022.3 823.1,1023.6 828,1023.6 833,1022.3 838,1022.9 842.9,1021.1 847.8,1016.3 852.7,1013.7 860.2,1014.9 865.1,1014.9 872.5,1012.5 880,1011.7 886.9,1018.6 891.2,1023.9 895.5,1030.6 901.5,1042.7 907.5,1051.3 912.7,1053.9 917.8,1047.8 925.6,1045.3 929.9,1040.1 936.7,1046.1 942.7,1058.1 948.8,1075.3 955.6,1084.8 961.7,1082.2 965.9,1087.4 971.1,1073.6 978,1063.3 984.9,1058.1 991.7,1046.1 998.6,1024.6 1003.8,1022.9 1011.5,1013.5 1017.5,1014.3 1024.4,1016.9 1029.6,1018.6 1036.4,1013.5 1040.7,1019.5 1045,1020.3 1051.9,1020.3 1057.1,1027.2 1062.2,1034.1 1069.1,1036.7 1073.4,1038.5 1077.7,1039.2 1082,1038.1 1086.3,1039.2 1092.3,1032.4 1098.3,1044.4" fill="none" stroke="#fe4a37" stroke-width="4.8" stroke-linejoin="round"/>
<polyline points="187.5,1144.7 191.2,1082.9 196.1,1073 201.6,1067.2 207.2,1060.7 214.7,1090.3 219.6,1100.8 224.5,1110.1 228.8,1105.8 233.2,1102.7 239.4,1103.9 244.4,1092.9 249.3,1080.4 254.2,1074.5 259.2,1068.1 264.1,1069.1 269,1068.1 273.4,1065.2 277.7,1064.4 282,1068.1 286.3,1073 290.4,1077.5 294.6,1082.8 298.7,1087.8 302.8,1093.1 307,1099.8 311.1,1103.9 318.5,1127.4 322.8,1128.2 327.1,1131.1 334.5,1117.5 340.1,1102.2 345.7,1087.8 353.1,1086.6 358,1082.9 363,1083.1 367.9,1080.7 372.9,1080.4 377.8,1079.9 382.7,1079.2 387,1070.4 391.4,1063.1 395.7,1054.5 400,1048.3 404.4,1045.8 408.7,1045.8 414.4,1046 420,1045.8 424.9,1041.8 429.9,1040.9 434.9,1041.8 439.8,1042.1 443.9,1040.8 448,1037.2 452.1,1035.9 457.1,1038.7 462,1043.4 466.1,1044.9 470.3,1047.2 474.4,1047.1 479.4,1046.5 484.3,1045.8 491.7,1048.3 496.6,1052.9 501.6,1058.2 506.6,1063.2 511.5,1068.1 516.4,1073.8 521.3,1076.7 526.2,1080.9 531.2,1082.9 536.2,1080 541.1,1079.2 546,1076.2 551,1073 556,1068.1 560.9,1063.1 568.3,1054.5 575.7,1058.2 580.7,1051.5 585.6,1045.8 590.5,1043.8 595.5,1044.6 602.9,1037.2 607.8,1034.3 612.8,1031 620.2,1028.5 625.2,1028.8 630.1,1029.8 635,1028 640,1023.6 645,1029.5 649.9,1033.5 655,1034.7 662.4,1040.9 669.8,1055.7 677.2,1054.5 684.7,1049.5 689,1045.3 693.3,1043.4 698.8,1039.7 704.4,1034.7 710.6,1045.8 718,1054.5 723.6,1059 729.2,1064.4 734.1,1062.3 739,1059.4 744.6,1050.7 750.2,1043.4 754.7,1044.1 759.3,1041 763.8,1040.9 768.7,1040.3 773.7,1037.9 778.6,1035.9 784.2,1039.7 789.7,1042.1 797.1,1043.4 803.3,1045.8 810.7,1038.4 815.7,1036.2 820.6,1031 824.7,1028.9 828.9,1029.2 833,1028.5 838,1030.4 842.9,1029.8 847.2,1028.6 851.5,1026.1 856.4,1021.1 861.4,1032.2 865.7,1027.9 870,1024.8 875,1021.3 880,1018.6 886.9,1023.8 893.8,1035.8 898.9,1053 904.1,1068.5 910.1,1077.1 914.4,1069.3 918.7,1066.6 923,1062.4 927.3,1057.2 931.6,1051.3 936.7,1053 941.9,1065 947.9,1078.8 953.1,1077.1 958.2,1070.2 962.5,1059.9 969.4,1059 974,1058.1 978.5,1060.5 983.1,1059 987.4,1057.4 991.7,1056.4 996,1054.5 1000.3,1051.3 1005.5,1048.1 1010.6,1046.1 1015.8,1043.1 1021,1039.2 1026.1,1034.1 1033,1027.2 1040.7,1032.4 1045,1028.9 1049.3,1028.1 1053.6,1028.1 1060.5,1034.9 1064.8,1035.8 1069.1,1037.5 1076,1042.7 1081.1,1047 1086.3,1056.4 1093.2,1065 1097.5,1079.6" fill="none" stroke="#00a287" stroke-width="4.8" stroke-linejoin="round"/>
<polyline points="187.5,1139.8 192.4,1105.2 198.6,1090.3 203.6,1072.8 208.5,1055.7 212.8,1083.1 217.1,1112.6 222.1,1097.7 226.4,1096.6 230.7,1097.7 238.1,1097.7 245.6,1048.3 249.9,1054.3 254.2,1058.2 261.6,1073 269,1097.7 273.4,1096.8 277.7,1095.3 283.1,1099.7 288.4,1105.4 293.8,1108.9 301.2,1100.2 306.1,1104.9 311.1,1107.6 318.5,1117.5 325.9,1122.5 333.3,1117.5 340.7,1127.4 345.6,1129.2 350.6,1132.3 358,1122.5 362.4,1112.9 366.7,1105.2 371,1104.2 375.3,1103.9 382.7,1100.2 387.6,1099.2 392.6,1095.3 400,1073 404.4,1058.8 408.7,1043.4 414.4,1042.5 420,1040.9 426.2,1043.4 432.4,1032.2 437.3,1043.4 442.2,1034.7 447.1,1039 452.1,1042.1 457.1,1048.6 462,1058.2 469.4,1059.4 475.6,1054.5 483,1061.9 487.4,1054.6 491.7,1048.3 496.6,1051.5 501.6,1055.7 506.6,1056.9 511.5,1058.2 518.9,1070.5 526.3,1073 530.6,1082.3 534.9,1089.1 541.1,1081.7 546,1086.8 551,1090.3 557.2,1082.9 563.4,1068.1 568.3,1067.3 573.2,1065.6 578.2,1059 583.1,1053.2 588,1051 593,1048.3 598,1049.1 602.9,1048.3 610.3,1040.9 615.2,1036.9 620.2,1032.2 625.2,1032.1 630.1,1034.7 637.5,1040.9 641.9,1044.9 646.2,1049.5 653.6,1039.7 655,1040.9 659.4,1039.9 663.7,1038.4 669.2,1035.3 674.8,1034.7 682.2,1043.4 689.6,1045.8 695.2,1049.8 700.7,1054.5 706.2,1056.2 711.8,1060.7 719.3,1064.4 726.7,1068.1 732.9,1078 739,1082.9 743.1,1083.2 747.3,1081.8 751.4,1082.9 755.1,1079.2 760.1,1086.6 764.4,1084.3 768.7,1082.9 773.6,1078 778.5,1076.5 783.5,1075.5 790.9,1071.8 798.4,1058.2 805.8,1045.8 811.3,1039.4 816.9,1034.7 822.5,1035.6 828,1034.7 833,1033 837.9,1031 842.8,1028.2 847.8,1028.5 852.1,1023.2 856.4,1016.2 860.8,1016.1 865.1,1018.6 869.4,1019.9 873.7,1019.9 880,1025.5 886.9,1030.6 892.9,1041 897.2,1054.7 903.2,1065 910.1,1071.9 917,1071.9 923,1075.3 928.1,1080.5 931.6,1082.2 936.7,1092.5 942.7,1111.4 947.9,1126.9 952.2,1128.6 959.1,1120 964.2,1109.7 969.4,1092.5 974.5,1080.5 981.4,1068.5 988.3,1051.3 995.2,1041 1002,1032.4 1007.2,1027.2 1012.4,1023.8 1017.5,1030.6 1021,1036.7 1026.1,1037.5 1033,1046.1 1039.9,1045.3 1044.6,1042.1 1049.3,1038.4 1057.1,1041.8 1061.3,1042.6 1065.6,1042.7 1070.8,1049.5 1077.7,1053.9 1082,1055.4 1086.3,1054.7 1091.9,1053.2 1097.5,1051.3" fill="none" stroke="#9f45b0" stroke-width="4.8" stroke-linejoin="round"/>
<polyline points="1143.2,1004.1 1149.5,1000.1 1154.2,1004.7 1158.9,1006.4 1165.2,1011.9 1173.1,1020.6 1181,1026.1 1187.3,1020.6 1193.6,1017.5 1201.5,1024.6 1209.3,1017.5 1214.1,1027.7 1220.4,1023 1225.1,1027.7 1231.4,1023.8 1236.2,1023.7 1240.9,1025.3 1245.6,1025.3 1248.7,1038.7 1253.5,1034.8 1256.6,1027.7 1261.3,1034.8 1267.6,1026.1 1274,1029.3 1278.7,1012.7 1283.4,1027.7 1289.7,1026.9 1297.6,1023.8 1302.3,1024.5 1307,1024.6 1314.9,1027.7 1319.6,1021.4 1324.4,1024.6 1329.1,1016.7 1334.6,1023 1340.1,1027.7 1348,1028.5 1352.7,1027.7 1358.3,1020.6 1362.2,1027.7 1366.9,1023 1373.2,1024.6 1381.3,1025.3 1387.6,1019 1393.1,1019.2 1398.6,1019.8 1406.5,1020.6 1411.2,1022.6 1416,1023 1420.7,1022.2 1425.4,1024.6 1430.2,1018.6 1434.9,1013.5 1442.8,1000.1 1447.5,998.7 1452.2,994.6 1456.9,996.2 1463.2,1011.9 1469.6,1015.9 1477.4,1030.9 1485.3,1034.8 1491.6,1030.9 1496.3,1028.8 1501.1,1026.9 1505.8,1026.1 1510.5,1022.2 1515.2,1028.5 1521.6,1026.1 1526.3,1023.7 1531,1019 1538.9,1026.1 1543.6,1020.6 1548.3,1007.2 1553.1,1008 1559.4,1015.9 1565.7,1003.3 1573.6,1010.4 1581.4,1024.6 1589.3,1017.5 1597.2,1008.8 1601.9,1008 1606.6,1004.1 1610,1000.9 1616.3,1003.3 1622.6,1005.6 1628.9,1010.4 1635.2,1009.6 1641.5,1019.8 1649.4,1020.6 1655.7,1032.4 1663.6,1027.7 1669.9,1019 1676.2,1026.1 1680.9,1034 1687.2,1026.9 1695.1,1035.6 1699.8,1038.1 1704.6,1037.9 1712.4,1027.7 1720.3,1034 1725,1031.4 1729.8,1030.1 1736.1,1034.8 1743.9,1043.5 1751.8,1049.8 1756.6,1045 1761.3,1059.2 1766,1051.3 1770.7,1056.1 1777,1046.6 1783.3,1040.3 1791.2,1032.4 1799.1,1027.7 1807,1037.2 1813.3,1052.9 1821.2,1059.2 1829,1070.2 1833.8,1093.9 1836.9,1114.4 1840.9,1121.5 1844.7,1090.8 1849.5,1094 1857.3,1087.6 1862.1,1059.3 1865.2,1030.9 1870,1030.9 1874.7,1040.3 1877.8,1032.5 1882.6,1040.3 1887.3,1053 1893.6,1057.7 1899.9,1056.1 1906.2,1067.1 1912.5,1062.4 1918.8,1053 1925.1,1046.7 1929.9,1046.7 1936.2,1029.3 1944,1024.6 1950.3,1015.9 1958.2,1014.3 1966.1,1012 1972.4,1007.2 1980.3,1004.1 1986.6,999.4 1994.5,997.8 2000,999.7 2005.5,999.4 2010.3,1007.2 2018.1,1024.6 2026,1027.7 2033.9,1035.6 2038.6,1028.5 2044.9,1023 2049.7,1013.5 2053.6,996.2" fill="none" stroke="#0099df" stroke-width="4.8" stroke-linejoin="round"/>
<polyline points="1143.2,1038.7 1146.3,1049.8 1152.6,1047.4 1159.7,1052.9 1167.6,1043.5 1174.7,1050.6 1182.5,1049 1188.9,1046.6 1195.2,1046.6 1203,1044.2 1209.3,1035.6 1215.6,1040.3 1223.5,1046.6 1229.8,1047.4 1234.6,1038.7 1240.9,1035.6 1247.2,1030.9 1253.5,1021.4 1259.8,1026.1 1264.5,1029.6 1269.2,1035.6 1273.4,1039 1277.6,1041.2 1281.8,1043.5 1286.5,1047.6 1291.3,1049.8 1299.2,1057.6 1307,1051.3 1311.8,1050 1316.5,1047.4 1324.4,1044.2 1329.9,1034 1331.5,1021.4 1337,1011.2 1341.7,1019.8 1346.4,1031.6 1351.2,1033.2 1355.9,1037.2 1360.6,1040.3 1366.9,1057.6 1371.6,1059.2 1376.4,1049.8 1379.7,1037.2 1382.9,1023.8 1390.8,1027.7 1398.6,1023 1406.5,1023 1412.8,1037.2 1420.7,1041.1 1425.4,1041.9 1431.7,1058.4 1436.5,1052.9 1442.8,1037.9 1447.5,1043.5 1453.8,1038.7 1458.5,1035.2 1463.2,1033.2 1469.6,1046.6 1475.9,1059.2 1480.6,1075 1485.3,1075.8 1490,1078.9 1497.9,1082.9 1505.8,1081.3 1513.7,1076.6 1518.4,1073.3 1523.1,1071.8 1529.4,1062.4 1532.6,1055.3 1538.9,1052.9 1545.2,1059.2 1553.1,1049.8 1561,1051.3 1567.3,1049 1573.6,1048.2 1578.3,1059.2 1583,1075 1589.3,1071 1594,1073.3 1598.8,1077.3 1605.1,1071 1610,1064 1614.7,1052.9 1621,1046.6 1627.3,1048.2 1633.6,1049.8 1638.4,1034 1643.1,1040.3 1649.4,1034 1654.1,1026.1 1660.4,1026.1 1666.7,1035.6 1673,1041.9 1677.8,1056.1 1684.1,1064.7 1691.9,1064.7 1696.7,1067.3 1701.4,1068.7 1706.2,1068 1710.9,1069.5 1715.6,1066.6 1720.3,1064 1726.6,1057.6 1730.6,1047.4 1734.5,1059.2 1740.8,1057.6 1745.5,1064 1751.8,1078.1 1756.6,1082.1 1764.4,1076.6 1772.3,1070.2 1778.6,1052.9 1783.3,1048.2 1789.6,1060 1796,1045 1802.3,1040.3 1808.6,1038.7 1814.9,1046.6 1822.7,1051.3 1830.6,1068.7 1836.9,1067.1 1840,1067.1 1844.7,1037.2 1849.5,1040.3 1854.2,1049.8 1858.9,1053 1865.2,1046.7 1870,1043.5 1874.7,1060.8 1879.4,1065.6 1887.3,1054.5 1892,1062.4 1898.3,1086.1 1903.1,1081.3 1909.4,1068.7 1915.7,1064 1922,1059.3 1928.3,1043.5 1934.6,1027.7 1940.9,1017.5 1947.2,1032.5 1955.1,1038.8 1963,1041.9 1970.8,1048.2 1978.7,1038.8 1983.5,1041.9 1988.2,1035.6 1994.5,1042.7 2000.8,1041.9 2007.1,1047.4 2013.4,1051.4 2019.7,1053.7 2027.6,1054.5 2032.3,1053 2037.1,1043.5 2044.9,1038.8 2052,1032.5" fill="none" stroke="#fe4a37" stroke-width="4.8" stroke-linejoin="round"/>
<polyline points="1143.2,1010.4 1146.3,1026.1 1151,1028.8 1155.8,1033.2 1160.5,1032.8 1165.2,1034 1170.7,1036.7 1176.2,1036.4 1181,1035.6 1185.7,1031.6 1192,1032.4 1197.5,1037.1 1203,1038.7 1209.3,1035.6 1215.6,1041.1 1221.9,1035.6 1228.2,1034.8 1236.1,1019.8 1244,1015.9 1250.3,1015.9 1253.5,1010.4 1259.8,1016.7 1266.1,1029.3 1273.9,1032.4 1281.8,1032.4 1286.5,1036.6 1291.3,1040.3 1299.2,1046.6 1307,1035.6 1314.9,1041.9 1322.8,1038.7 1327.5,1037.1 1332.3,1034.8 1340.1,1041.1 1348,1041.9 1352.8,1039.9 1357.5,1040.3 1362.2,1035 1366.9,1027.7 1373.2,1034.8 1378.1,1031.2 1382.9,1029.3 1390.8,1027.7 1395.5,1030.5 1400.2,1030.1 1408.1,1016.7 1416,1021.4 1423.9,1024.6 1428.6,1032.6 1433.3,1040.3 1438,1032.4 1442.8,1025.9 1447.5,1019.8 1455.4,1021.4 1463.2,1018.2 1468,1024.4 1472.7,1033.2 1480.6,1039.5 1488.5,1054.5 1493.2,1056.3 1497.9,1058.4 1504.2,1045 1509,1042.7 1516.8,1031.6 1521.5,1026.9 1526.3,1019.8 1534.2,1015.9 1540.5,1007.2 1548.3,1015.9 1554.6,1016.7 1562.5,1037.2 1570.4,1047.4 1576.7,1059.2 1584.6,1068.7 1589.3,1065.5 1595.6,1069.5 1603.5,1070.2 1609.8,1057.5 1614.7,1040.3 1621,1023 1627.3,1025.3 1632.8,1021.4 1638.4,1029.3 1643.9,1029.8 1649.4,1030.9 1657.3,1026.1 1662,1026.1 1666.7,1024.6 1673,1030.9 1679.3,1049 1685.6,1049 1689.8,1048.6 1694,1051.3 1698.2,1050.6 1702.4,1051 1706.7,1050.1 1710.9,1051.3 1718.7,1054.5 1726.6,1037.2 1734.5,1038.7 1739.2,1038.5 1743.9,1038.7 1748.7,1059.2 1755,1081.3 1761.3,1107.3 1765.5,1108.1 1769.7,1107.2 1773.9,1107.3 1780.2,1076.6 1786.5,1057.6 1792.8,1034 1798.3,1020.6 1803.8,1025.3 1808.6,1024.6 1813.3,1030.9 1819.6,1030.9 1825.9,1043.5 1832.2,1064 1838.5,1052.9 1844.7,1040.3 1851,1044.3 1857.3,1038.8 1865.2,1024.6 1870.8,1024.7 1876.3,1026.2 1881,1029.8 1885.7,1030.9 1890.5,1033.6 1895.2,1037.2 1901.5,1046.7 1906.2,1054.5 1909.4,1048.2 1914.1,1054.5 1918.8,1043.5 1926.7,1032.5 1934.6,1013.5 1942.5,1002.5 1947.2,1015.1 1953.5,1032.5 1961.4,1037.2 1966.1,1043.3 1970.8,1046.7 1977.1,1032.5 1981.9,1023 1988.2,1012 1994.5,1015.9 2000.8,1008 2007.1,1015.1 2011.8,1024.6 2018.1,1040.3 2024.4,1043.5 2030.7,1048.2 2037.1,1040.3 2043.4,1032.5 2049.7,1030.9 2052.8,996.2" fill="none" stroke="#00a287" stroke-width="4.8" stroke-linejoin="round"/>
<polyline points="1143.2,1026.1 1151,1020.6 1155.8,1027.6 1160.5,1032.4 1165.2,1034.6 1169.9,1038.7 1177.8,1055.3 1185.7,1047.4 1193.6,1043.5 1198.3,1042.5 1203,1041.9 1206.2,1024.6 1212.5,1029.3 1218.8,1016.7 1225.1,1005.6 1231.4,997 1239.3,1000.1 1245.6,995.4 1251.9,1000.9 1258.2,1010.4 1266.1,1008.8 1270.8,1012 1275.5,1014.3 1283.4,1023.8 1288.2,1024.9 1292.9,1023 1297.6,1018.9 1302.3,1016.7 1307,1014.6 1311.8,1011.9 1318.1,1002.5 1322.8,993.8 1327.5,1000.9 1333.8,1019.8 1340.1,1027.7 1346.4,1038.7 1354.3,1054.5 1360.6,1045 1366.9,1033.2 1373.2,1040.3 1381.3,1048.2 1387.6,1043.5 1393.9,1037.9 1401,1044.2 1406.5,1029.3 1411.2,1028.3 1416,1024.6 1420.7,1027.7 1425.4,1032.4 1433.3,1027.7 1439.6,1021.4 1447.5,1007.2 1455.4,1018.2 1463.2,1026.1 1469.6,1034 1477.4,1039.5 1483.7,1021.4 1488.5,1014.4 1493.2,1005.6 1497.9,1011.2 1502.6,1015.9 1510.5,1011.9 1516.8,1027.7 1524.7,1028.5 1531,1013.5 1535.8,1005.8 1540.5,996.2 1545.2,1009.6 1553.1,1009.6 1559.4,1019.8 1564.1,1032.4 1570.4,1045 1576.7,1024.6 1581.4,1018.2 1587.7,1002.5 1594,988.3 1600.3,985.9 1606.6,993 1611.4,986.7 1617.9,988.3 1625,996.2 1630.5,990.7 1637.6,989.1 1644.7,999.3 1652.5,1002.5 1658.9,1007.2 1665.2,1003.3 1670.3,999 1675.4,992.2 1679.8,997.7 1684.1,1004.1 1691.9,1013.5 1699.8,1029.3 1707.7,1033.2 1712.5,1033.1 1717.2,1032.4 1721.9,1031.7 1726.6,1030.9 1731.3,1035.6 1737.6,1033.2 1742.4,1043.5 1747.1,1056.1 1753.4,1052.9 1758.1,1060.8 1766,1071 1773.9,1062.4 1781.8,1073.4 1786.5,1060.8 1792.8,1051.3 1799.1,1046.6 1805.4,1043.5 1808.6,1034.8 1814.9,1034 1821.2,1033.2 1827.5,1034.8 1832.2,1049.8 1838.5,1038.7 1846.3,1029.3 1851,1026.6 1855.8,1023 1862.1,1000.9 1868.4,1002.5 1874.7,1010.4 1881,1008 1887.3,1018.3 1893.6,1030.9 1899.9,1035.6 1904.6,1032.5 1909.4,1038.8 1917.2,1035.6 1923.5,1021.4 1929.9,1023 1936.2,1016.7 1941.7,1008.8 1947.2,1024.6 1953.5,1030.9 1959.8,1020.6 1966.1,1017.5 1972.4,1015.1 1978.7,996.2 1983.5,999.4 1988.2,997.8 1994.5,1009.6 2000,1012.8 2005.5,1015.1 2010.3,1010.4 2018.1,1015.9 2024.4,1007.2 2029.2,1005.6 2033.9,1007.2 2041.8,1005.7 2046.5,1012 2051.2,993.1" fill="none" stroke="#9f45b0" stroke-width="4.8" stroke-linejoin="round"/>
<text x="172.3" y="1216.1" font-size="47" text-anchor="end" fill="#262626">2</text>
<text x="172.3" y="1131.1" font-size="47" text-anchor="end" fill="#262626">2.2</text>
<text x="172.3" y="1046.1" font-size="47" text-anchor="end" fill="#262626">2.4</text>
<text x="172.3" y="961.2" font-size="47" text-anchor="end" fill="#262626">2.6</text>
<text x="258.6" y="1301.6" font-size="47" text-anchor="middle" fill="#262626">07.02</text>
<text x="453.4" y="1301.6" font-size="47" text-anchor="middle" fill="#262626">07.03</text>
<text x="649.1" y="1301.6" font-size="47" text-anchor="middle" fill="#262626">07.04</text>
<text x="844.8" y="1301.6" font-size="47" text-anchor="middle" fill="#262626">07.05</text>
<text x="1040" y="1301.6" font-size="47" text-anchor="middle" fill="#262626">07.06</text>
<text x="1198" y="1301.6" font-size="47" text-anchor="middle" fill="#262626">12.07</text>
<text x="1401.2" y="1301.6" font-size="47" text-anchor="middle" fill="#262626">12.08</text>
<text x="1604.2" y="1301.6" font-size="47" text-anchor="middle" fill="#262626">12.09</text>
<text x="1807.3" y="1301.6" font-size="47" text-anchor="middle" fill="#262626">12.10</text>
<text x="2009.8" y="1301.6" font-size="47" text-anchor="middle" fill="#262626">12.11</text>
<text x="645.6" y="1369.4" font-size="55.3" text-anchor="middle" fill="#262626">Date / Time (H)</text>
<text x="1600.6" y="1369.4" font-size="55.3" text-anchor="middle" fill="#262626">Date / Time (H)</text>
<text transform="translate(63.9 1070.6) rotate(-90)" font-size="55" text-anchor="middle" fill="#262626">D<tspan font-size="45" dy="27.3">2</tspan></text>
<rect x="845.2" y="1131.5" width="253.6" height="105.2" fill="#fff" stroke="#4a4a4a" stroke-width="1.3"/>
<line x1="852.6" y1="1159.4" x2="931" y2="1159.4" stroke="#0099df" stroke-width="5.8"/>
<line x1="852.6" y1="1208.4" x2="931" y2="1208.4" stroke="#fe4a37" stroke-width="5.8"/>
<text x="936.4" y="1174.9" font-size="39.3" text-anchor="start" fill="#000">T2, 2.2m</text>
<text x="936.4" y="1223.3" font-size="39.3" text-anchor="start" fill="#000">T1, 4m</text>
<rect x="1144.2" y="1130.2" width="243.2" height="105.2" fill="#fff" stroke="#1c1c1c" stroke-width="1.5"/>
<line x1="1153" y1="1158.1" x2="1230.8" y2="1158.1" stroke="#00a287" stroke-width="5.8"/>
<line x1="1153" y1="1207.1" x2="1230.8" y2="1207.1" stroke="#9f45b0" stroke-width="5.8"/>
<text x="1236.4" y="1173.2" font-size="39.3" text-anchor="start" fill="#000">T1, 8m</text>
<text x="1236.4" y="1222.1" font-size="39.3" text-anchor="start" fill="#000">T1, 16m</text>
</svg>
</body></html>
